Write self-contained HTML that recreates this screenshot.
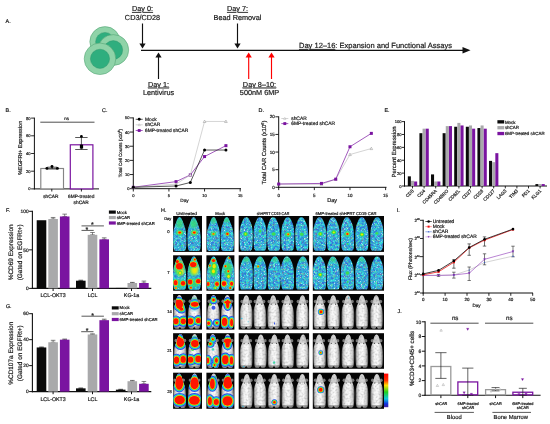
<!DOCTYPE html>
<html lang="en"><head><meta charset="utf-8"><title>Figure</title>
<style>
html,body{margin:0;padding:0;background:#fff;}
body{width:550px;height:424px;overflow:hidden;}
svg{display:block;font-family:"Liberation Sans",sans-serif;}
text{stroke:#1a1a1a;stroke-width:0.2px;text-rendering:geometricPrecision;}
</style></head><body>
<svg width="550" height="424" viewBox="0 0 550 424">
<rect width="550" height="424" fill="#fff"/>
<g font-size="4.2" fill="#222" text-anchor="middle">
<text x="186.6" y="215.35" textLength="20.8" lengthAdjust="spacingAndGlyphs">Untreated</text>
<text x="220.2" y="215.35" textLength="10" lengthAdjust="spacingAndGlyphs">Mock</text>
<text x="273.0" y="215.35" textLength="32.5" lengthAdjust="spacingAndGlyphs">shHPRT CD19 CAR</text>
<text x="346.0" y="215.35" textLength="61" lengthAdjust="spacingAndGlyphs">6MP-treated shHPRT CD19 CAR</text>
</g>
<defs>
<linearGradient id="bodyw" x1="0" y1="0" x2="1" y2="0"><stop offset="0" stop-color="#5a5a5a"/><stop offset="0.13" stop-color="#c4c4c4"/><stop offset="0.32" stop-color="#f4f4f4"/><stop offset="0.6" stop-color="#fbfbfb"/><stop offset="0.85" stop-color="#cdcdcd"/><stop offset="1" stop-color="#5a5a5a"/></linearGradient>
<linearGradient id="headw" x1="0" y1="0" x2="1" y2="0"><stop offset="0" stop-color="#777"/><stop offset="0.5" stop-color="#dcdcdc"/><stop offset="1" stop-color="#777"/></linearGradient>
<linearGradient id="cbar" x1="0" y1="0" x2="0" y2="1"><stop offset="0" stop-color="#ff0000"/><stop offset="0.2" stop-color="#ff3000"/><stop offset="0.35" stop-color="#ffe000"/><stop offset="0.55" stop-color="#20d020"/><stop offset="0.75" stop-color="#10c8e0"/><stop offset="0.9" stop-color="#1030e0"/><stop offset="1" stop-color="#4020a0"/></linearGradient>
<filter id="heat" x="0" y="0" width="1" height="1" color-interpolation-filters="sRGB"><feTurbulence type="fractalNoise" baseFrequency="0.45" numOctaves="2" seed="11" result="a"/><feColorMatrix in="a" type="matrix" values="2.6 0 0 0 -0.8  0 2.6 0 0 -0.8  2.6 0 0 0 -0.8  0 0 0 0 1"/><feComponentTransfer result="col"><feFuncR type="table" tableValues="0.26 0.20 0.17 0.19 0.25 0.38"/><feFuncG type="table" tableValues="0.46 0.56 0.64 0.70 0.78 0.87"/><feFuncB type="table" tableValues="0.86 0.87 0.86 0.83 0.78 0.70"/></feComponentTransfer><feTurbulence type="fractalNoise" baseFrequency="1.3" numOctaves="1" seed="23" result="b"/><feColorMatrix in="b" type="matrix" values="0 0 0 0 0.9  0 0 0 0 0.96  0 0 0 0 1  4 0 0 0 -2.38" result="spk"/><feMerge><feMergeNode in="col"/><feMergeNode in="spk"/></feMerge><feComposite in2="SourceGraphic" operator="in"/></filter>
<filter id="fur" x="0" y="0" width="1" height="1" color-interpolation-filters="sRGB"><feTurbulence type="fractalNoise" baseFrequency="0.5" numOctaves="2" seed="5" result="n"/><feColorMatrix in="n" type="matrix" values="0 0 0 0 0  0 0 0 0 0  0 0 0 0 0  -2.5 0 0 0 1.45"/><feComposite in2="SourceGraphic" operator="in"/></filter>
<filter id="bl" x="-0.3" y="-0.3" width="1.6" height="1.6"><feGaussianBlur stdDeviation="0.4"/></filter>
<filter id="blM" x="-0.5" y="-0.5" width="2" height="2"><feGaussianBlur stdDeviation="0.5"/></filter>
<filter id="blS" x="-0.5" y="-0.5" width="2" height="2"><feGaussianBlur stdDeviation="0.9"/></filter>
</defs>
<rect x="173.10" y="216.00" width="28.90" height="35.90" fill="#050505"/>
<clipPath id="m1"><path d="M179.55,216.90 C181.00,216.90 181.95,219.28 183.04,222.34 C184.40,226.08 186.27,228.80 186.37,237.98 C186.46,246.82 186.30,250.90 184.19,250.90 L175.61,250.90 C173.50,250.90 173.26,246.82 173.17,237.98 C173.07,228.80 174.89,226.08 176.17,222.34 C177.20,219.28 178.10,216.90 179.55,216.90Z"/></clipPath>
<path d="M179.55,216.90 C181.00,216.90 181.95,219.28 183.04,222.34 C184.40,226.08 186.27,228.80 186.37,237.98 C186.46,246.82 186.30,250.90 184.19,250.90 L175.61,250.90 C173.50,250.90 173.26,246.82 173.17,237.98 C173.07,228.80 174.89,226.08 176.17,222.34 C177.20,219.28 178.10,216.90 179.55,216.90Z" fill="#2b7fdc" filter="url(#heat)"/>
<g clip-path="url(#m1)"><g filter="url(#blS)">
<ellipse cx="179.62" cy="223.70" rx="4.50" ry="5.20" fill="#22c4ea" opacity="0.6"/>
<ellipse cx="179.62" cy="223.70" rx="3.80" ry="4.50" fill="#3fe23c" opacity="0.55"/>
</g></g>
<g clip-path="url(#m1)"><g filter="url(#blM)">
<ellipse cx="179.71" cy="232.54" rx="3.50" ry="2.90" fill="#3fe23c" opacity="0.9"/>
<ellipse cx="181.83" cy="245.80" rx="1.50" ry="1.50" fill="#22c4ea" opacity="0.6"/>
<ellipse cx="181.83" cy="245.80" rx="0.80" ry="0.80" fill="#3fe23c" opacity="0.85"/>
<ellipse cx="179.71" cy="232.54" rx="2.60" ry="2.00" fill="#ffe600" opacity="0.95"/>
</g></g>
<g clip-path="url(#m1)"><g filter="url(#bl)">
<ellipse cx="179.71" cy="232.54" rx="2.70" ry="2.30" fill="#22c4ea" opacity="1"/>
<ellipse cx="179.71" cy="232.54" rx="2.30" ry="1.90" fill="#3fe23c" opacity="1"/>
<ellipse cx="179.71" cy="232.54" rx="1.90" ry="1.50" fill="#ffe600" opacity="1"/>
<ellipse cx="179.71" cy="232.54" rx="1.50" ry="1.10" fill="#ff1400" opacity="1"/>
</g></g>
<clipPath id="m2"><path d="M193.61,216.90 C195.06,216.90 196.03,219.28 197.15,222.34 C198.55,226.08 200.45,228.80 200.64,237.98 C200.82,246.82 200.70,250.90 198.59,250.90 L190.01,250.90 C187.90,250.90 187.62,246.82 187.44,237.98 C187.25,228.80 189.04,226.08 190.29,222.34 C191.28,219.28 192.16,216.90 193.61,216.90Z"/></clipPath>
<path d="M193.61,216.90 C195.06,216.90 196.03,219.28 197.15,222.34 C198.55,226.08 200.45,228.80 200.64,237.98 C200.82,246.82 200.70,250.90 198.59,250.90 L190.01,250.90 C187.90,250.90 187.62,246.82 187.44,237.98 C187.25,228.80 189.04,226.08 190.29,222.34 C191.28,219.28 192.16,216.90 193.61,216.90Z" fill="#2b7fdc" filter="url(#heat)"/>
<g clip-path="url(#m2)"><g filter="url(#blS)">
<ellipse cx="193.75" cy="223.70" rx="4.50" ry="5.20" fill="#22c4ea" opacity="0.6"/>
<ellipse cx="193.75" cy="223.70" rx="3.80" ry="4.50" fill="#3fe23c" opacity="0.55"/>
</g></g>
<g clip-path="url(#m2)"><g filter="url(#blM)">
<ellipse cx="194.26" cy="232.54" rx="3.50" ry="2.90" fill="#3fe23c" opacity="0.9"/>
<ellipse cx="194.26" cy="232.54" rx="2.60" ry="2.00" fill="#ffe600" opacity="0.95"/>
</g></g>
<g clip-path="url(#m2)"><g filter="url(#bl)">
<ellipse cx="194.26" cy="232.54" rx="2.70" ry="2.30" fill="#22c4ea" opacity="1"/>
<ellipse cx="194.26" cy="232.54" rx="2.30" ry="1.90" fill="#3fe23c" opacity="1"/>
<ellipse cx="194.26" cy="232.54" rx="1.90" ry="1.50" fill="#ffe600" opacity="1"/>
<ellipse cx="194.26" cy="232.54" rx="1.50" ry="1.10" fill="#ff1400" opacity="1"/>
</g></g>
<rect x="206.40" y="216.00" width="28.00" height="35.90" fill="#050505"/>
<clipPath id="m3"><path d="M213.60,216.90 C215.05,216.90 215.95,219.28 216.98,222.34 C218.27,226.08 220.09,228.80 220.01,237.98 C219.94,246.82 219.70,250.90 217.59,250.90 L209.01,250.90 C206.90,250.90 206.74,246.82 206.81,237.98 C206.89,228.80 208.77,226.08 210.12,222.34 C211.20,219.28 212.15,216.90 213.60,216.90Z"/></clipPath>
<path d="M213.60,216.90 C215.05,216.90 215.95,219.28 216.98,222.34 C218.27,226.08 220.09,228.80 220.01,237.98 C219.94,246.82 219.70,250.90 217.59,250.90 L209.01,250.90 C206.90,250.90 206.74,246.82 206.81,237.98 C206.89,228.80 208.77,226.08 210.12,222.34 C211.20,219.28 212.15,216.90 213.60,216.90Z" fill="#2b7fdc" filter="url(#heat)"/>
<g clip-path="url(#m3)"><g filter="url(#blS)">
<ellipse cx="213.57" cy="220.30" rx="3.80" ry="3.10" fill="#22c4ea" opacity="0.6"/>
<ellipse cx="213.57" cy="220.30" rx="3.10" ry="2.40" fill="#3fe23c" opacity="0.55"/>
</g></g>
<g clip-path="url(#m3)"><g filter="url(#blM)">
<ellipse cx="213.45" cy="233.90" rx="2.60" ry="2.30" fill="#3fe23c" opacity="0.9"/>
<ellipse cx="213.45" cy="233.90" rx="1.70" ry="1.40" fill="#ffe600" opacity="0.95"/>
</g></g>
<g clip-path="url(#m3)"><g filter="url(#bl)">
<ellipse cx="213.45" cy="233.90" rx="2.00" ry="1.90" fill="#22c4ea" opacity="1"/>
<ellipse cx="213.45" cy="233.90" rx="1.60" ry="1.50" fill="#3fe23c" opacity="1"/>
<ellipse cx="213.45" cy="233.90" rx="1.20" ry="1.10" fill="#ffe600" opacity="1"/>
<ellipse cx="213.45" cy="233.90" rx="0.80" ry="0.70" fill="#ff1400" opacity="1"/>
</g></g>
<clipPath id="m4"><path d="M226.65,216.90 C228.11,216.90 229.09,219.28 230.22,222.34 C231.63,226.08 233.55,228.80 233.78,237.98 C234.00,246.82 233.90,250.90 231.79,250.90 L223.21,250.90 C221.10,250.90 220.80,246.82 220.58,237.98 C220.35,228.80 222.13,226.08 223.36,222.34 C224.34,219.28 225.20,216.90 226.65,216.90Z"/></clipPath>
<path d="M226.65,216.90 C228.11,216.90 229.09,219.28 230.22,222.34 C231.63,226.08 233.55,228.80 233.78,237.98 C234.00,246.82 233.90,250.90 231.79,250.90 L223.21,250.90 C221.10,250.90 220.80,246.82 220.58,237.98 C220.35,228.80 222.13,226.08 223.36,222.34 C224.34,219.28 225.20,216.90 226.65,216.90Z" fill="#2b7fdc" filter="url(#heat)"/>
<g clip-path="url(#m4)"><g filter="url(#blS)">
<ellipse cx="226.74" cy="220.30" rx="3.80" ry="3.10" fill="#22c4ea" opacity="0.6"/>
<ellipse cx="226.74" cy="220.30" rx="3.10" ry="2.40" fill="#3fe23c" opacity="0.55"/>
</g></g>
<g clip-path="url(#m4)"><g filter="url(#bl)">
<ellipse cx="227.41" cy="233.90" rx="2.50" ry="2.30" fill="#22c4ea" opacity="1"/>
<ellipse cx="227.41" cy="233.90" rx="2.10" ry="1.90" fill="#3fe23c" opacity="1"/>
<ellipse cx="227.41" cy="233.90" rx="1.70" ry="1.50" fill="#ffe600" opacity="1"/>
<ellipse cx="227.41" cy="233.90" rx="1.30" ry="1.10" fill="#ff1400" opacity="1"/>
</g></g>
<rect x="238.70" y="216.00" width="70.40" height="35.90" fill="#050505"/>
<clipPath id="m5"><path d="M246.27,217.20 C248.24,217.20 249.41,218.88 250.45,221.89 C251.63,224.57 252.80,227.25 252.78,235.62 C252.76,246.01 252.55,250.70 250.46,250.70 L241.94,250.70 C239.85,250.70 239.66,246.01 239.68,235.62 C239.70,227.25 240.88,224.57 242.07,221.89 C243.12,218.88 244.31,217.20 246.27,217.20Z"/></clipPath>
<path d="M246.27,217.20 C248.24,217.20 249.41,218.88 250.45,221.89 C251.63,224.57 252.80,227.25 252.78,235.62 C252.76,246.01 252.55,250.70 250.46,250.70 L241.94,250.70 C239.85,250.70 239.66,246.01 239.68,235.62 C239.70,227.25 240.88,224.57 242.07,221.89 C243.12,218.88 244.31,217.20 246.27,217.20Z" fill="#2b7fdc" filter="url(#heat)"/>
<g clip-path="url(#m5)"><g filter="url(#blM)">
<ellipse cx="245.58" cy="233.95" rx="3.00" ry="2.70" fill="#22c4ea" opacity="0.6"/>
<ellipse cx="245.58" cy="233.95" rx="2.30" ry="2.00" fill="#3fe23c" opacity="0.85"/>
<ellipse cx="245.58" cy="233.95" rx="1.80" ry="1.70" fill="#3fe23c" opacity="0.9"/>
<ellipse cx="245.58" cy="233.95" rx="0.90" ry="0.80" fill="#ffe600" opacity="0.95"/>
</g></g>
<clipPath id="m6"><path d="M259.94,217.20 C261.90,217.20 263.09,218.88 264.17,221.89 C265.37,224.57 266.57,227.25 266.63,235.62 C266.71,246.01 266.55,250.70 264.46,250.70 L255.94,250.70 C253.85,250.70 253.61,246.01 253.53,235.62 C253.47,227.25 254.62,224.57 255.78,221.89 C256.81,218.88 257.97,217.20 259.94,217.20Z"/></clipPath>
<path d="M259.94,217.20 C261.90,217.20 263.09,218.88 264.17,221.89 C265.37,224.57 266.57,227.25 266.63,235.62 C266.71,246.01 266.55,250.70 264.46,250.70 L255.94,250.70 C253.85,250.70 253.61,246.01 253.53,235.62 C253.47,227.25 254.62,224.57 255.78,221.89 C256.81,218.88 257.97,217.20 259.94,217.20Z" fill="#2b7fdc" filter="url(#heat)"/>
<g clip-path="url(#m6)"><g filter="url(#blM)">
<ellipse cx="260.05" cy="231.27" rx="2.10" ry="2.10" fill="#22c4ea" opacity="0.6"/>
<ellipse cx="260.05" cy="231.27" rx="1.40" ry="1.40" fill="#3fe23c" opacity="0.85"/>
</g></g>
<clipPath id="m7"><path d="M273.13,217.20 C275.10,217.20 276.32,218.88 277.45,221.89 C278.69,224.57 279.94,227.25 280.16,235.62 C280.43,246.01 280.35,250.70 278.26,250.70 L269.74,250.70 C267.65,250.70 267.33,246.01 267.06,235.62 C266.84,227.25 267.95,224.57 269.06,221.89 C270.03,218.88 271.17,217.20 273.13,217.20Z"/></clipPath>
<path d="M273.13,217.20 C275.10,217.20 276.32,218.88 277.45,221.89 C278.69,224.57 279.94,227.25 280.16,235.62 C280.43,246.01 280.35,250.70 278.26,250.70 L269.74,250.70 C267.65,250.70 267.33,246.01 267.06,235.62 C266.84,227.25 267.95,224.57 269.06,221.89 C270.03,218.88 271.17,217.20 273.13,217.20Z" fill="#2b7fdc" filter="url(#heat)"/>
<g clip-path="url(#m7)"><g filter="url(#blM)">
<ellipse cx="273.57" cy="233.95" rx="2.80" ry="2.50" fill="#22c4ea" opacity="0.6"/>
<ellipse cx="273.57" cy="233.95" rx="2.10" ry="1.80" fill="#3fe23c" opacity="0.85"/>
</g></g>
<clipPath id="m8"><path d="M287.81,217.20 C289.78,217.20 290.96,218.88 292.00,221.89 C293.18,224.57 294.36,227.25 294.36,235.62 C294.35,246.01 294.15,250.70 292.06,250.70 L283.54,250.70 C281.45,250.70 281.25,246.01 281.26,235.62 C281.26,227.25 282.44,224.57 283.62,221.89 C284.67,218.88 285.85,217.20 287.81,217.20Z"/></clipPath>
<path d="M287.81,217.20 C289.78,217.20 290.96,218.88 292.00,221.89 C293.18,224.57 294.36,227.25 294.36,235.62 C294.35,246.01 294.15,250.70 292.06,250.70 L283.54,250.70 C281.45,250.70 281.25,246.01 281.26,235.62 C281.26,227.25 282.44,224.57 283.62,221.89 C284.67,218.88 285.85,217.20 287.81,217.20Z" fill="#2b7fdc" filter="url(#heat)"/>
<g clip-path="url(#m8)"><g filter="url(#blM)">
<ellipse cx="288.13" cy="234.28" rx="3.50" ry="3.10" fill="#22c4ea" opacity="0.6"/>
<ellipse cx="288.13" cy="234.28" rx="2.80" ry="2.40" fill="#3fe23c" opacity="0.85"/>
<ellipse cx="288.13" cy="234.28" rx="2.60" ry="2.30" fill="#3fe23c" opacity="0.9"/>
<ellipse cx="288.13" cy="234.28" rx="1.70" ry="1.40" fill="#ffe600" opacity="0.95"/>
</g></g>
<g clip-path="url(#m8)"><g filter="url(#bl)">
<ellipse cx="288.13" cy="234.28" rx="2.10" ry="2.00" fill="#22c4ea" opacity="1"/>
<ellipse cx="288.13" cy="234.28" rx="1.70" ry="1.60" fill="#3fe23c" opacity="1"/>
<ellipse cx="288.13" cy="234.28" rx="1.30" ry="1.20" fill="#ffe600" opacity="1"/>
<ellipse cx="288.13" cy="234.28" rx="0.90" ry="0.80" fill="#ff1400" opacity="1"/>
</g></g>
<clipPath id="m9"><path d="M301.29,217.20 C303.26,217.20 304.48,218.88 305.61,221.89 C306.86,224.57 308.11,227.25 308.34,235.62 C308.62,246.01 308.55,250.70 306.46,250.70 L297.94,250.70 C295.85,250.70 295.52,246.01 295.24,235.62 C295.01,227.25 296.12,224.57 297.23,221.89 C298.19,218.88 299.33,217.20 301.29,217.20Z"/></clipPath>
<path d="M301.29,217.20 C303.26,217.20 304.48,218.88 305.61,221.89 C306.86,224.57 308.11,227.25 308.34,235.62 C308.62,246.01 308.55,250.70 306.46,250.70 L297.94,250.70 C295.85,250.70 295.52,246.01 295.24,235.62 C295.01,227.25 296.12,224.57 297.23,221.89 C298.19,218.88 299.33,217.20 301.29,217.20Z" fill="#2b7fdc" filter="url(#heat)"/>
<g clip-path="url(#m9)"><g filter="url(#blM)">
<ellipse cx="301.75" cy="234.28" rx="2.60" ry="2.40" fill="#22c4ea" opacity="0.6"/>
<ellipse cx="301.75" cy="234.28" rx="1.90" ry="1.70" fill="#3fe23c" opacity="0.85"/>
</g></g>
<rect x="312.80" y="216.00" width="71.20" height="35.90" fill="#050505"/>
<clipPath id="m10"><path d="M319.67,217.20 C321.63,217.20 322.82,218.88 323.88,221.89 C325.07,224.57 326.26,227.25 326.29,235.62 C326.33,246.01 326.15,250.70 324.06,250.70 L315.54,250.70 C313.45,250.70 313.23,246.01 313.19,235.62 C313.16,227.25 314.33,224.57 315.50,221.89 C316.53,218.88 317.70,217.20 319.67,217.20Z"/></clipPath>
<path d="M319.67,217.20 C321.63,217.20 322.82,218.88 323.88,221.89 C325.07,224.57 326.26,227.25 326.29,235.62 C326.33,246.01 326.15,250.70 324.06,250.70 L315.54,250.70 C313.45,250.70 313.23,246.01 313.19,235.62 C313.16,227.25 314.33,224.57 315.50,221.89 C316.53,218.88 317.70,217.20 319.67,217.20Z" fill="#2b7fdc" filter="url(#heat)"/>
<g clip-path="url(#m10)"><g filter="url(#blM)">
<ellipse cx="320.39" cy="233.95" rx="3.00" ry="2.60" fill="#22c4ea" opacity="0.6"/>
<ellipse cx="320.39" cy="233.95" rx="2.30" ry="1.90" fill="#3fe23c" opacity="0.85"/>
<ellipse cx="320.39" cy="233.95" rx="1.70" ry="1.60" fill="#3fe23c" opacity="0.9"/>
<ellipse cx="320.39" cy="233.95" rx="0.80" ry="0.70" fill="#ffe600" opacity="0.95"/>
</g></g>
<clipPath id="m11"><path d="M332.75,217.20 C334.72,217.20 335.94,218.88 337.07,221.89 C338.31,224.57 339.56,227.25 339.77,235.62 C340.03,246.01 339.95,250.70 337.86,250.70 L329.34,250.70 C327.25,250.70 326.93,246.01 326.67,235.62 C326.46,227.25 327.57,224.57 328.68,221.89 C329.65,218.88 330.79,217.20 332.75,217.20Z"/></clipPath>
<path d="M332.75,217.20 C334.72,217.20 335.94,218.88 337.07,221.89 C338.31,224.57 339.56,227.25 339.77,235.62 C340.03,246.01 339.95,250.70 337.86,250.70 L329.34,250.70 C327.25,250.70 326.93,246.01 326.67,235.62 C326.46,227.25 327.57,224.57 328.68,221.89 C329.65,218.88 330.79,217.20 332.75,217.20Z" fill="#2b7fdc" filter="url(#heat)"/>
<g clip-path="url(#m11)"><g filter="url(#blM)">
<ellipse cx="333.79" cy="232.28" rx="3.10" ry="2.80" fill="#22c4ea" opacity="0.6"/>
<ellipse cx="333.79" cy="232.28" rx="2.40" ry="2.10" fill="#3fe23c" opacity="0.85"/>
<ellipse cx="333.79" cy="232.28" rx="1.90" ry="1.80" fill="#3fe23c" opacity="0.9"/>
<ellipse cx="333.79" cy="232.28" rx="1.00" ry="0.90" fill="#ffe600" opacity="0.95"/>
</g></g>
<clipPath id="m12"><path d="M347.00,217.20 C348.96,217.20 350.18,218.88 351.30,221.89 C352.54,224.57 353.79,227.25 353.99,235.62 C354.24,246.01 354.15,250.70 352.06,250.70 L343.54,250.70 C341.45,250.70 341.14,246.01 340.89,235.62 C340.69,227.25 341.80,224.57 342.92,221.89 C343.89,218.88 345.03,217.20 347.00,217.20Z"/></clipPath>
<path d="M347.00,217.20 C348.96,217.20 350.18,218.88 351.30,221.89 C352.54,224.57 353.79,227.25 353.99,235.62 C354.24,246.01 354.15,250.70 352.06,250.70 L343.54,250.70 C341.45,250.70 341.14,246.01 340.89,235.62 C340.69,227.25 341.80,224.57 342.92,221.89 C343.89,218.88 345.03,217.20 347.00,217.20Z" fill="#2b7fdc" filter="url(#heat)"/>
<g clip-path="url(#m12)"><g filter="url(#blM)">
<ellipse cx="347.40" cy="233.95" rx="3.60" ry="3.20" fill="#22c4ea" opacity="0.6"/>
<ellipse cx="347.40" cy="233.95" rx="2.90" ry="2.50" fill="#3fe23c" opacity="0.85"/>
<ellipse cx="347.40" cy="233.95" rx="2.80" ry="2.50" fill="#3fe23c" opacity="0.9"/>
<ellipse cx="347.64" cy="244.00" rx="1.60" ry="1.60" fill="#22c4ea" opacity="0.6"/>
<ellipse cx="347.64" cy="244.00" rx="0.90" ry="0.90" fill="#3fe23c" opacity="0.85"/>
<ellipse cx="347.40" cy="233.95" rx="1.90" ry="1.60" fill="#ffe600" opacity="0.95"/>
</g></g>
<g clip-path="url(#m12)"><g filter="url(#bl)">
<ellipse cx="347.40" cy="233.95" rx="2.40" ry="2.20" fill="#22c4ea" opacity="1"/>
<ellipse cx="347.40" cy="233.95" rx="2.00" ry="1.80" fill="#3fe23c" opacity="1"/>
<ellipse cx="347.40" cy="233.95" rx="1.60" ry="1.40" fill="#ffe600" opacity="1"/>
<ellipse cx="347.40" cy="233.95" rx="1.20" ry="1.00" fill="#ff1400" opacity="1"/>
</g></g>
<clipPath id="m13"><path d="M361.85,217.20 C363.82,217.20 365.00,218.88 366.06,221.89 C367.26,224.57 368.45,227.25 368.48,235.62 C368.53,246.01 368.35,250.70 366.26,250.70 L357.74,250.70 C355.65,250.70 355.43,246.01 355.38,235.62 C355.35,227.25 356.51,224.57 357.68,221.89 C358.72,218.88 359.89,217.20 361.85,217.20Z"/></clipPath>
<path d="M361.85,217.20 C363.82,217.20 365.00,218.88 366.06,221.89 C367.26,224.57 368.45,227.25 368.48,235.62 C368.53,246.01 368.35,250.70 366.26,250.70 L357.74,250.70 C355.65,250.70 355.43,246.01 355.38,235.62 C355.35,227.25 356.51,224.57 357.68,221.89 C358.72,218.88 359.89,217.20 361.85,217.20Z" fill="#2b7fdc" filter="url(#heat)"/>
<g clip-path="url(#m13)"><g filter="url(#blM)">
<ellipse cx="361.93" cy="234.62" rx="3.10" ry="2.70" fill="#22c4ea" opacity="0.6"/>
<ellipse cx="361.93" cy="234.62" rx="2.40" ry="2.00" fill="#3fe23c" opacity="0.85"/>
<ellipse cx="361.93" cy="234.62" rx="2.10" ry="1.90" fill="#3fe23c" opacity="0.9"/>
<ellipse cx="361.93" cy="234.62" rx="1.20" ry="1.00" fill="#ffe600" opacity="0.95"/>
</g></g>
<clipPath id="m14"><path d="M377.24,217.20 C379.21,217.20 380.35,218.88 381.34,221.89 C382.47,224.57 383.60,227.25 383.44,235.62 C383.24,246.01 382.95,250.70 380.86,250.70 L372.34,250.70 C370.25,250.70 370.14,246.01 370.34,235.62 C370.50,227.25 371.73,224.57 372.96,221.89 C374.07,218.88 375.28,217.20 377.24,217.20Z"/></clipPath>
<path d="M377.24,217.20 C379.21,217.20 380.35,218.88 381.34,221.89 C382.47,224.57 383.60,227.25 383.44,235.62 C383.24,246.01 382.95,250.70 380.86,250.70 L372.34,250.70 C370.25,250.70 370.14,246.01 370.34,235.62 C370.50,227.25 371.73,224.57 372.96,221.89 C374.07,218.88 375.28,217.20 377.24,217.20Z" fill="#2b7fdc" filter="url(#heat)"/>
<g clip-path="url(#m14)"><g filter="url(#blM)">
<ellipse cx="376.93" cy="233.28" rx="2.20" ry="2.10" fill="#22c4ea" opacity="0.6"/>
<ellipse cx="376.93" cy="233.28" rx="1.50" ry="1.40" fill="#3fe23c" opacity="0.85"/>
</g></g>
<rect x="173.10" y="255.30" width="28.90" height="35.40" fill="#050505"/>
<clipPath id="m15"><path d="M179.16,256.20 C180.61,256.20 181.58,258.55 182.71,261.56 C184.11,265.25 186.02,267.93 186.22,276.97 C186.41,285.68 186.30,289.70 184.19,289.70 L175.61,289.70 C173.50,289.70 173.21,285.68 173.02,276.97 C172.82,267.93 174.60,265.25 175.84,261.56 C176.83,258.55 177.70,256.20 179.16,256.20Z"/></clipPath>
<path d="M179.16,256.20 C180.61,256.20 181.58,258.55 182.71,261.56 C184.11,265.25 186.02,267.93 186.22,276.97 C186.41,285.68 186.30,289.70 184.19,289.70 L175.61,289.70 C173.50,289.70 173.21,285.68 173.02,276.97 C172.82,267.93 174.60,265.25 175.84,261.56 C176.83,258.55 177.70,256.20 179.16,256.20Z" fill="#2b7fdc" filter="url(#heat)"/>
<g clip-path="url(#m15)"><g filter="url(#blS)">
<ellipse cx="179.42" cy="267.93" rx="5.70" ry="8.70" fill="#22c4ea" opacity="0.6"/>
<ellipse cx="179.42" cy="267.93" rx="5.00" ry="8.00" fill="#3fe23c" opacity="0.9"/>
<ellipse cx="179.77" cy="283.67" rx="5.90" ry="4.70" fill="#22c4ea" opacity="0.6"/>
<ellipse cx="179.77" cy="283.67" rx="5.20" ry="4.00" fill="#3fe23c" opacity="0.75"/>
<ellipse cx="180.81" cy="271.27" rx="3.40" ry="4.40" fill="#3fe23c" opacity="0.9"/>
<ellipse cx="179.36" cy="265.58" rx="4.50" ry="5.10" fill="#3fe23c" opacity="0.9"/>
<ellipse cx="180.81" cy="271.27" rx="2.50" ry="3.50" fill="#ffe600" opacity="0.95"/>
<ellipse cx="179.36" cy="265.58" rx="3.60" ry="4.20" fill="#ffe600" opacity="0.95"/>
</g></g>
<g clip-path="url(#m15)"><g filter="url(#blM)">
<ellipse cx="180.19" cy="272.95" rx="2.10" ry="2.10" fill="#3fe23c" opacity="0.9"/>
<ellipse cx="180.19" cy="272.95" rx="1.20" ry="1.20" fill="#ffe600" opacity="0.95"/>
</g></g>
<g clip-path="url(#m15)"><g filter="url(#bl)">
<ellipse cx="179.38" cy="266.25" rx="4.60" ry="4.40" fill="#22c4ea" opacity="1"/>
<ellipse cx="177.29" cy="261.56" rx="2.80" ry="2.80" fill="#22c4ea" opacity="1"/>
<ellipse cx="175.65" cy="282.66" rx="3.20" ry="3.80" fill="#22c4ea" opacity="1"/>
<ellipse cx="183.06" cy="283.33" rx="3.40" ry="3.50" fill="#22c4ea" opacity="1"/>
<ellipse cx="175.90" cy="288.02" rx="2.00" ry="2.00" fill="#22c4ea" opacity="1"/>
<ellipse cx="179.38" cy="266.25" rx="4.20" ry="4.00" fill="#3fe23c" opacity="1"/>
<ellipse cx="177.29" cy="261.56" rx="2.40" ry="2.40" fill="#3fe23c" opacity="1"/>
<ellipse cx="175.65" cy="282.66" rx="2.80" ry="3.40" fill="#3fe23c" opacity="1"/>
<ellipse cx="183.06" cy="283.33" rx="3.00" ry="3.10" fill="#3fe23c" opacity="1"/>
<ellipse cx="175.90" cy="288.02" rx="1.60" ry="1.60" fill="#3fe23c" opacity="1"/>
<ellipse cx="179.38" cy="266.25" rx="3.80" ry="3.60" fill="#ffe600" opacity="1"/>
<ellipse cx="177.29" cy="261.56" rx="2.00" ry="2.00" fill="#ffe600" opacity="1"/>
<ellipse cx="175.65" cy="282.66" rx="2.40" ry="3.00" fill="#ffe600" opacity="1"/>
<ellipse cx="183.06" cy="283.33" rx="2.60" ry="2.70" fill="#ffe600" opacity="1"/>
<ellipse cx="175.90" cy="288.02" rx="1.20" ry="1.20" fill="#ffe600" opacity="1"/>
<ellipse cx="179.38" cy="266.25" rx="3.40" ry="3.20" fill="#ff1400" opacity="1"/>
<ellipse cx="177.29" cy="261.56" rx="1.60" ry="1.60" fill="#ff1400" opacity="1"/>
<ellipse cx="175.65" cy="282.66" rx="2.00" ry="2.60" fill="#ff1400" opacity="1"/>
<ellipse cx="183.06" cy="283.33" rx="2.20" ry="2.30" fill="#ff1400" opacity="1"/>
<ellipse cx="175.90" cy="288.02" rx="0.80" ry="0.80" fill="#ff1400" opacity="1"/>
</g></g>
<clipPath id="m16"><path d="M193.75,256.20 C195.20,256.20 196.17,258.55 197.27,261.56 C198.65,265.25 200.54,267.93 200.69,276.97 C200.83,285.68 200.70,289.70 198.59,289.70 L190.01,289.70 C187.90,289.70 187.63,285.68 187.49,276.97 C187.34,267.93 189.15,265.25 190.41,261.56 C191.41,258.55 192.30,256.20 193.75,256.20Z"/></clipPath>
<path d="M193.75,256.20 C195.20,256.20 196.17,258.55 197.27,261.56 C198.65,265.25 200.54,267.93 200.69,276.97 C200.83,285.68 200.70,289.70 198.59,289.70 L190.01,289.70 C187.90,289.70 187.63,285.68 187.49,276.97 C187.34,267.93 189.15,265.25 190.41,261.56 C191.41,258.55 192.30,256.20 193.75,256.20Z" fill="#2b7fdc" filter="url(#heat)"/>
<g clip-path="url(#m16)"><g filter="url(#blS)">
<ellipse cx="193.94" cy="267.93" rx="5.90" ry="8.70" fill="#22c4ea" opacity="0.6"/>
<ellipse cx="193.94" cy="267.93" rx="5.20" ry="8.00" fill="#3fe23c" opacity="0.9"/>
<ellipse cx="194.19" cy="283.00" rx="6.20" ry="4.70" fill="#22c4ea" opacity="0.6"/>
<ellipse cx="194.19" cy="283.00" rx="5.50" ry="4.00" fill="#3fe23c" opacity="0.75"/>
<ellipse cx="194.63" cy="269.60" rx="3.90" ry="5.40" fill="#3fe23c" opacity="0.9"/>
<ellipse cx="194.63" cy="269.60" rx="3.00" ry="4.50" fill="#ffe600" opacity="0.95"/>
</g></g>
<g clip-path="url(#m16)"><g filter="url(#bl)">
<ellipse cx="193.23" cy="264.57" rx="4.40" ry="3.80" fill="#22c4ea" opacity="1"/>
<ellipse cx="194.80" cy="259.55" rx="2.20" ry="2.20" fill="#22c4ea" opacity="1"/>
<ellipse cx="190.08" cy="282.00" rx="3.50" ry="3.60" fill="#22c4ea" opacity="1"/>
<ellipse cx="198.26" cy="281.32" rx="3.60" ry="3.40" fill="#22c4ea" opacity="1"/>
<ellipse cx="190.97" cy="287.69" rx="2.10" ry="2.10" fill="#22c4ea" opacity="1"/>
<ellipse cx="193.23" cy="264.57" rx="4.00" ry="3.40" fill="#3fe23c" opacity="1"/>
<ellipse cx="194.80" cy="259.55" rx="1.80" ry="1.80" fill="#3fe23c" opacity="1"/>
<ellipse cx="190.08" cy="282.00" rx="3.10" ry="3.20" fill="#3fe23c" opacity="1"/>
<ellipse cx="198.26" cy="281.32" rx="3.20" ry="3.00" fill="#3fe23c" opacity="1"/>
<ellipse cx="190.97" cy="287.69" rx="1.70" ry="1.70" fill="#3fe23c" opacity="1"/>
<ellipse cx="193.23" cy="264.57" rx="3.60" ry="3.00" fill="#ffe600" opacity="1"/>
<ellipse cx="194.80" cy="259.55" rx="1.40" ry="1.40" fill="#ffe600" opacity="1"/>
<ellipse cx="190.08" cy="282.00" rx="2.70" ry="2.80" fill="#ffe600" opacity="1"/>
<ellipse cx="198.26" cy="281.32" rx="2.80" ry="2.60" fill="#ffe600" opacity="1"/>
<ellipse cx="190.97" cy="287.69" rx="1.30" ry="1.30" fill="#ffe600" opacity="1"/>
<ellipse cx="193.23" cy="264.57" rx="3.20" ry="2.60" fill="#ff1400" opacity="1"/>
<ellipse cx="194.80" cy="259.55" rx="1.00" ry="1.00" fill="#ff1400" opacity="1"/>
<ellipse cx="190.08" cy="282.00" rx="2.30" ry="2.40" fill="#ff1400" opacity="1"/>
<ellipse cx="198.26" cy="281.32" rx="2.40" ry="2.20" fill="#ff1400" opacity="1"/>
<ellipse cx="190.97" cy="287.69" rx="0.90" ry="0.90" fill="#ff1400" opacity="1"/>
</g></g>
<rect x="206.40" y="255.30" width="28.00" height="35.40" fill="#050505"/>
<clipPath id="m17"><path d="M213.55,256.20 C215.00,256.20 215.91,258.55 216.94,261.56 C218.24,265.25 220.06,267.93 220.00,276.97 C219.93,285.68 219.70,289.70 217.59,289.70 L209.01,289.70 C206.90,289.70 206.73,285.68 206.80,276.97 C206.86,267.93 208.73,265.25 210.08,261.56 C211.16,258.55 212.10,256.20 213.55,256.20Z"/></clipPath>
<path d="M213.55,256.20 C215.00,256.20 215.91,258.55 216.94,261.56 C218.24,265.25 220.06,267.93 220.00,276.97 C219.93,285.68 219.70,289.70 217.59,289.70 L209.01,289.70 C206.90,289.70 206.73,285.68 206.80,276.97 C206.86,267.93 208.73,265.25 210.08,261.56 C211.16,258.55 212.10,256.20 213.55,256.20Z" fill="#2b7fdc" filter="url(#heat)"/>
<g clip-path="url(#m17)"><g filter="url(#blS)">
<ellipse cx="213.45" cy="269.60" rx="4.90" ry="7.70" fill="#22c4ea" opacity="0.6"/>
<ellipse cx="213.45" cy="269.60" rx="4.20" ry="7.00" fill="#3fe23c" opacity="0.85"/>
</g></g>
<g clip-path="url(#m17)"><g filter="url(#blM)">
<ellipse cx="214.14" cy="266.25" rx="2.50" ry="3.10" fill="#3fe23c" opacity="0.9"/>
<ellipse cx="213.44" cy="271.27" rx="2.40" ry="2.90" fill="#3fe23c" opacity="0.9"/>
<ellipse cx="215.29" cy="288.02" rx="1.90" ry="1.70" fill="#3fe23c" opacity="0.9"/>
<ellipse cx="214.14" cy="266.25" rx="1.60" ry="2.20" fill="#ffe600" opacity="0.95"/>
<ellipse cx="213.44" cy="271.27" rx="1.50" ry="2.00" fill="#ffe600" opacity="0.95"/>
<ellipse cx="215.29" cy="288.02" rx="1.00" ry="0.80" fill="#ffe600" opacity="0.95"/>
</g></g>
<g clip-path="url(#m17)"><g filter="url(#bl)">
<ellipse cx="213.52" cy="260.56" rx="2.90" ry="2.70" fill="#22c4ea" opacity="1"/>
<ellipse cx="209.85" cy="265.58" rx="2.00" ry="2.00" fill="#22c4ea" opacity="1"/>
<ellipse cx="208.06" cy="284.00" rx="2.70" ry="3.10" fill="#22c4ea" opacity="1"/>
<ellipse cx="216.97" cy="284.00" rx="3.10" ry="3.30" fill="#22c4ea" opacity="1"/>
<ellipse cx="213.52" cy="260.56" rx="2.50" ry="2.30" fill="#3fe23c" opacity="1"/>
<ellipse cx="209.85" cy="265.58" rx="1.60" ry="1.60" fill="#3fe23c" opacity="1"/>
<ellipse cx="208.06" cy="284.00" rx="2.30" ry="2.70" fill="#3fe23c" opacity="1"/>
<ellipse cx="216.97" cy="284.00" rx="2.70" ry="2.90" fill="#3fe23c" opacity="1"/>
<ellipse cx="213.52" cy="260.56" rx="2.10" ry="1.90" fill="#ffe600" opacity="1"/>
<ellipse cx="209.85" cy="265.58" rx="1.20" ry="1.20" fill="#ffe600" opacity="1"/>
<ellipse cx="208.06" cy="284.00" rx="1.90" ry="2.30" fill="#ffe600" opacity="1"/>
<ellipse cx="216.97" cy="284.00" rx="2.30" ry="2.50" fill="#ffe600" opacity="1"/>
<ellipse cx="213.52" cy="260.56" rx="1.70" ry="1.50" fill="#ff1400" opacity="1"/>
<ellipse cx="209.85" cy="265.58" rx="0.80" ry="0.80" fill="#ff1400" opacity="1"/>
<ellipse cx="208.06" cy="284.00" rx="1.50" ry="1.90" fill="#ff1400" opacity="1"/>
<ellipse cx="216.97" cy="284.00" rx="1.90" ry="2.10" fill="#ff1400" opacity="1"/>
</g></g>
<clipPath id="m18"><path d="M228.39,256.20 C229.84,256.20 230.70,258.55 231.68,261.56 C232.90,265.25 234.68,267.93 234.44,276.97 C234.21,285.68 233.90,289.70 231.79,289.70 L223.21,289.70 C221.10,289.70 221.01,285.68 221.24,276.97 C221.48,267.93 223.40,265.25 224.81,261.56 C225.95,258.55 226.93,256.20 228.39,256.20Z"/></clipPath>
<path d="M228.39,256.20 C229.84,256.20 230.70,258.55 231.68,261.56 C232.90,265.25 234.68,267.93 234.44,276.97 C234.21,285.68 233.90,289.70 231.79,289.70 L223.21,289.70 C221.10,289.70 221.01,285.68 221.24,276.97 C221.48,267.93 223.40,265.25 224.81,261.56 C225.95,258.55 226.93,256.20 228.39,256.20Z" fill="#2b7fdc" filter="url(#heat)"/>
<g clip-path="url(#m18)"><g filter="url(#blS)">
<ellipse cx="228.03" cy="269.60" rx="4.50" ry="7.70" fill="#22c4ea" opacity="0.6"/>
<ellipse cx="228.03" cy="269.60" rx="3.80" ry="7.00" fill="#3fe23c" opacity="0.8"/>
</g></g>
<g clip-path="url(#m18)"><g filter="url(#blM)">
<ellipse cx="228.51" cy="276.30" rx="2.10" ry="2.50" fill="#3fe23c" opacity="0.9"/>
<ellipse cx="228.51" cy="276.30" rx="1.20" ry="1.60" fill="#ffe600" opacity="0.95"/>
</g></g>
<g clip-path="url(#m18)"><g filter="url(#bl)">
<ellipse cx="229.66" cy="257.88" rx="2.10" ry="2.10" fill="#22c4ea" opacity="1"/>
<ellipse cx="225.48" cy="266.25" rx="2.10" ry="2.10" fill="#22c4ea" opacity="1"/>
<ellipse cx="228.32" cy="271.27" rx="2.10" ry="2.30" fill="#22c4ea" opacity="1"/>
<ellipse cx="224.03" cy="283.67" rx="3.40" ry="3.60" fill="#22c4ea" opacity="1"/>
<ellipse cx="231.62" cy="283.67" rx="2.80" ry="3.20" fill="#22c4ea" opacity="1"/>
<ellipse cx="230.18" cy="288.02" rx="2.20" ry="2.20" fill="#22c4ea" opacity="1"/>
<ellipse cx="229.66" cy="257.88" rx="1.70" ry="1.70" fill="#3fe23c" opacity="1"/>
<ellipse cx="225.48" cy="266.25" rx="1.70" ry="1.70" fill="#3fe23c" opacity="1"/>
<ellipse cx="228.32" cy="271.27" rx="1.70" ry="1.90" fill="#3fe23c" opacity="1"/>
<ellipse cx="224.03" cy="283.67" rx="3.00" ry="3.20" fill="#3fe23c" opacity="1"/>
<ellipse cx="231.62" cy="283.67" rx="2.40" ry="2.80" fill="#3fe23c" opacity="1"/>
<ellipse cx="230.18" cy="288.02" rx="1.80" ry="1.80" fill="#3fe23c" opacity="1"/>
<ellipse cx="229.66" cy="257.88" rx="1.30" ry="1.30" fill="#ffe600" opacity="1"/>
<ellipse cx="225.48" cy="266.25" rx="1.30" ry="1.30" fill="#ffe600" opacity="1"/>
<ellipse cx="228.32" cy="271.27" rx="1.30" ry="1.50" fill="#ffe600" opacity="1"/>
<ellipse cx="224.03" cy="283.67" rx="2.60" ry="2.80" fill="#ffe600" opacity="1"/>
<ellipse cx="231.62" cy="283.67" rx="2.00" ry="2.40" fill="#ffe600" opacity="1"/>
<ellipse cx="230.18" cy="288.02" rx="1.40" ry="1.40" fill="#ffe600" opacity="1"/>
<ellipse cx="229.66" cy="257.88" rx="0.90" ry="0.90" fill="#ff1400" opacity="1"/>
<ellipse cx="225.48" cy="266.25" rx="0.90" ry="0.90" fill="#ff1400" opacity="1"/>
<ellipse cx="228.32" cy="271.27" rx="0.90" ry="1.10" fill="#ff1400" opacity="1"/>
<ellipse cx="224.03" cy="283.67" rx="2.20" ry="2.40" fill="#ff1400" opacity="1"/>
<ellipse cx="231.62" cy="283.67" rx="1.60" ry="2.00" fill="#ff1400" opacity="1"/>
<ellipse cx="230.18" cy="288.02" rx="1.00" ry="1.00" fill="#ff1400" opacity="1"/>
</g></g>
<rect x="238.70" y="255.30" width="70.40" height="35.40" fill="#050505"/>
<clipPath id="m19"><path d="M246.35,256.50 C248.32,256.50 249.49,258.15 250.52,261.12 C251.69,263.76 252.86,266.40 252.82,274.65 C252.77,284.88 252.55,289.50 250.46,289.50 L241.94,289.50 C239.85,289.50 239.67,284.88 239.72,274.65 C239.76,266.40 240.95,263.76 242.14,261.12 C243.20,258.15 244.39,256.50 246.35,256.50Z"/></clipPath>
<path d="M246.35,256.50 C248.32,256.50 249.49,258.15 250.52,261.12 C251.69,263.76 252.86,266.40 252.82,274.65 C252.77,284.88 252.55,289.50 250.46,289.50 L241.94,289.50 C239.85,289.50 239.67,284.88 239.72,274.65 C239.76,266.40 240.95,263.76 242.14,261.12 C243.20,258.15 244.39,256.50 246.35,256.50Z" fill="#2b7fdc" filter="url(#heat)"/>
<g clip-path="url(#m19)"><g filter="url(#blS)">
<ellipse cx="246.34" cy="259.80" rx="3.80" ry="2.90" fill="#22c4ea" opacity="0.6"/>
<ellipse cx="246.34" cy="259.80" rx="3.10" ry="2.20" fill="#3fe23c" opacity="0.55"/>
</g></g>
<clipPath id="m20"><path d="M260.00,256.50 C261.96,256.50 263.15,258.15 264.22,261.12 C265.41,263.76 266.61,266.40 266.66,274.65 C266.72,284.88 266.55,289.50 264.46,289.50 L255.94,289.50 C253.85,289.50 253.62,284.88 253.56,274.65 C253.51,266.40 254.67,263.76 255.83,261.12 C256.86,258.15 258.03,256.50 260.00,256.50Z"/></clipPath>
<path d="M260.00,256.50 C261.96,256.50 263.15,258.15 264.22,261.12 C265.41,263.76 266.61,266.40 266.66,274.65 C266.72,284.88 266.55,289.50 264.46,289.50 L255.94,289.50 C253.85,289.50 253.62,284.88 253.56,274.65 C253.51,266.40 254.67,263.76 255.83,261.12 C256.86,258.15 258.03,256.50 260.00,256.50Z" fill="#2b7fdc" filter="url(#heat)"/>
<g clip-path="url(#m20)"><g filter="url(#blS)">
<ellipse cx="260.02" cy="259.80" rx="3.80" ry="2.90" fill="#22c4ea" opacity="0.6"/>
<ellipse cx="260.02" cy="259.80" rx="3.10" ry="2.20" fill="#3fe23c" opacity="0.55"/>
</g></g>
<g clip-path="url(#m20)"><g filter="url(#bl)">
<ellipse cx="258.09" cy="266.40" rx="1.90" ry="1.90" fill="#22c4ea" opacity="1"/>
<ellipse cx="258.09" cy="266.40" rx="1.50" ry="1.50" fill="#3fe23c" opacity="1"/>
<ellipse cx="258.09" cy="266.40" rx="1.10" ry="1.10" fill="#ffe600" opacity="1"/>
<ellipse cx="258.09" cy="266.40" rx="0.70" ry="0.70" fill="#ff1400" opacity="1"/>
</g></g>
<clipPath id="m21"><path d="M274.94,256.50 C276.90,256.50 278.03,258.15 279.00,261.12 C280.10,263.76 281.21,266.40 280.97,274.65 C280.68,284.88 280.35,289.50 278.26,289.50 L269.74,289.50 C267.65,289.50 267.58,284.88 267.87,274.65 C268.11,266.40 269.36,263.76 270.61,261.12 C271.75,258.15 272.97,256.50 274.94,256.50Z"/></clipPath>
<path d="M274.94,256.50 C276.90,256.50 278.03,258.15 279.00,261.12 C280.10,263.76 281.21,266.40 280.97,274.65 C280.68,284.88 280.35,289.50 278.26,289.50 L269.74,289.50 C267.65,289.50 267.58,284.88 267.87,274.65 C268.11,266.40 269.36,263.76 270.61,261.12 C271.75,258.15 272.97,256.50 274.94,256.50Z" fill="#2b7fdc" filter="url(#heat)"/>
<g clip-path="url(#m21)"><g filter="url(#blS)">
<ellipse cx="274.84" cy="259.80" rx="3.80" ry="2.70" fill="#22c4ea" opacity="0.6"/>
<ellipse cx="274.84" cy="259.80" rx="3.10" ry="2.00" fill="#3fe23c" opacity="0.55"/>
</g></g>
<clipPath id="m22"><path d="M286.91,256.50 C288.87,256.50 290.10,258.15 291.23,261.12 C292.48,263.76 293.73,266.40 293.95,274.65 C294.23,284.88 294.15,289.50 292.06,289.50 L283.54,289.50 C281.45,289.50 281.13,284.88 280.85,274.65 C280.63,266.40 281.73,263.76 282.84,261.12 C283.81,258.15 284.94,256.50 286.91,256.50Z"/></clipPath>
<path d="M286.91,256.50 C288.87,256.50 290.10,258.15 291.23,261.12 C292.48,263.76 293.73,266.40 293.95,274.65 C294.23,284.88 294.15,289.50 292.06,289.50 L283.54,289.50 C281.45,289.50 281.13,284.88 280.85,274.65 C280.63,266.40 281.73,263.76 282.84,261.12 C283.81,258.15 284.94,256.50 286.91,256.50Z" fill="#2b7fdc" filter="url(#heat)"/>
<g clip-path="url(#m22)"><g filter="url(#blS)">
<ellipse cx="287.00" cy="259.80" rx="3.80" ry="2.90" fill="#22c4ea" opacity="0.6"/>
<ellipse cx="287.00" cy="259.80" rx="3.10" ry="2.20" fill="#3fe23c" opacity="0.55"/>
</g></g>
<clipPath id="m23"><path d="M302.90,256.50 C304.87,256.50 306.01,258.15 307.00,261.12 C308.12,263.76 309.24,266.40 309.07,274.65 C308.85,284.88 308.55,289.50 306.46,289.50 L297.94,289.50 C295.85,289.50 295.75,284.88 295.97,274.65 C296.14,266.40 297.38,263.76 298.61,261.12 C299.73,258.15 300.94,256.50 302.90,256.50Z"/></clipPath>
<path d="M302.90,256.50 C304.87,256.50 306.01,258.15 307.00,261.12 C308.12,263.76 309.24,266.40 309.07,274.65 C308.85,284.88 308.55,289.50 306.46,289.50 L297.94,289.50 C295.85,289.50 295.75,284.88 295.97,274.65 C296.14,266.40 297.38,263.76 298.61,261.12 C299.73,258.15 300.94,256.50 302.90,256.50Z" fill="#2b7fdc" filter="url(#heat)"/>
<g clip-path="url(#m23)"><g filter="url(#blS)">
<ellipse cx="302.83" cy="259.80" rx="3.80" ry="2.50" fill="#22c4ea" opacity="0.6"/>
<ellipse cx="302.83" cy="259.80" rx="3.10" ry="1.80" fill="#3fe23c" opacity="0.55"/>
</g></g>
<rect x="312.80" y="255.30" width="71.20" height="35.40" fill="#050505"/>
<clipPath id="m24"><path d="M319.39,256.50 C321.35,256.50 322.55,258.15 323.64,261.12 C324.85,263.76 326.06,266.40 326.16,274.65 C326.29,284.88 326.15,289.50 324.06,289.50 L315.54,289.50 C313.45,289.50 313.19,284.88 313.06,274.65 C312.96,266.40 314.11,263.76 315.25,261.12 C316.26,258.15 317.42,256.50 319.39,256.50Z"/></clipPath>
<path d="M319.39,256.50 C321.35,256.50 322.55,258.15 323.64,261.12 C324.85,263.76 326.06,266.40 326.16,274.65 C326.29,284.88 326.15,289.50 324.06,289.50 L315.54,289.50 C313.45,289.50 313.19,284.88 313.06,274.65 C312.96,266.40 314.11,263.76 315.25,261.12 C316.26,258.15 317.42,256.50 319.39,256.50Z" fill="#2b7fdc" filter="url(#heat)"/>
<g clip-path="url(#m24)"><g filter="url(#blM)">
<ellipse cx="320.27" cy="274.65" rx="2.80" ry="2.60" fill="#22c4ea" opacity="0.6"/>
<ellipse cx="320.27" cy="274.65" rx="2.10" ry="1.90" fill="#3fe23c" opacity="0.85"/>
<ellipse cx="320.27" cy="274.65" rx="1.90" ry="1.80" fill="#3fe23c" opacity="0.9"/>
<ellipse cx="320.27" cy="274.65" rx="1.00" ry="0.90" fill="#ffe600" opacity="0.95"/>
</g></g>
<clipPath id="m25"><path d="M332.90,256.50 C334.87,256.50 336.08,258.15 337.19,261.12 C338.43,263.76 339.66,266.40 339.84,274.65 C340.05,284.88 339.95,289.50 337.86,289.50 L329.34,289.50 C327.25,289.50 326.95,284.88 326.74,274.65 C326.56,266.40 327.68,263.76 328.81,261.12 C329.79,258.15 330.94,256.50 332.90,256.50Z"/></clipPath>
<path d="M332.90,256.50 C334.87,256.50 336.08,258.15 337.19,261.12 C338.43,263.76 339.66,266.40 339.84,274.65 C340.05,284.88 339.95,289.50 337.86,289.50 L329.34,289.50 C327.25,289.50 326.95,284.88 326.74,274.65 C326.56,266.40 327.68,263.76 328.81,261.12 C329.79,258.15 330.94,256.50 332.90,256.50Z" fill="#2b7fdc" filter="url(#heat)"/>
<g clip-path="url(#m25)"><g filter="url(#blS)">
<ellipse cx="332.97" cy="259.80" rx="3.80" ry="2.90" fill="#22c4ea" opacity="0.6"/>
<ellipse cx="332.97" cy="259.80" rx="3.10" ry="2.20" fill="#3fe23c" opacity="0.55"/>
</g></g>
<clipPath id="m26"><path d="M347.05,256.50 C349.01,256.50 350.23,258.15 351.35,261.12 C352.59,263.76 353.82,266.40 354.01,274.65 C354.24,284.88 354.15,289.50 352.06,289.50 L343.54,289.50 C341.45,289.50 341.14,284.88 340.91,274.65 C340.72,266.40 341.84,263.76 342.96,261.12 C343.94,258.15 345.08,256.50 347.05,256.50Z"/></clipPath>
<path d="M347.05,256.50 C349.01,256.50 350.23,258.15 351.35,261.12 C352.59,263.76 353.82,266.40 354.01,274.65 C354.24,284.88 354.15,289.50 352.06,289.50 L343.54,289.50 C341.45,289.50 341.14,284.88 340.91,274.65 C340.72,266.40 341.84,263.76 342.96,261.12 C343.94,258.15 345.08,256.50 347.05,256.50Z" fill="#2b7fdc" filter="url(#heat)"/>
<g clip-path="url(#m26)"><g filter="url(#blM)">
<ellipse cx="347.42" cy="273.00" rx="2.60" ry="2.40" fill="#22c4ea" opacity="0.6"/>
<ellipse cx="347.42" cy="273.00" rx="1.90" ry="1.70" fill="#3fe23c" opacity="0.85"/>
<ellipse cx="347.63" cy="281.91" rx="1.60" ry="1.60" fill="#22c4ea" opacity="0.6"/>
<ellipse cx="347.63" cy="281.91" rx="0.90" ry="0.90" fill="#3fe23c" opacity="0.85"/>
</g></g>
<clipPath id="m27"><path d="M361.62,256.50 C363.59,256.50 364.79,258.15 365.87,261.12 C367.08,263.76 368.29,266.40 368.38,274.65 C368.50,284.88 368.35,289.50 366.26,289.50 L357.74,289.50 C355.65,289.50 355.40,284.88 355.28,274.65 C355.19,266.40 356.34,263.76 357.48,261.12 C358.50,258.15 359.66,256.50 361.62,256.50Z"/></clipPath>
<path d="M361.62,256.50 C363.59,256.50 364.79,258.15 365.87,261.12 C367.08,263.76 368.29,266.40 368.38,274.65 C368.50,284.88 368.35,289.50 366.26,289.50 L357.74,289.50 C355.65,289.50 355.40,284.88 355.28,274.65 C355.19,266.40 356.34,263.76 357.48,261.12 C358.50,258.15 359.66,256.50 361.62,256.50Z" fill="#2b7fdc" filter="url(#heat)"/>
<g clip-path="url(#m27)"><g filter="url(#blS)">
<ellipse cx="361.66" cy="259.80" rx="3.80" ry="2.50" fill="#22c4ea" opacity="0.6"/>
<ellipse cx="361.66" cy="259.80" rx="3.10" ry="1.80" fill="#3fe23c" opacity="0.55"/>
</g></g>
<clipPath id="m28"><path d="M377.22,256.50 C379.19,256.50 380.33,258.15 381.33,261.12 C382.46,263.76 383.58,266.40 383.43,274.65 C383.24,284.88 382.95,289.50 380.86,289.50 L372.34,289.50 C370.25,289.50 370.14,284.88 370.33,274.65 C370.48,266.40 371.71,263.76 372.94,261.12 C374.05,258.15 375.26,256.50 377.22,256.50Z"/></clipPath>
<path d="M377.22,256.50 C379.19,256.50 380.33,258.15 381.33,261.12 C382.46,263.76 383.58,266.40 383.43,274.65 C383.24,284.88 382.95,289.50 380.86,289.50 L372.34,289.50 C370.25,289.50 370.14,284.88 370.33,274.65 C370.48,266.40 371.71,263.76 372.94,261.12 C374.05,258.15 375.26,256.50 377.22,256.50Z" fill="#2b7fdc" filter="url(#heat)"/>
<rect x="173.10" y="294.00" width="28.90" height="35.60" fill="#050505"/>
<clipPath id="m29"><path d="M179.29,294.90 C180.89,294.90 182.02,297.60 182.93,301.64 C183.44,305.01 185.89,306.02 186.06,315.12 C186.23,324.56 186.11,328.60 183.87,328.60 L181.18,328.60 L180.52,327.25 L179.24,327.25 L178.62,328.60 L175.93,328.60 C173.69,328.60 173.42,324.56 173.25,315.12 C173.09,306.02 175.50,305.01 175.89,301.64 C176.65,297.60 177.69,294.90 179.29,294.90Z"/></clipPath>
<ellipse cx="175.06" cy="301.30" rx="1.54" ry="1.69" fill="#7a7a7a"/>
<ellipse cx="183.76" cy="301.30" rx="1.54" ry="1.69" fill="#7a7a7a"/>
<path d="M179.29,294.90 C180.89,294.90 182.02,297.60 182.93,301.64 C183.44,305.01 185.89,306.02 186.06,315.12 C186.23,324.56 186.11,328.60 183.87,328.60 L181.18,328.60 L180.52,327.25 L179.24,327.25 L178.62,328.60 L175.93,328.60 C173.69,328.60 173.42,324.56 173.25,315.12 C173.09,306.02 175.50,305.01 175.89,301.64 C176.65,297.60 177.69,294.90 179.29,294.90Z" fill="url(#bodyw)"/>
<g clip-path="url(#m29)">
<rect x="172.00" y="294.90" width="15.80" height="9.10" fill="#808080" opacity="0.3"/>
<rect x="172.00" y="326.24" width="15.80" height="2.70" fill="#444" opacity="0.5"/>
<rect x="172.00" y="294.90" width="15.80" height="33.70" fill="#555" filter="url(#fur)" opacity="0.16"/>
<circle cx="177.28" cy="304.00" r="0.6" fill="#2a2a2a" opacity="0.85"/>
<circle cx="181.64" cy="304.00" r="0.6" fill="#2a2a2a" opacity="0.85"/>
</g>
<g clip-path="url(#m29)"><g filter="url(#blM)">
<ellipse cx="179.79" cy="322.53" rx="2.70" ry="2.70" fill="#22c4ea" opacity="0.6"/>
<ellipse cx="179.79" cy="322.53" rx="2.00" ry="2.00" fill="#3fe23c" opacity="0.85"/>
</g></g>
<g clip-path="url(#m29)"><g filter="url(#bl)">
<ellipse cx="179.46" cy="304.34" rx="6.40" ry="7.40" fill="#2a48e6" opacity="1"/>
<ellipse cx="176.85" cy="301.64" rx="4.80" ry="4.80" fill="#2a48e6" opacity="1"/>
<ellipse cx="181.46" cy="309.05" rx="4.80" ry="4.40" fill="#2a48e6" opacity="1"/>
<ellipse cx="175.92" cy="321.19" rx="5.40" ry="5.80" fill="#2a48e6" opacity="1"/>
<ellipse cx="183.29" cy="321.19" rx="5.40" ry="5.60" fill="#2a48e6" opacity="1"/>
<ellipse cx="179.46" cy="304.34" rx="5.50" ry="6.50" fill="#22c4ea" opacity="1"/>
<ellipse cx="176.85" cy="301.64" rx="3.90" ry="3.90" fill="#22c4ea" opacity="1"/>
<ellipse cx="181.46" cy="309.05" rx="3.90" ry="3.50" fill="#22c4ea" opacity="1"/>
<ellipse cx="175.92" cy="321.19" rx="4.50" ry="4.90" fill="#22c4ea" opacity="1"/>
<ellipse cx="183.29" cy="321.19" rx="4.50" ry="4.70" fill="#22c4ea" opacity="1"/>
<ellipse cx="179.46" cy="304.34" rx="4.65" ry="5.65" fill="#3fe23c" opacity="1"/>
<ellipse cx="176.85" cy="301.64" rx="3.05" ry="3.05" fill="#3fe23c" opacity="1"/>
<ellipse cx="181.46" cy="309.05" rx="3.05" ry="2.65" fill="#3fe23c" opacity="1"/>
<ellipse cx="175.92" cy="321.19" rx="3.65" ry="4.05" fill="#3fe23c" opacity="1"/>
<ellipse cx="183.29" cy="321.19" rx="3.65" ry="3.85" fill="#3fe23c" opacity="1"/>
<ellipse cx="179.46" cy="304.34" rx="4.05" ry="5.05" fill="#ffe600" opacity="1"/>
<ellipse cx="176.85" cy="301.64" rx="2.45" ry="2.45" fill="#ffe600" opacity="1"/>
<ellipse cx="181.46" cy="309.05" rx="2.45" ry="2.05" fill="#ffe600" opacity="1"/>
<ellipse cx="175.92" cy="321.19" rx="3.05" ry="3.45" fill="#ffe600" opacity="1"/>
<ellipse cx="183.29" cy="321.19" rx="3.05" ry="3.25" fill="#ffe600" opacity="1"/>
<ellipse cx="179.46" cy="304.34" rx="3.60" ry="4.60" fill="#ff1400" opacity="1"/>
<ellipse cx="176.85" cy="301.64" rx="2.00" ry="2.00" fill="#ff1400" opacity="1"/>
<ellipse cx="181.46" cy="309.05" rx="2.00" ry="1.60" fill="#ff1400" opacity="1"/>
<ellipse cx="175.92" cy="321.19" rx="2.60" ry="3.00" fill="#ff1400" opacity="1"/>
<ellipse cx="183.29" cy="321.19" rx="2.60" ry="2.80" fill="#ff1400" opacity="1"/>
</g></g>
<clipPath id="m30"><path d="M194.46,294.90 C196.06,294.90 197.13,297.60 197.95,301.64 C198.38,305.01 200.81,306.02 200.76,315.12 C200.72,324.56 200.51,328.60 198.27,328.60 L195.58,328.60 L194.95,327.25 L193.67,327.25 L193.02,328.60 L190.33,328.60 C188.09,328.60 187.92,324.56 187.96,315.12 C188.00,306.02 190.44,305.01 190.90,301.64 C191.76,297.60 192.86,294.90 194.46,294.90Z"/></clipPath>
<ellipse cx="190.07" cy="301.30" rx="1.54" ry="1.69" fill="#7a7a7a"/>
<ellipse cx="198.78" cy="301.30" rx="1.54" ry="1.69" fill="#7a7a7a"/>
<path d="M194.46,294.90 C196.06,294.90 197.13,297.60 197.95,301.64 C198.38,305.01 200.81,306.02 200.76,315.12 C200.72,324.56 200.51,328.60 198.27,328.60 L195.58,328.60 L194.95,327.25 L193.67,327.25 L193.02,328.60 L190.33,328.60 C188.09,328.60 187.92,324.56 187.96,315.12 C188.00,306.02 190.44,305.01 190.90,301.64 C191.76,297.60 192.86,294.90 194.46,294.90Z" fill="url(#bodyw)"/>
<g clip-path="url(#m30)">
<rect x="186.40" y="294.90" width="15.80" height="9.10" fill="#808080" opacity="0.3"/>
<rect x="186.40" y="326.24" width="15.80" height="2.70" fill="#444" opacity="0.5"/>
<rect x="186.40" y="294.90" width="15.80" height="33.70" fill="#555" filter="url(#fur)" opacity="0.16"/>
<circle cx="192.24" cy="304.00" r="0.6" fill="#2a2a2a" opacity="0.85"/>
<circle cx="196.59" cy="304.00" r="0.6" fill="#2a2a2a" opacity="0.85"/>
</g>
<g clip-path="url(#m30)"><g filter="url(#blS)">
<ellipse cx="194.43" cy="300.29" rx="3.90" ry="2.70" fill="#22c4ea" opacity="0.6"/>
<ellipse cx="194.43" cy="300.29" rx="3.20" ry="2.00" fill="#3fe23c" opacity="0.55"/>
<ellipse cx="194.39" cy="308.38" rx="3.50" ry="1.50" fill="#22c4ea" opacity="0.9"/>
</g></g>
<g clip-path="url(#m30)"><g filter="url(#blM)">
<ellipse cx="194.33" cy="322.53" rx="2.90" ry="2.90" fill="#3fe23c" opacity="0.9"/>
<ellipse cx="194.33" cy="322.53" rx="2.00" ry="2.00" fill="#ffe600" opacity="0.95"/>
</g></g>
<g clip-path="url(#m30)"><g filter="url(#bl)">
<ellipse cx="194.73" cy="304.34" rx="6.60" ry="5.20" fill="#2a48e6" opacity="1"/>
<ellipse cx="190.37" cy="321.19" rx="5.60" ry="5.80" fill="#2a48e6" opacity="1"/>
<ellipse cx="198.31" cy="320.51" rx="5.20" ry="5.40" fill="#2a48e6" opacity="1"/>
<ellipse cx="194.73" cy="304.34" rx="5.70" ry="4.30" fill="#22c4ea" opacity="1"/>
<ellipse cx="190.37" cy="321.19" rx="4.70" ry="4.90" fill="#22c4ea" opacity="1"/>
<ellipse cx="198.31" cy="320.51" rx="4.30" ry="4.50" fill="#22c4ea" opacity="1"/>
<ellipse cx="194.73" cy="304.34" rx="4.85" ry="3.45" fill="#3fe23c" opacity="1"/>
<ellipse cx="190.37" cy="321.19" rx="3.85" ry="4.05" fill="#3fe23c" opacity="1"/>
<ellipse cx="198.31" cy="320.51" rx="3.45" ry="3.65" fill="#3fe23c" opacity="1"/>
<ellipse cx="194.73" cy="304.34" rx="4.25" ry="2.85" fill="#ffe600" opacity="1"/>
<ellipse cx="190.37" cy="321.19" rx="3.25" ry="3.45" fill="#ffe600" opacity="1"/>
<ellipse cx="198.31" cy="320.51" rx="2.85" ry="3.05" fill="#ffe600" opacity="1"/>
<ellipse cx="194.73" cy="304.34" rx="3.80" ry="2.40" fill="#ff1400" opacity="1"/>
<ellipse cx="190.37" cy="321.19" rx="2.80" ry="3.00" fill="#ff1400" opacity="1"/>
<ellipse cx="198.31" cy="320.51" rx="2.40" ry="2.60" fill="#ff1400" opacity="1"/>
</g></g>
<rect x="206.40" y="294.00" width="28.00" height="35.60" fill="#050505"/>
<clipPath id="m31"><path d="M213.57,294.90 C215.17,294.90 216.23,297.60 217.03,301.64 C217.46,305.01 219.88,306.02 219.81,315.12 C219.73,324.56 219.51,328.60 217.27,328.60 L214.58,328.60 L213.95,327.25 L212.67,327.25 L212.02,328.60 L209.33,328.60 C207.09,328.60 206.93,324.56 207.00,315.12 C207.08,306.02 209.52,305.01 209.99,301.64 C210.86,297.60 211.97,294.90 213.57,294.90Z"/></clipPath>
<ellipse cx="209.16" cy="301.30" rx="1.54" ry="1.69" fill="#7a7a7a"/>
<ellipse cx="217.87" cy="301.30" rx="1.54" ry="1.69" fill="#7a7a7a"/>
<path d="M213.57,294.90 C215.17,294.90 216.23,297.60 217.03,301.64 C217.46,305.01 219.88,306.02 219.81,315.12 C219.73,324.56 219.51,328.60 217.27,328.60 L214.58,328.60 L213.95,327.25 L212.67,327.25 L212.02,328.60 L209.33,328.60 C207.09,328.60 206.93,324.56 207.00,315.12 C207.08,306.02 209.52,305.01 209.99,301.64 C210.86,297.60 211.97,294.90 213.57,294.90Z" fill="url(#bodyw)"/>
<g clip-path="url(#m31)">
<rect x="205.40" y="294.90" width="15.80" height="9.10" fill="#808080" opacity="0.3"/>
<rect x="205.40" y="326.24" width="15.80" height="2.70" fill="#444" opacity="0.5"/>
<rect x="205.40" y="294.90" width="15.80" height="33.70" fill="#555" filter="url(#fur)" opacity="0.16"/>
<circle cx="211.32" cy="304.00" r="0.6" fill="#2a2a2a" opacity="0.85"/>
<circle cx="215.67" cy="304.00" r="0.6" fill="#2a2a2a" opacity="0.85"/>
</g>
<g clip-path="url(#m31)"><g filter="url(#blM)">
<ellipse cx="210.29" cy="304.34" rx="1.50" ry="1.50" fill="#3fe23c" opacity="0.9"/>
<ellipse cx="213.47" cy="307.71" rx="2.00" ry="2.00" fill="#2a48e6" opacity="0.9"/>
<ellipse cx="214.62" cy="323.88" rx="2.10" ry="1.90" fill="#3fe23c" opacity="0.9"/>
<ellipse cx="210.29" cy="304.34" rx="0.60" ry="0.60" fill="#ffe600" opacity="0.95"/>
<ellipse cx="214.62" cy="323.88" rx="1.20" ry="1.00" fill="#ffe600" opacity="0.95"/>
</g></g>
<g clip-path="url(#m31)"><g filter="url(#bl)">
<ellipse cx="213.53" cy="299.95" rx="4.20" ry="4.20" fill="#2a48e6" opacity="1"/>
<ellipse cx="208.54" cy="323.21" rx="4.30" ry="4.60" fill="#2a48e6" opacity="1"/>
<ellipse cx="216.87" cy="322.87" rx="4.00" ry="4.00" fill="#2a48e6" opacity="1"/>
<ellipse cx="213.53" cy="299.95" rx="3.30" ry="3.30" fill="#22c4ea" opacity="1"/>
<ellipse cx="208.54" cy="323.21" rx="3.40" ry="3.70" fill="#22c4ea" opacity="1"/>
<ellipse cx="216.87" cy="322.87" rx="3.10" ry="3.10" fill="#22c4ea" opacity="1"/>
<ellipse cx="213.53" cy="299.95" rx="2.45" ry="2.45" fill="#3fe23c" opacity="1"/>
<ellipse cx="208.54" cy="323.21" rx="2.55" ry="2.85" fill="#3fe23c" opacity="1"/>
<ellipse cx="216.87" cy="322.87" rx="2.25" ry="2.25" fill="#3fe23c" opacity="1"/>
<ellipse cx="213.53" cy="299.95" rx="1.85" ry="1.85" fill="#ffe600" opacity="1"/>
<ellipse cx="208.54" cy="323.21" rx="1.95" ry="2.25" fill="#ffe600" opacity="1"/>
<ellipse cx="216.87" cy="322.87" rx="1.65" ry="1.65" fill="#ffe600" opacity="1"/>
<ellipse cx="213.53" cy="299.95" rx="1.40" ry="1.40" fill="#ff1400" opacity="1"/>
<ellipse cx="208.54" cy="323.21" rx="1.50" ry="1.80" fill="#ff1400" opacity="1"/>
<ellipse cx="216.87" cy="322.87" rx="1.20" ry="1.20" fill="#ff1400" opacity="1"/>
</g></g>
<clipPath id="m32"><path d="M227.25,294.90 C228.86,294.90 229.96,297.60 230.83,301.64 C231.30,305.01 233.74,306.02 233.80,315.12 C233.87,324.56 233.71,328.60 231.47,328.60 L228.78,328.60 L228.13,327.25 L226.85,327.25 L226.22,328.60 L223.53,328.60 C221.29,328.60 221.07,324.56 221.00,315.12 C220.93,306.02 223.36,305.01 223.78,301.64 C224.59,297.60 225.65,294.90 227.25,294.90Z"/></clipPath>
<ellipse cx="222.95" cy="301.30" rx="1.54" ry="1.69" fill="#7a7a7a"/>
<ellipse cx="231.66" cy="301.30" rx="1.54" ry="1.69" fill="#7a7a7a"/>
<path d="M227.25,294.90 C228.86,294.90 229.96,297.60 230.83,301.64 C231.30,305.01 233.74,306.02 233.80,315.12 C233.87,324.56 233.71,328.60 231.47,328.60 L228.78,328.60 L228.13,327.25 L226.85,327.25 L226.22,328.60 L223.53,328.60 C221.29,328.60 221.07,324.56 221.00,315.12 C220.93,306.02 223.36,305.01 223.78,301.64 C224.59,297.60 225.65,294.90 227.25,294.90Z" fill="url(#bodyw)"/>
<g clip-path="url(#m32)">
<rect x="219.60" y="294.90" width="15.80" height="9.10" fill="#808080" opacity="0.3"/>
<rect x="219.60" y="326.24" width="15.80" height="2.70" fill="#444" opacity="0.5"/>
<rect x="219.60" y="294.90" width="15.80" height="33.70" fill="#555" filter="url(#fur)" opacity="0.16"/>
<circle cx="225.15" cy="304.00" r="0.6" fill="#2a2a2a" opacity="0.85"/>
<circle cx="229.50" cy="304.00" r="0.6" fill="#2a2a2a" opacity="0.85"/>
</g>
<g clip-path="url(#m32)"><g filter="url(#blM)">
<ellipse cx="227.94" cy="301.64" rx="1.70" ry="1.70" fill="#3fe23c" opacity="0.9"/>
<ellipse cx="227.94" cy="301.64" rx="0.80" ry="0.80" fill="#ffe600" opacity="0.95"/>
</g></g>
<g clip-path="url(#m32)"><g filter="url(#bl)">
<ellipse cx="227.64" cy="304.00" rx="4.40" ry="7.00" fill="#2a48e6" opacity="1"/>
<ellipse cx="227.63" cy="302.31" rx="6.20" ry="4.20" fill="#2a48e6" opacity="1"/>
<ellipse cx="224.57" cy="321.86" rx="5.50" ry="7.00" fill="#2a48e6" opacity="1"/>
<ellipse cx="231.62" cy="322.53" rx="4.30" ry="6.60" fill="#2a48e6" opacity="1"/>
<ellipse cx="227.64" cy="304.00" rx="3.50" ry="6.10" fill="#22c4ea" opacity="1"/>
<ellipse cx="227.63" cy="302.31" rx="5.30" ry="3.30" fill="#22c4ea" opacity="1"/>
<ellipse cx="224.57" cy="321.86" rx="4.60" ry="6.10" fill="#22c4ea" opacity="1"/>
<ellipse cx="231.62" cy="322.53" rx="3.40" ry="5.70" fill="#22c4ea" opacity="1"/>
<ellipse cx="227.64" cy="304.00" rx="2.65" ry="5.25" fill="#3fe23c" opacity="1"/>
<ellipse cx="227.63" cy="302.31" rx="4.45" ry="2.45" fill="#3fe23c" opacity="1"/>
<ellipse cx="224.57" cy="321.86" rx="3.75" ry="5.25" fill="#3fe23c" opacity="1"/>
<ellipse cx="231.62" cy="322.53" rx="2.55" ry="4.85" fill="#3fe23c" opacity="1"/>
<ellipse cx="227.64" cy="304.00" rx="2.05" ry="4.65" fill="#ffe600" opacity="1"/>
<ellipse cx="227.63" cy="302.31" rx="3.85" ry="1.85" fill="#ffe600" opacity="1"/>
<ellipse cx="224.57" cy="321.86" rx="3.15" ry="4.65" fill="#ffe600" opacity="1"/>
<ellipse cx="231.62" cy="322.53" rx="1.95" ry="4.25" fill="#ffe600" opacity="1"/>
<ellipse cx="227.64" cy="304.00" rx="1.60" ry="4.20" fill="#ff1400" opacity="1"/>
<ellipse cx="227.63" cy="302.31" rx="3.40" ry="1.40" fill="#ff1400" opacity="1"/>
<ellipse cx="224.57" cy="321.86" rx="2.70" ry="4.20" fill="#ff1400" opacity="1"/>
<ellipse cx="231.62" cy="322.53" rx="1.50" ry="3.80" fill="#ff1400" opacity="1"/>
</g></g>
<rect x="238.70" y="294.00" width="70.40" height="35.60" fill="#050505"/>
<clipPath id="m33"><path d="M246.29,295.20 C247.88,295.20 248.95,297.86 249.77,301.84 C250.20,305.16 252.61,306.16 252.59,315.12 C252.56,324.42 252.36,328.40 250.14,328.40 L247.47,328.40 L246.84,327.07 L245.57,327.07 L244.93,328.40 L242.26,328.40 C240.04,328.40 239.86,324.42 239.88,315.12 C239.91,306.16 242.32,305.16 242.78,301.84 C243.62,297.86 244.70,295.20 246.29,295.20Z"/></clipPath>
<ellipse cx="241.95" cy="301.51" rx="1.52" ry="1.66" fill="#7a7a7a"/>
<ellipse cx="250.59" cy="301.51" rx="1.52" ry="1.66" fill="#7a7a7a"/>
<path d="M246.29,295.20 C247.88,295.20 248.95,297.86 249.77,301.84 C250.20,305.16 252.61,306.16 252.59,315.12 C252.56,324.42 252.36,328.40 250.14,328.40 L247.47,328.40 L246.84,327.07 L245.57,327.07 L244.93,328.40 L242.26,328.40 C240.04,328.40 239.86,324.42 239.88,315.12 C239.91,306.16 242.32,305.16 242.78,301.84 C243.62,297.86 244.70,295.20 246.29,295.20Z" fill="url(#bodyw)"/>
<g clip-path="url(#m33)">
<rect x="238.35" y="295.20" width="15.71" height="8.96" fill="#808080" opacity="0.3"/>
<rect x="238.35" y="326.08" width="15.71" height="2.66" fill="#444" opacity="0.5"/>
<rect x="238.35" y="295.20" width="15.71" height="33.20" fill="#555" filter="url(#fur)" opacity="0.16"/>
<circle cx="244.11" cy="304.16" r="0.6" fill="#2a2a2a" opacity="0.85"/>
<circle cx="248.43" cy="304.16" r="0.6" fill="#2a2a2a" opacity="0.85"/>
</g>
<g clip-path="url(#m33)"><g filter="url(#blM)">
<ellipse cx="241.78" cy="318.44" rx="0.70" ry="0.70" fill="#22c4ea" opacity="0.9"/>
<ellipse cx="248.12" cy="321.76" rx="0.50" ry="0.50" fill="#22c4ea" opacity="0.9"/>
</g></g>
<clipPath id="m34"><path d="M259.37,295.20 C260.96,295.20 262.10,297.86 263.03,301.84 C263.56,305.16 266.00,306.16 266.22,315.12 C266.45,324.42 266.36,328.40 264.14,328.40 L261.47,328.40 L260.80,327.07 L259.53,327.07 L258.93,328.40 L256.26,328.40 C254.04,328.40 253.75,324.42 253.51,315.12 C253.29,306.16 255.68,305.16 256.04,301.84 C256.76,297.86 257.78,295.20 259.37,295.20Z"/></clipPath>
<ellipse cx="255.21" cy="301.51" rx="1.52" ry="1.66" fill="#7a7a7a"/>
<ellipse cx="263.85" cy="301.51" rx="1.52" ry="1.66" fill="#7a7a7a"/>
<path d="M259.37,295.20 C260.96,295.20 262.10,297.86 263.03,301.84 C263.56,305.16 266.00,306.16 266.22,315.12 C266.45,324.42 266.36,328.40 264.14,328.40 L261.47,328.40 L260.80,327.07 L259.53,327.07 L258.93,328.40 L256.26,328.40 C254.04,328.40 253.75,324.42 253.51,315.12 C253.29,306.16 255.68,305.16 256.04,301.84 C256.76,297.86 257.78,295.20 259.37,295.20Z" fill="url(#bodyw)"/>
<g clip-path="url(#m34)">
<rect x="252.35" y="295.20" width="15.71" height="8.96" fill="#808080" opacity="0.3"/>
<rect x="252.35" y="326.08" width="15.71" height="2.66" fill="#444" opacity="0.5"/>
<rect x="252.35" y="295.20" width="15.71" height="33.20" fill="#555" filter="url(#fur)" opacity="0.16"/>
<circle cx="257.44" cy="304.16" r="0.6" fill="#2a2a2a" opacity="0.85"/>
<circle cx="261.76" cy="304.16" r="0.6" fill="#2a2a2a" opacity="0.85"/>
</g>
<clipPath id="m35"><path d="M273.16,295.20 C274.75,295.20 275.90,297.86 276.82,301.84 C277.35,305.16 279.79,306.16 280.02,315.12 C280.25,324.42 280.16,328.40 277.94,328.40 L275.27,328.40 L274.60,327.07 L273.33,327.07 L272.73,328.40 L270.06,328.40 C267.84,328.40 267.55,324.42 267.31,315.12 C267.08,306.16 269.47,305.16 269.83,301.84 C270.56,297.86 271.57,295.20 273.16,295.20Z"/></clipPath>
<ellipse cx="269.01" cy="301.51" rx="1.52" ry="1.66" fill="#7a7a7a"/>
<ellipse cx="277.65" cy="301.51" rx="1.52" ry="1.66" fill="#7a7a7a"/>
<path d="M273.16,295.20 C274.75,295.20 275.90,297.86 276.82,301.84 C277.35,305.16 279.79,306.16 280.02,315.12 C280.25,324.42 280.16,328.40 277.94,328.40 L275.27,328.40 L274.60,327.07 L273.33,327.07 L272.73,328.40 L270.06,328.40 C267.84,328.40 267.55,324.42 267.31,315.12 C267.08,306.16 269.47,305.16 269.83,301.84 C270.56,297.86 271.57,295.20 273.16,295.20Z" fill="url(#bodyw)"/>
<g clip-path="url(#m35)">
<rect x="266.15" y="295.20" width="15.71" height="8.96" fill="#808080" opacity="0.3"/>
<rect x="266.15" y="326.08" width="15.71" height="2.66" fill="#444" opacity="0.5"/>
<rect x="266.15" y="295.20" width="15.71" height="33.20" fill="#555" filter="url(#fur)" opacity="0.16"/>
<circle cx="271.24" cy="304.16" r="0.6" fill="#2a2a2a" opacity="0.85"/>
<circle cx="275.56" cy="304.16" r="0.6" fill="#2a2a2a" opacity="0.85"/>
</g>
<g clip-path="url(#m35)"><g filter="url(#blM)">
<ellipse cx="274.51" cy="323.42" rx="0.60" ry="1.20" fill="#2a48e6" opacity="0.9"/>
</g></g>
<clipPath id="m36"><path d="M287.24,295.20 C288.83,295.20 289.95,297.86 290.85,301.84 C291.35,305.16 293.78,306.16 293.93,315.12 C294.09,324.42 293.96,328.40 291.74,328.40 L289.07,328.40 L288.41,327.07 L287.14,327.07 L286.53,328.40 L283.86,328.40 C281.64,328.40 281.38,324.42 281.22,315.12 C281.07,306.16 283.47,305.16 283.86,301.84 C284.62,297.86 285.65,295.20 287.24,295.20Z"/></clipPath>
<ellipse cx="283.03" cy="301.51" rx="1.52" ry="1.66" fill="#7a7a7a"/>
<ellipse cx="291.67" cy="301.51" rx="1.52" ry="1.66" fill="#7a7a7a"/>
<path d="M287.24,295.20 C288.83,295.20 289.95,297.86 290.85,301.84 C291.35,305.16 293.78,306.16 293.93,315.12 C294.09,324.42 293.96,328.40 291.74,328.40 L289.07,328.40 L288.41,327.07 L287.14,327.07 L286.53,328.40 L283.86,328.40 C281.64,328.40 281.38,324.42 281.22,315.12 C281.07,306.16 283.47,305.16 283.86,301.84 C284.62,297.86 285.65,295.20 287.24,295.20Z" fill="url(#bodyw)"/>
<g clip-path="url(#m36)">
<rect x="279.95" y="295.20" width="15.71" height="8.96" fill="#808080" opacity="0.3"/>
<rect x="279.95" y="326.08" width="15.71" height="2.66" fill="#444" opacity="0.5"/>
<rect x="279.95" y="295.20" width="15.71" height="33.20" fill="#555" filter="url(#fur)" opacity="0.16"/>
<circle cx="285.24" cy="304.16" r="0.6" fill="#2a2a2a" opacity="0.85"/>
<circle cx="289.56" cy="304.16" r="0.6" fill="#2a2a2a" opacity="0.85"/>
</g>
<clipPath id="m37"><path d="M302.54,295.20 C304.13,295.20 305.18,297.86 305.97,301.84 C306.38,305.16 308.78,306.16 308.69,315.12 C308.59,324.42 308.36,328.40 306.14,328.40 L303.47,328.40 L302.85,327.07 L301.58,327.07 L300.93,328.40 L298.26,328.40 C296.04,328.40 295.89,324.42 295.98,315.12 C296.08,306.16 298.50,305.16 298.98,301.84 C299.85,297.86 300.96,295.20 302.54,295.20Z"/></clipPath>
<ellipse cx="298.15" cy="301.51" rx="1.52" ry="1.66" fill="#7a7a7a"/>
<ellipse cx="306.80" cy="301.51" rx="1.52" ry="1.66" fill="#7a7a7a"/>
<path d="M302.54,295.20 C304.13,295.20 305.18,297.86 305.97,301.84 C306.38,305.16 308.78,306.16 308.69,315.12 C308.59,324.42 308.36,328.40 306.14,328.40 L303.47,328.40 L302.85,327.07 L301.58,327.07 L300.93,328.40 L298.26,328.40 C296.04,328.40 295.89,324.42 295.98,315.12 C296.08,306.16 298.50,305.16 298.98,301.84 C299.85,297.86 300.96,295.20 302.54,295.20Z" fill="url(#bodyw)"/>
<g clip-path="url(#m37)">
<rect x="294.35" y="295.20" width="15.71" height="8.96" fill="#808080" opacity="0.3"/>
<rect x="294.35" y="326.08" width="15.71" height="2.66" fill="#444" opacity="0.5"/>
<rect x="294.35" y="295.20" width="15.71" height="33.20" fill="#555" filter="url(#fur)" opacity="0.16"/>
<circle cx="300.29" cy="304.16" r="0.6" fill="#2a2a2a" opacity="0.85"/>
<circle cx="304.61" cy="304.16" r="0.6" fill="#2a2a2a" opacity="0.85"/>
</g>
<rect x="312.80" y="294.00" width="71.20" height="35.60" fill="#050505"/>
<clipPath id="m38"><path d="M319.66,295.20 C321.25,295.20 322.34,297.86 323.18,301.84 C323.64,305.16 326.06,306.16 326.10,315.12 C326.14,324.42 325.96,328.40 323.74,328.40 L321.07,328.40 L320.43,327.07 L319.16,327.07 L318.53,328.40 L315.86,328.40 C313.64,328.40 313.43,324.42 313.39,315.12 C313.35,306.16 315.76,305.16 316.20,301.84 C317.00,297.86 318.07,295.20 319.66,295.20Z"/></clipPath>
<ellipse cx="315.37" cy="301.51" rx="1.52" ry="1.66" fill="#7a7a7a"/>
<ellipse cx="324.01" cy="301.51" rx="1.52" ry="1.66" fill="#7a7a7a"/>
<path d="M319.66,295.20 C321.25,295.20 322.34,297.86 323.18,301.84 C323.64,305.16 326.06,306.16 326.10,315.12 C326.14,324.42 325.96,328.40 323.74,328.40 L321.07,328.40 L320.43,327.07 L319.16,327.07 L318.53,328.40 L315.86,328.40 C313.64,328.40 313.43,324.42 313.39,315.12 C313.35,306.16 315.76,305.16 316.20,301.84 C317.00,297.86 318.07,295.20 319.66,295.20Z" fill="url(#bodyw)"/>
<g clip-path="url(#m38)">
<rect x="311.95" y="295.20" width="15.71" height="8.96" fill="#808080" opacity="0.3"/>
<rect x="311.95" y="326.08" width="15.71" height="2.66" fill="#444" opacity="0.5"/>
<rect x="311.95" y="295.20" width="15.71" height="33.20" fill="#555" filter="url(#fur)" opacity="0.16"/>
<circle cx="317.54" cy="304.16" r="0.6" fill="#2a2a2a" opacity="0.85"/>
<circle cx="321.86" cy="304.16" r="0.6" fill="#2a2a2a" opacity="0.85"/>
</g>
<g clip-path="url(#m38)"><g filter="url(#bl)">
<ellipse cx="321.00" cy="311.80" rx="3.15" ry="3.15" fill="#2a48e6" opacity="1"/>
<ellipse cx="321.00" cy="311.80" rx="2.70" ry="2.70" fill="#22c4ea" opacity="1"/>
<ellipse cx="321.00" cy="311.80" rx="2.30" ry="2.30" fill="#3fe23c" opacity="1"/>
<ellipse cx="321.00" cy="311.80" rx="1.90" ry="1.90" fill="#ffe600" opacity="1"/>
<ellipse cx="321.00" cy="311.80" rx="1.50" ry="1.50" fill="#ff1400" opacity="1"/>
</g></g>
<clipPath id="m39"><path d="M333.25,295.20 C334.83,295.20 335.94,297.86 336.81,301.84 C337.29,305.16 339.72,306.16 339.81,315.12 C339.91,324.42 339.76,328.40 337.54,328.40 L334.87,328.40 L334.22,327.07 L332.95,327.07 L332.33,328.40 L329.66,328.40 C327.44,328.40 327.20,324.42 327.10,315.12 C327.01,306.16 329.41,305.16 329.82,301.84 C330.61,297.86 331.66,295.20 333.25,295.20Z"/></clipPath>
<ellipse cx="329.00" cy="301.51" rx="1.52" ry="1.66" fill="#7a7a7a"/>
<ellipse cx="337.64" cy="301.51" rx="1.52" ry="1.66" fill="#7a7a7a"/>
<path d="M333.25,295.20 C334.83,295.20 335.94,297.86 336.81,301.84 C337.29,305.16 339.72,306.16 339.81,315.12 C339.91,324.42 339.76,328.40 337.54,328.40 L334.87,328.40 L334.22,327.07 L332.95,327.07 L332.33,328.40 L329.66,328.40 C327.44,328.40 327.20,324.42 327.10,315.12 C327.01,306.16 329.41,305.16 329.82,301.84 C330.61,297.86 331.66,295.20 333.25,295.20Z" fill="url(#bodyw)"/>
<g clip-path="url(#m39)">
<rect x="325.75" y="295.20" width="15.71" height="8.96" fill="#808080" opacity="0.3"/>
<rect x="325.75" y="326.08" width="15.71" height="2.66" fill="#444" opacity="0.5"/>
<rect x="325.75" y="295.20" width="15.71" height="33.20" fill="#555" filter="url(#fur)" opacity="0.16"/>
<circle cx="331.18" cy="304.16" r="0.6" fill="#2a2a2a" opacity="0.85"/>
<circle cx="335.51" cy="304.16" r="0.6" fill="#2a2a2a" opacity="0.85"/>
</g>
<clipPath id="m40"><path d="M347.96,295.20 C349.55,295.20 350.62,297.86 351.42,301.84 C351.85,305.16 354.26,306.16 354.22,315.12 C354.17,324.42 353.96,328.40 351.74,328.40 L349.07,328.40 L348.44,327.07 L347.17,327.07 L346.53,328.40 L343.86,328.40 C341.64,328.40 341.47,324.42 341.51,315.12 C341.56,306.16 343.97,305.16 344.44,301.84 C345.28,297.86 346.37,295.20 347.96,295.20Z"/></clipPath>
<ellipse cx="343.61" cy="301.51" rx="1.52" ry="1.66" fill="#7a7a7a"/>
<ellipse cx="352.25" cy="301.51" rx="1.52" ry="1.66" fill="#7a7a7a"/>
<path d="M347.96,295.20 C349.55,295.20 350.62,297.86 351.42,301.84 C351.85,305.16 354.26,306.16 354.22,315.12 C354.17,324.42 353.96,328.40 351.74,328.40 L349.07,328.40 L348.44,327.07 L347.17,327.07 L346.53,328.40 L343.86,328.40 C341.64,328.40 341.47,324.42 341.51,315.12 C341.56,306.16 343.97,305.16 344.44,301.84 C345.28,297.86 346.37,295.20 347.96,295.20Z" fill="url(#bodyw)"/>
<g clip-path="url(#m40)">
<rect x="339.95" y="295.20" width="15.71" height="8.96" fill="#808080" opacity="0.3"/>
<rect x="339.95" y="326.08" width="15.71" height="2.66" fill="#444" opacity="0.5"/>
<rect x="339.95" y="295.20" width="15.71" height="33.20" fill="#555" filter="url(#fur)" opacity="0.16"/>
<circle cx="345.76" cy="304.16" r="0.6" fill="#2a2a2a" opacity="0.85"/>
<circle cx="350.08" cy="304.16" r="0.6" fill="#2a2a2a" opacity="0.85"/>
</g>
<g clip-path="url(#m40)"><g filter="url(#blM)">
<ellipse cx="348.59" cy="297.86" rx="0.60" ry="0.60" fill="#22c4ea" opacity="0.9"/>
</g></g>
<clipPath id="m41"><path d="M361.91,295.20 C363.50,295.20 364.59,297.86 365.42,301.84 C365.88,305.16 368.29,306.16 368.32,315.12 C368.34,324.42 368.16,328.40 365.94,328.40 L363.27,328.40 L362.63,327.07 L361.36,327.07 L360.73,328.40 L358.06,328.40 C355.84,328.40 355.64,324.42 355.61,315.12 C355.59,306.16 358.00,305.16 358.43,301.84 C359.25,297.86 360.32,295.20 361.91,295.20Z"/></clipPath>
<ellipse cx="357.61" cy="301.51" rx="1.52" ry="1.66" fill="#7a7a7a"/>
<ellipse cx="366.25" cy="301.51" rx="1.52" ry="1.66" fill="#7a7a7a"/>
<path d="M361.91,295.20 C363.50,295.20 364.59,297.86 365.42,301.84 C365.88,305.16 368.29,306.16 368.32,315.12 C368.34,324.42 368.16,328.40 365.94,328.40 L363.27,328.40 L362.63,327.07 L361.36,327.07 L360.73,328.40 L358.06,328.40 C355.84,328.40 355.64,324.42 355.61,315.12 C355.59,306.16 358.00,305.16 358.43,301.84 C359.25,297.86 360.32,295.20 361.91,295.20Z" fill="url(#bodyw)"/>
<g clip-path="url(#m41)">
<rect x="354.15" y="295.20" width="15.71" height="8.96" fill="#808080" opacity="0.3"/>
<rect x="354.15" y="326.08" width="15.71" height="2.66" fill="#444" opacity="0.5"/>
<rect x="354.15" y="295.20" width="15.71" height="33.20" fill="#555" filter="url(#fur)" opacity="0.16"/>
<circle cx="359.78" cy="304.16" r="0.6" fill="#2a2a2a" opacity="0.85"/>
<circle cx="364.10" cy="304.16" r="0.6" fill="#2a2a2a" opacity="0.85"/>
</g>
<clipPath id="m42"><path d="M376.22,295.20 C377.81,295.20 378.92,297.86 379.79,301.84 C380.27,305.16 382.70,306.16 382.80,315.12 C382.91,324.42 382.76,328.40 380.54,328.40 L377.87,328.40 L377.22,327.07 L375.95,327.07 L375.33,328.40 L372.66,328.40 C370.44,328.40 370.20,324.42 370.09,315.12 C369.99,306.16 372.39,305.16 372.80,301.84 C373.58,297.86 374.63,295.20 376.22,295.20Z"/></clipPath>
<ellipse cx="371.97" cy="301.51" rx="1.52" ry="1.66" fill="#7a7a7a"/>
<ellipse cx="380.62" cy="301.51" rx="1.52" ry="1.66" fill="#7a7a7a"/>
<path d="M376.22,295.20 C377.81,295.20 378.92,297.86 379.79,301.84 C380.27,305.16 382.70,306.16 382.80,315.12 C382.91,324.42 382.76,328.40 380.54,328.40 L377.87,328.40 L377.22,327.07 L375.95,327.07 L375.33,328.40 L372.66,328.40 C370.44,328.40 370.20,324.42 370.09,315.12 C369.99,306.16 372.39,305.16 372.80,301.84 C373.58,297.86 374.63,295.20 376.22,295.20Z" fill="url(#bodyw)"/>
<g clip-path="url(#m42)">
<rect x="368.75" y="295.20" width="15.71" height="8.96" fill="#808080" opacity="0.3"/>
<rect x="368.75" y="326.08" width="15.71" height="2.66" fill="#444" opacity="0.5"/>
<rect x="368.75" y="295.20" width="15.71" height="33.20" fill="#555" filter="url(#fur)" opacity="0.16"/>
<circle cx="374.17" cy="304.16" r="0.6" fill="#2a2a2a" opacity="0.85"/>
<circle cx="378.49" cy="304.16" r="0.6" fill="#2a2a2a" opacity="0.85"/>
</g>
<rect x="173.10" y="333.20" width="28.90" height="35.60" fill="#050505"/>
<clipPath id="m43"><path d="M180.47,334.10 C182.07,334.10 183.11,336.80 183.87,340.84 C184.27,344.21 186.68,345.22 186.53,354.32 C186.37,363.76 186.11,367.80 183.87,367.80 L181.18,367.80 L180.56,366.45 L179.28,366.45 L178.62,367.80 L175.93,367.80 C173.69,367.80 173.57,363.76 173.72,354.32 C173.88,345.22 176.33,344.21 176.83,340.84 C177.73,336.80 178.86,334.10 180.47,334.10Z"/></clipPath>
<ellipse cx="176.00" cy="340.50" rx="1.54" ry="1.69" fill="#7a7a7a"/>
<ellipse cx="184.71" cy="340.50" rx="1.54" ry="1.69" fill="#7a7a7a"/>
<path d="M180.47,334.10 C182.07,334.10 183.11,336.80 183.87,340.84 C184.27,344.21 186.68,345.22 186.53,354.32 C186.37,363.76 186.11,367.80 183.87,367.80 L181.18,367.80 L180.56,366.45 L179.28,366.45 L178.62,367.80 L175.93,367.80 C173.69,367.80 173.57,363.76 173.72,354.32 C173.88,345.22 176.33,344.21 176.83,340.84 C177.73,336.80 178.86,334.10 180.47,334.10Z" fill="url(#bodyw)"/>
<g clip-path="url(#m43)">
<rect x="172.00" y="334.10" width="15.80" height="9.10" fill="#808080" opacity="0.3"/>
<rect x="172.00" y="365.44" width="15.80" height="2.70" fill="#444" opacity="0.5"/>
<rect x="172.00" y="334.10" width="15.80" height="33.70" fill="#555" filter="url(#fur)" opacity="0.16"/>
<circle cx="178.13" cy="343.20" r="0.6" fill="#2a2a2a" opacity="0.85"/>
<circle cx="182.48" cy="343.20" r="0.6" fill="#2a2a2a" opacity="0.85"/>
</g>
<g clip-path="url(#m43)"><g filter="url(#blM)">
<ellipse cx="179.98" cy="362.75" rx="2.20" ry="2.20" fill="#22c4ea" opacity="0.6"/>
<ellipse cx="179.98" cy="362.75" rx="1.50" ry="1.50" fill="#3fe23c" opacity="0.85"/>
</g></g>
<g clip-path="url(#m43)"><g filter="url(#bl)">
<ellipse cx="180.32" cy="342.52" rx="6.60" ry="7.40" fill="#2a48e6" opacity="1"/>
<ellipse cx="178.48" cy="338.14" rx="5.00" ry="4.40" fill="#2a48e6" opacity="1"/>
<ellipse cx="176.51" cy="360.05" rx="5.50" ry="6.40" fill="#2a48e6" opacity="1"/>
<ellipse cx="183.24" cy="359.38" rx="5.50" ry="6.20" fill="#2a48e6" opacity="1"/>
<ellipse cx="180.32" cy="342.52" rx="5.70" ry="6.50" fill="#22c4ea" opacity="1"/>
<ellipse cx="178.48" cy="338.14" rx="4.10" ry="3.50" fill="#22c4ea" opacity="1"/>
<ellipse cx="176.51" cy="360.05" rx="4.60" ry="5.50" fill="#22c4ea" opacity="1"/>
<ellipse cx="183.24" cy="359.38" rx="4.60" ry="5.30" fill="#22c4ea" opacity="1"/>
<ellipse cx="180.32" cy="342.52" rx="4.85" ry="5.65" fill="#3fe23c" opacity="1"/>
<ellipse cx="178.48" cy="338.14" rx="3.25" ry="2.65" fill="#3fe23c" opacity="1"/>
<ellipse cx="176.51" cy="360.05" rx="3.75" ry="4.65" fill="#3fe23c" opacity="1"/>
<ellipse cx="183.24" cy="359.38" rx="3.75" ry="4.45" fill="#3fe23c" opacity="1"/>
<ellipse cx="180.32" cy="342.52" rx="4.25" ry="5.05" fill="#ffe600" opacity="1"/>
<ellipse cx="178.48" cy="338.14" rx="2.65" ry="2.05" fill="#ffe600" opacity="1"/>
<ellipse cx="176.51" cy="360.05" rx="3.15" ry="4.05" fill="#ffe600" opacity="1"/>
<ellipse cx="183.24" cy="359.38" rx="3.15" ry="3.85" fill="#ffe600" opacity="1"/>
<ellipse cx="180.32" cy="342.52" rx="3.80" ry="4.60" fill="#ff1400" opacity="1"/>
<ellipse cx="178.48" cy="338.14" rx="2.20" ry="1.60" fill="#ff1400" opacity="1"/>
<ellipse cx="176.51" cy="360.05" rx="2.70" ry="3.60" fill="#ff1400" opacity="1"/>
<ellipse cx="183.24" cy="359.38" rx="2.70" ry="3.40" fill="#ff1400" opacity="1"/>
</g></g>
<clipPath id="m44"><path d="M194.68,334.10 C196.28,334.10 197.34,336.80 198.13,340.84 C198.54,344.21 200.96,345.22 200.85,354.32 C200.75,363.76 200.51,367.80 198.27,367.80 L195.58,367.80 L194.96,366.45 L193.68,366.45 L193.02,367.80 L190.33,367.80 C188.09,367.80 187.94,363.76 188.05,354.32 C188.15,345.22 190.60,344.21 191.08,340.84 C191.96,336.80 193.08,334.10 194.68,334.10Z"/></clipPath>
<ellipse cx="190.25" cy="340.50" rx="1.54" ry="1.69" fill="#7a7a7a"/>
<ellipse cx="198.96" cy="340.50" rx="1.54" ry="1.69" fill="#7a7a7a"/>
<path d="M194.68,334.10 C196.28,334.10 197.34,336.80 198.13,340.84 C198.54,344.21 200.96,345.22 200.85,354.32 C200.75,363.76 200.51,367.80 198.27,367.80 L195.58,367.80 L194.96,366.45 L193.68,366.45 L193.02,367.80 L190.33,367.80 C188.09,367.80 187.94,363.76 188.05,354.32 C188.15,345.22 190.60,344.21 191.08,340.84 C191.96,336.80 193.08,334.10 194.68,334.10Z" fill="url(#bodyw)"/>
<g clip-path="url(#m44)">
<rect x="186.40" y="334.10" width="15.80" height="9.10" fill="#808080" opacity="0.3"/>
<rect x="186.40" y="365.44" width="15.80" height="2.70" fill="#444" opacity="0.5"/>
<rect x="186.40" y="334.10" width="15.80" height="33.70" fill="#555" filter="url(#fur)" opacity="0.16"/>
<circle cx="192.40" cy="343.20" r="0.6" fill="#2a2a2a" opacity="0.85"/>
<circle cx="196.75" cy="343.20" r="0.6" fill="#2a2a2a" opacity="0.85"/>
</g>
<g clip-path="url(#m44)"><g filter="url(#blM)">
<ellipse cx="194.64" cy="338.14" rx="3.20" ry="2.30" fill="#22c4ea" opacity="0.6"/>
<ellipse cx="194.64" cy="338.14" rx="2.50" ry="1.60" fill="#3fe23c" opacity="0.85"/>
<ellipse cx="192.59" cy="349.26" rx="1.70" ry="1.70" fill="#3fe23c" opacity="0.9"/>
<ellipse cx="194.36" cy="362.75" rx="2.10" ry="2.40" fill="#3fe23c" opacity="0.9"/>
<ellipse cx="192.59" cy="349.26" rx="0.80" ry="0.80" fill="#ffe600" opacity="0.95"/>
<ellipse cx="194.36" cy="362.75" rx="1.20" ry="1.50" fill="#ffe600" opacity="0.95"/>
</g></g>
<g clip-path="url(#m44)"><g filter="url(#bl)">
<ellipse cx="194.90" cy="343.54" rx="6.60" ry="6.40" fill="#2a48e6" opacity="1"/>
<ellipse cx="190.55" cy="359.71" rx="5.60" ry="5.80" fill="#2a48e6" opacity="1"/>
<ellipse cx="198.24" cy="359.04" rx="5.80" ry="6.00" fill="#2a48e6" opacity="1"/>
<ellipse cx="194.90" cy="343.54" rx="5.70" ry="5.50" fill="#22c4ea" opacity="1"/>
<ellipse cx="190.55" cy="359.71" rx="4.70" ry="4.90" fill="#22c4ea" opacity="1"/>
<ellipse cx="198.24" cy="359.04" rx="4.90" ry="5.10" fill="#22c4ea" opacity="1"/>
<ellipse cx="194.90" cy="343.54" rx="4.85" ry="4.65" fill="#3fe23c" opacity="1"/>
<ellipse cx="190.55" cy="359.71" rx="3.85" ry="4.05" fill="#3fe23c" opacity="1"/>
<ellipse cx="198.24" cy="359.04" rx="4.05" ry="4.25" fill="#3fe23c" opacity="1"/>
<ellipse cx="194.90" cy="343.54" rx="4.25" ry="4.05" fill="#ffe600" opacity="1"/>
<ellipse cx="190.55" cy="359.71" rx="3.25" ry="3.45" fill="#ffe600" opacity="1"/>
<ellipse cx="198.24" cy="359.04" rx="3.45" ry="3.65" fill="#ffe600" opacity="1"/>
<ellipse cx="194.90" cy="343.54" rx="3.80" ry="3.60" fill="#ff1400" opacity="1"/>
<ellipse cx="190.55" cy="359.71" rx="2.80" ry="3.00" fill="#ff1400" opacity="1"/>
<ellipse cx="198.24" cy="359.04" rx="3.00" ry="3.20" fill="#ff1400" opacity="1"/>
</g></g>
<rect x="206.40" y="333.20" width="28.00" height="35.60" fill="#050505"/>
<clipPath id="m45"><path d="M212.81,334.10 C214.41,334.10 215.54,336.80 216.43,340.84 C216.93,344.21 219.37,345.22 219.51,354.32 C219.64,363.76 219.51,367.80 217.27,367.80 L214.58,367.80 L213.92,366.45 L212.64,366.45 L212.02,367.80 L209.33,367.80 C207.09,367.80 206.84,363.76 206.70,354.32 C206.57,345.22 208.99,344.21 209.39,340.84 C210.16,336.80 211.21,334.10 212.81,334.10Z"/></clipPath>
<ellipse cx="208.55" cy="340.50" rx="1.54" ry="1.69" fill="#7a7a7a"/>
<ellipse cx="217.26" cy="340.50" rx="1.54" ry="1.69" fill="#7a7a7a"/>
<path d="M212.81,334.10 C214.41,334.10 215.54,336.80 216.43,340.84 C216.93,344.21 219.37,345.22 219.51,354.32 C219.64,363.76 219.51,367.80 217.27,367.80 L214.58,367.80 L213.92,366.45 L212.64,366.45 L212.02,367.80 L209.33,367.80 C207.09,367.80 206.84,363.76 206.70,354.32 C206.57,345.22 208.99,344.21 209.39,340.84 C210.16,336.80 211.21,334.10 212.81,334.10Z" fill="url(#bodyw)"/>
<g clip-path="url(#m45)">
<rect x="205.40" y="334.10" width="15.80" height="9.10" fill="#808080" opacity="0.3"/>
<rect x="205.40" y="365.44" width="15.80" height="2.70" fill="#444" opacity="0.5"/>
<rect x="205.40" y="334.10" width="15.80" height="33.70" fill="#555" filter="url(#fur)" opacity="0.16"/>
<circle cx="210.77" cy="343.20" r="0.6" fill="#2a2a2a" opacity="0.85"/>
<circle cx="215.12" cy="343.20" r="0.6" fill="#2a2a2a" opacity="0.85"/>
</g>
<g clip-path="url(#m45)"><g filter="url(#blM)">
<ellipse cx="213.03" cy="349.26" rx="1.50" ry="1.50" fill="#22c4ea" opacity="0.6"/>
<ellipse cx="213.03" cy="349.26" rx="0.80" ry="0.80" fill="#3fe23c" opacity="0.85"/>
</g></g>
<g clip-path="url(#m45)"><g filter="url(#bl)">
<ellipse cx="212.88" cy="339.15" rx="3.80" ry="3.80" fill="#2a48e6" opacity="1"/>
<ellipse cx="210.39" cy="343.87" rx="4.20" ry="4.00" fill="#2a48e6" opacity="1"/>
<ellipse cx="207.75" cy="360.39" rx="4.20" ry="5.60" fill="#2a48e6" opacity="1"/>
<ellipse cx="216.39" cy="360.39" rx="4.30" ry="5.20" fill="#2a48e6" opacity="1"/>
<ellipse cx="214.54" cy="365.10" rx="3.80" ry="3.80" fill="#2a48e6" opacity="1"/>
<ellipse cx="212.88" cy="339.15" rx="2.90" ry="2.90" fill="#22c4ea" opacity="1"/>
<ellipse cx="210.39" cy="343.87" rx="3.30" ry="3.10" fill="#22c4ea" opacity="1"/>
<ellipse cx="207.75" cy="360.39" rx="3.30" ry="4.70" fill="#22c4ea" opacity="1"/>
<ellipse cx="216.39" cy="360.39" rx="3.40" ry="4.30" fill="#22c4ea" opacity="1"/>
<ellipse cx="214.54" cy="365.10" rx="2.90" ry="2.90" fill="#22c4ea" opacity="1"/>
<ellipse cx="212.88" cy="339.15" rx="2.05" ry="2.05" fill="#3fe23c" opacity="1"/>
<ellipse cx="210.39" cy="343.87" rx="2.45" ry="2.25" fill="#3fe23c" opacity="1"/>
<ellipse cx="207.75" cy="360.39" rx="2.45" ry="3.85" fill="#3fe23c" opacity="1"/>
<ellipse cx="216.39" cy="360.39" rx="2.55" ry="3.45" fill="#3fe23c" opacity="1"/>
<ellipse cx="214.54" cy="365.10" rx="2.05" ry="2.05" fill="#3fe23c" opacity="1"/>
<ellipse cx="212.88" cy="339.15" rx="1.45" ry="1.45" fill="#ffe600" opacity="1"/>
<ellipse cx="210.39" cy="343.87" rx="1.85" ry="1.65" fill="#ffe600" opacity="1"/>
<ellipse cx="207.75" cy="360.39" rx="1.85" ry="3.25" fill="#ffe600" opacity="1"/>
<ellipse cx="216.39" cy="360.39" rx="1.95" ry="2.85" fill="#ffe600" opacity="1"/>
<ellipse cx="214.54" cy="365.10" rx="1.45" ry="1.45" fill="#ffe600" opacity="1"/>
<ellipse cx="212.88" cy="339.15" rx="1.00" ry="1.00" fill="#ff1400" opacity="1"/>
<ellipse cx="210.39" cy="343.87" rx="1.40" ry="1.20" fill="#ff1400" opacity="1"/>
<ellipse cx="207.75" cy="360.39" rx="1.40" ry="2.80" fill="#ff1400" opacity="1"/>
<ellipse cx="216.39" cy="360.39" rx="1.50" ry="2.40" fill="#ff1400" opacity="1"/>
<ellipse cx="214.54" cy="365.10" rx="1.00" ry="1.00" fill="#ff1400" opacity="1"/>
</g></g>
<clipPath id="m46"><path d="M227.64,334.10 C229.24,334.10 230.32,336.80 231.14,340.84 C231.57,344.21 234.00,345.22 233.96,354.32 C233.92,363.76 233.71,367.80 231.47,367.80 L228.78,367.80 L228.15,366.45 L226.87,366.45 L226.22,367.80 L223.53,367.80 C221.29,367.80 221.12,363.76 221.16,354.32 C221.19,345.22 223.63,344.21 224.09,340.84 C224.94,336.80 226.04,334.10 227.64,334.10Z"/></clipPath>
<ellipse cx="223.26" cy="340.50" rx="1.54" ry="1.69" fill="#7a7a7a"/>
<ellipse cx="231.97" cy="340.50" rx="1.54" ry="1.69" fill="#7a7a7a"/>
<path d="M227.64,334.10 C229.24,334.10 230.32,336.80 231.14,340.84 C231.57,344.21 234.00,345.22 233.96,354.32 C233.92,363.76 233.71,367.80 231.47,367.80 L228.78,367.80 L228.15,366.45 L226.87,366.45 L226.22,367.80 L223.53,367.80 C221.29,367.80 221.12,363.76 221.16,354.32 C221.19,345.22 223.63,344.21 224.09,340.84 C224.94,336.80 226.04,334.10 227.64,334.10Z" fill="url(#bodyw)"/>
<g clip-path="url(#m46)">
<rect x="219.60" y="334.10" width="15.80" height="9.10" fill="#808080" opacity="0.3"/>
<rect x="219.60" y="365.44" width="15.80" height="2.70" fill="#444" opacity="0.5"/>
<rect x="219.60" y="334.10" width="15.80" height="33.70" fill="#555" filter="url(#fur)" opacity="0.16"/>
<circle cx="225.43" cy="343.20" r="0.6" fill="#2a2a2a" opacity="0.85"/>
<circle cx="229.78" cy="343.20" r="0.6" fill="#2a2a2a" opacity="0.85"/>
</g>
<g clip-path="url(#m46)"><g filter="url(#bl)">
<ellipse cx="227.60" cy="343.20" rx="5.00" ry="7.20" fill="#2a48e6" opacity="1"/>
<ellipse cx="227.61" cy="340.84" rx="6.80" ry="5.00" fill="#2a48e6" opacity="1"/>
<ellipse cx="225.29" cy="359.71" rx="6.00" ry="7.20" fill="#2a48e6" opacity="1"/>
<ellipse cx="231.50" cy="360.39" rx="4.50" ry="6.70" fill="#2a48e6" opacity="1"/>
<ellipse cx="227.60" cy="343.20" rx="4.10" ry="6.30" fill="#22c4ea" opacity="1"/>
<ellipse cx="227.61" cy="340.84" rx="5.90" ry="4.10" fill="#22c4ea" opacity="1"/>
<ellipse cx="225.29" cy="359.71" rx="5.10" ry="6.30" fill="#22c4ea" opacity="1"/>
<ellipse cx="231.50" cy="360.39" rx="3.60" ry="5.80" fill="#22c4ea" opacity="1"/>
<ellipse cx="227.60" cy="343.20" rx="3.25" ry="5.45" fill="#3fe23c" opacity="1"/>
<ellipse cx="227.61" cy="340.84" rx="5.05" ry="3.25" fill="#3fe23c" opacity="1"/>
<ellipse cx="225.29" cy="359.71" rx="4.25" ry="5.45" fill="#3fe23c" opacity="1"/>
<ellipse cx="231.50" cy="360.39" rx="2.75" ry="4.95" fill="#3fe23c" opacity="1"/>
<ellipse cx="227.60" cy="343.20" rx="2.65" ry="4.85" fill="#ffe600" opacity="1"/>
<ellipse cx="227.61" cy="340.84" rx="4.45" ry="2.65" fill="#ffe600" opacity="1"/>
<ellipse cx="225.29" cy="359.71" rx="3.65" ry="4.85" fill="#ffe600" opacity="1"/>
<ellipse cx="231.50" cy="360.39" rx="2.15" ry="4.35" fill="#ffe600" opacity="1"/>
<ellipse cx="227.60" cy="343.20" rx="2.20" ry="4.40" fill="#ff1400" opacity="1"/>
<ellipse cx="227.61" cy="340.84" rx="4.00" ry="2.20" fill="#ff1400" opacity="1"/>
<ellipse cx="225.29" cy="359.71" rx="3.20" ry="4.40" fill="#ff1400" opacity="1"/>
<ellipse cx="231.50" cy="360.39" rx="1.70" ry="3.90" fill="#ff1400" opacity="1"/>
</g></g>
<rect x="238.70" y="333.20" width="70.40" height="35.60" fill="#050505"/>
<clipPath id="m47"><path d="M246.25,334.40 C247.84,334.40 248.91,337.06 249.73,341.04 C250.17,344.36 252.59,345.36 252.57,354.32 C252.56,363.62 252.36,367.60 250.14,367.60 L247.47,367.60 L246.84,366.27 L245.57,366.27 L244.93,367.60 L242.26,367.60 C240.04,367.60 239.85,363.62 239.87,354.32 C239.88,345.36 242.29,344.36 242.74,341.04 C243.58,337.06 244.66,334.40 246.25,334.40Z"/></clipPath>
<ellipse cx="241.92" cy="340.71" rx="1.52" ry="1.66" fill="#7a7a7a"/>
<ellipse cx="250.56" cy="340.71" rx="1.52" ry="1.66" fill="#7a7a7a"/>
<path d="M246.25,334.40 C247.84,334.40 248.91,337.06 249.73,341.04 C250.17,344.36 252.59,345.36 252.57,354.32 C252.56,363.62 252.36,367.60 250.14,367.60 L247.47,367.60 L246.84,366.27 L245.57,366.27 L244.93,367.60 L242.26,367.60 C240.04,367.60 239.85,363.62 239.87,354.32 C239.88,345.36 242.29,344.36 242.74,341.04 C243.58,337.06 244.66,334.40 246.25,334.40Z" fill="url(#bodyw)"/>
<g clip-path="url(#m47)">
<rect x="238.35" y="334.40" width="15.71" height="8.96" fill="#808080" opacity="0.3"/>
<rect x="238.35" y="365.28" width="15.71" height="2.66" fill="#444" opacity="0.5"/>
<rect x="238.35" y="334.40" width="15.71" height="33.20" fill="#555" filter="url(#fur)" opacity="0.16"/>
<circle cx="244.07" cy="343.36" r="0.6" fill="#2a2a2a" opacity="0.85"/>
<circle cx="248.39" cy="343.36" r="0.6" fill="#2a2a2a" opacity="0.85"/>
</g>
<g clip-path="url(#m47)"><g filter="url(#blM)">
<ellipse cx="243.66" cy="366.60" rx="0.80" ry="0.60" fill="#22c4ea" opacity="0.9"/>
</g></g>
<clipPath id="m48"><path d="M260.92,334.40 C262.50,334.40 263.53,337.06 264.27,341.04 C264.64,344.36 267.03,345.36 266.84,354.32 C266.64,363.62 266.36,367.60 264.14,367.60 L261.47,367.60 L260.86,366.27 L259.59,366.27 L258.93,367.60 L256.26,367.60 C254.04,367.60 253.93,363.62 254.13,354.32 C254.33,345.36 256.76,344.36 257.28,341.04 C258.19,337.06 259.33,334.40 260.92,334.40Z"/></clipPath>
<ellipse cx="256.45" cy="340.71" rx="1.52" ry="1.66" fill="#7a7a7a"/>
<ellipse cx="265.09" cy="340.71" rx="1.52" ry="1.66" fill="#7a7a7a"/>
<path d="M260.92,334.40 C262.50,334.40 263.53,337.06 264.27,341.04 C264.64,344.36 267.03,345.36 266.84,354.32 C266.64,363.62 266.36,367.60 264.14,367.60 L261.47,367.60 L260.86,366.27 L259.59,366.27 L258.93,367.60 L256.26,367.60 C254.04,367.60 253.93,363.62 254.13,354.32 C254.33,345.36 256.76,344.36 257.28,341.04 C258.19,337.06 259.33,334.40 260.92,334.40Z" fill="url(#bodyw)"/>
<g clip-path="url(#m48)">
<rect x="252.35" y="334.40" width="15.71" height="8.96" fill="#808080" opacity="0.3"/>
<rect x="252.35" y="365.28" width="15.71" height="2.66" fill="#444" opacity="0.5"/>
<rect x="252.35" y="334.40" width="15.71" height="33.20" fill="#555" filter="url(#fur)" opacity="0.16"/>
<circle cx="258.55" cy="343.36" r="0.6" fill="#2a2a2a" opacity="0.85"/>
<circle cx="262.88" cy="343.36" r="0.6" fill="#2a2a2a" opacity="0.85"/>
</g>
<clipPath id="m49"><path d="M274.44,334.40 C276.03,334.40 277.07,337.06 277.84,341.04 C278.25,344.36 280.65,345.36 280.53,354.32 C280.41,363.62 280.16,367.60 277.94,367.60 L275.27,367.60 L274.65,366.27 L273.38,366.27 L272.73,367.60 L270.06,367.60 C267.84,367.60 267.70,363.62 267.82,354.32 C267.94,345.36 270.37,344.36 270.86,341.04 C271.73,337.06 272.85,334.40 274.44,334.40Z"/></clipPath>
<ellipse cx="270.03" cy="340.71" rx="1.52" ry="1.66" fill="#7a7a7a"/>
<ellipse cx="278.67" cy="340.71" rx="1.52" ry="1.66" fill="#7a7a7a"/>
<path d="M274.44,334.40 C276.03,334.40 277.07,337.06 277.84,341.04 C278.25,344.36 280.65,345.36 280.53,354.32 C280.41,363.62 280.16,367.60 277.94,367.60 L275.27,367.60 L274.65,366.27 L273.38,366.27 L272.73,367.60 L270.06,367.60 C267.84,367.60 267.70,363.62 267.82,354.32 C267.94,345.36 270.37,344.36 270.86,341.04 C271.73,337.06 272.85,334.40 274.44,334.40Z" fill="url(#bodyw)"/>
<g clip-path="url(#m49)">
<rect x="266.15" y="334.40" width="15.71" height="8.96" fill="#808080" opacity="0.3"/>
<rect x="266.15" y="365.28" width="15.71" height="2.66" fill="#444" opacity="0.5"/>
<rect x="266.15" y="334.40" width="15.71" height="33.20" fill="#555" filter="url(#fur)" opacity="0.16"/>
<circle cx="272.15" cy="343.36" r="0.6" fill="#2a2a2a" opacity="0.85"/>
<circle cx="276.48" cy="343.36" r="0.6" fill="#2a2a2a" opacity="0.85"/>
</g>
<g clip-path="url(#m49)"><g filter="url(#blM)">
<ellipse cx="274.07" cy="362.62" rx="1.40" ry="1.60" fill="#22c4ea" opacity="0.6"/>
<ellipse cx="274.07" cy="362.62" rx="0.70" ry="0.90" fill="#3fe23c" opacity="0.85"/>
</g></g>
<clipPath id="m50"><path d="M287.40,334.40 C288.98,334.40 290.10,337.06 290.97,341.04 C291.46,344.36 293.88,345.36 293.99,354.32 C294.10,363.62 293.96,367.60 291.74,367.60 L289.07,367.60 L288.42,366.27 L287.15,366.27 L286.53,367.60 L283.86,367.60 C281.64,367.60 281.40,363.62 281.28,354.32 C281.18,345.36 283.58,344.36 283.98,341.04 C284.76,337.06 285.81,334.40 287.40,334.40Z"/></clipPath>
<ellipse cx="283.16" cy="340.71" rx="1.52" ry="1.66" fill="#7a7a7a"/>
<ellipse cx="291.80" cy="340.71" rx="1.52" ry="1.66" fill="#7a7a7a"/>
<path d="M287.40,334.40 C288.98,334.40 290.10,337.06 290.97,341.04 C291.46,344.36 293.88,345.36 293.99,354.32 C294.10,363.62 293.96,367.60 291.74,367.60 L289.07,367.60 L288.42,366.27 L287.15,366.27 L286.53,367.60 L283.86,367.60 C281.64,367.60 281.40,363.62 281.28,354.32 C281.18,345.36 283.58,344.36 283.98,341.04 C284.76,337.06 285.81,334.40 287.40,334.40Z" fill="url(#bodyw)"/>
<g clip-path="url(#m50)">
<rect x="279.95" y="334.40" width="15.71" height="8.96" fill="#808080" opacity="0.3"/>
<rect x="279.95" y="365.28" width="15.71" height="2.66" fill="#444" opacity="0.5"/>
<rect x="279.95" y="334.40" width="15.71" height="33.20" fill="#555" filter="url(#fur)" opacity="0.16"/>
<circle cx="285.35" cy="343.36" r="0.6" fill="#2a2a2a" opacity="0.85"/>
<circle cx="289.67" cy="343.36" r="0.6" fill="#2a2a2a" opacity="0.85"/>
</g>
<clipPath id="m51"><path d="M303.12,334.40 C304.70,334.40 305.71,337.06 306.43,341.04 C306.78,344.36 309.17,345.36 308.92,354.32 C308.66,363.62 308.36,367.60 306.14,367.60 L303.47,367.60 L302.87,366.27 L301.60,366.27 L300.93,367.60 L298.26,367.60 C296.04,367.60 295.96,363.62 296.21,354.32 C296.46,345.36 298.90,344.36 299.44,341.04 C300.37,337.06 301.53,334.40 303.12,334.40Z"/></clipPath>
<ellipse cx="298.61" cy="340.71" rx="1.52" ry="1.66" fill="#7a7a7a"/>
<ellipse cx="307.25" cy="340.71" rx="1.52" ry="1.66" fill="#7a7a7a"/>
<path d="M303.12,334.40 C304.70,334.40 305.71,337.06 306.43,341.04 C306.78,344.36 309.17,345.36 308.92,354.32 C308.66,363.62 308.36,367.60 306.14,367.60 L303.47,367.60 L302.87,366.27 L301.60,366.27 L300.93,367.60 L298.26,367.60 C296.04,367.60 295.96,363.62 296.21,354.32 C296.46,345.36 298.90,344.36 299.44,341.04 C300.37,337.06 301.53,334.40 303.12,334.40Z" fill="url(#bodyw)"/>
<g clip-path="url(#m51)">
<rect x="294.35" y="334.40" width="15.71" height="8.96" fill="#808080" opacity="0.3"/>
<rect x="294.35" y="365.28" width="15.71" height="2.66" fill="#444" opacity="0.5"/>
<rect x="294.35" y="334.40" width="15.71" height="33.20" fill="#555" filter="url(#fur)" opacity="0.16"/>
<circle cx="300.70" cy="343.36" r="0.6" fill="#2a2a2a" opacity="0.85"/>
<circle cx="305.02" cy="343.36" r="0.6" fill="#2a2a2a" opacity="0.85"/>
</g>
<rect x="312.80" y="333.20" width="71.20" height="35.60" fill="#050505"/>
<clipPath id="m52"><path d="M319.07,334.40 C320.66,334.40 321.80,337.06 322.71,341.04 C323.23,344.36 325.67,345.36 325.86,354.32 C326.07,363.62 325.96,367.60 323.74,367.60 L321.07,367.60 L320.41,366.27 L319.14,366.27 L318.53,367.60 L315.86,367.60 C313.64,367.60 313.36,363.62 313.16,354.32 C312.96,345.36 315.35,344.36 315.72,341.04 C316.46,337.06 317.48,334.40 319.07,334.40Z"/></clipPath>
<ellipse cx="314.90" cy="340.71" rx="1.52" ry="1.66" fill="#7a7a7a"/>
<ellipse cx="323.54" cy="340.71" rx="1.52" ry="1.66" fill="#7a7a7a"/>
<path d="M319.07,334.40 C320.66,334.40 321.80,337.06 322.71,341.04 C323.23,344.36 325.67,345.36 325.86,354.32 C326.07,363.62 325.96,367.60 323.74,367.60 L321.07,367.60 L320.41,366.27 L319.14,366.27 L318.53,367.60 L315.86,367.60 C313.64,367.60 313.36,363.62 313.16,354.32 C312.96,345.36 315.35,344.36 315.72,341.04 C316.46,337.06 317.48,334.40 319.07,334.40Z" fill="url(#bodyw)"/>
<g clip-path="url(#m52)">
<rect x="311.95" y="334.40" width="15.71" height="8.96" fill="#808080" opacity="0.3"/>
<rect x="311.95" y="365.28" width="15.71" height="2.66" fill="#444" opacity="0.5"/>
<rect x="311.95" y="334.40" width="15.71" height="33.20" fill="#555" filter="url(#fur)" opacity="0.16"/>
<circle cx="317.12" cy="343.36" r="0.6" fill="#2a2a2a" opacity="0.85"/>
<circle cx="321.44" cy="343.36" r="0.6" fill="#2a2a2a" opacity="0.85"/>
</g>
<g clip-path="url(#m52)"><g filter="url(#bl)">
<ellipse cx="320.74" cy="352.66" rx="2.35" ry="2.35" fill="#2a48e6" opacity="1"/>
<ellipse cx="320.74" cy="352.66" rx="1.90" ry="1.90" fill="#22c4ea" opacity="1"/>
<ellipse cx="320.74" cy="352.66" rx="1.50" ry="1.50" fill="#3fe23c" opacity="1"/>
<ellipse cx="320.74" cy="352.66" rx="1.10" ry="1.10" fill="#ffe600" opacity="1"/>
<ellipse cx="320.74" cy="352.66" rx="0.70" ry="0.70" fill="#ff1400" opacity="1"/>
</g></g>
<clipPath id="m53"><path d="M333.44,334.40 C335.03,334.40 336.12,337.06 336.97,341.04 C337.43,344.36 339.85,345.36 339.89,354.32 C339.93,363.62 339.76,367.60 337.54,367.60 L334.87,367.60 L334.23,366.27 L332.96,366.27 L332.33,367.60 L329.66,367.60 C327.44,367.60 327.23,363.62 327.18,354.32 C327.14,345.36 329.55,344.36 329.98,341.04 C330.79,337.06 331.86,334.40 333.44,334.40Z"/></clipPath>
<ellipse cx="329.15" cy="340.71" rx="1.52" ry="1.66" fill="#7a7a7a"/>
<ellipse cx="337.80" cy="340.71" rx="1.52" ry="1.66" fill="#7a7a7a"/>
<path d="M333.44,334.40 C335.03,334.40 336.12,337.06 336.97,341.04 C337.43,344.36 339.85,345.36 339.89,354.32 C339.93,363.62 339.76,367.60 337.54,367.60 L334.87,367.60 L334.23,366.27 L332.96,366.27 L332.33,367.60 L329.66,367.60 C327.44,367.60 327.23,363.62 327.18,354.32 C327.14,345.36 329.55,344.36 329.98,341.04 C330.79,337.06 331.86,334.40 333.44,334.40Z" fill="url(#bodyw)"/>
<g clip-path="url(#m53)">
<rect x="325.75" y="334.40" width="15.71" height="8.96" fill="#808080" opacity="0.3"/>
<rect x="325.75" y="365.28" width="15.71" height="2.66" fill="#444" opacity="0.5"/>
<rect x="325.75" y="334.40" width="15.71" height="33.20" fill="#555" filter="url(#fur)" opacity="0.16"/>
<circle cx="331.33" cy="343.36" r="0.6" fill="#2a2a2a" opacity="0.85"/>
<circle cx="335.65" cy="343.36" r="0.6" fill="#2a2a2a" opacity="0.85"/>
</g>
<clipPath id="m54"><path d="M348.29,334.40 C349.88,334.40 350.92,337.06 351.69,341.04 C352.08,344.36 354.48,345.36 354.35,354.32 C354.21,363.62 353.96,367.60 351.74,367.60 L349.07,367.60 L348.45,366.27 L347.18,366.27 L346.53,367.60 L343.86,367.60 C341.64,367.60 341.51,363.62 341.64,354.32 C341.77,345.36 344.20,344.36 344.70,341.04 C345.58,337.06 346.70,334.40 348.29,334.40Z"/></clipPath>
<ellipse cx="343.87" cy="340.71" rx="1.52" ry="1.66" fill="#7a7a7a"/>
<ellipse cx="352.51" cy="340.71" rx="1.52" ry="1.66" fill="#7a7a7a"/>
<path d="M348.29,334.40 C349.88,334.40 350.92,337.06 351.69,341.04 C352.08,344.36 354.48,345.36 354.35,354.32 C354.21,363.62 353.96,367.60 351.74,367.60 L349.07,367.60 L348.45,366.27 L347.18,366.27 L346.53,367.60 L343.86,367.60 C341.64,367.60 341.51,363.62 341.64,354.32 C341.77,345.36 344.20,344.36 344.70,341.04 C345.58,337.06 346.70,334.40 348.29,334.40Z" fill="url(#bodyw)"/>
<g clip-path="url(#m54)">
<rect x="339.95" y="334.40" width="15.71" height="8.96" fill="#808080" opacity="0.3"/>
<rect x="339.95" y="365.28" width="15.71" height="2.66" fill="#444" opacity="0.5"/>
<rect x="339.95" y="334.40" width="15.71" height="33.20" fill="#555" filter="url(#fur)" opacity="0.16"/>
<circle cx="345.99" cy="343.36" r="0.6" fill="#2a2a2a" opacity="0.85"/>
<circle cx="350.31" cy="343.36" r="0.6" fill="#2a2a2a" opacity="0.85"/>
</g>
<clipPath id="m55"><path d="M361.34,334.40 C362.93,334.40 364.06,337.06 364.96,341.04 C365.47,344.36 367.91,345.36 368.09,354.32 C368.27,363.62 368.16,367.60 365.94,367.60 L363.27,367.60 L362.61,366.27 L361.34,366.27 L360.73,367.60 L358.06,367.60 C355.84,367.60 355.57,363.62 355.38,354.32 C355.20,345.36 357.60,344.36 357.97,341.04 C358.72,337.06 359.75,334.40 361.34,334.40Z"/></clipPath>
<ellipse cx="357.15" cy="340.71" rx="1.52" ry="1.66" fill="#7a7a7a"/>
<ellipse cx="365.79" cy="340.71" rx="1.52" ry="1.66" fill="#7a7a7a"/>
<path d="M361.34,334.40 C362.93,334.40 364.06,337.06 364.96,341.04 C365.47,344.36 367.91,345.36 368.09,354.32 C368.27,363.62 368.16,367.60 365.94,367.60 L363.27,367.60 L362.61,366.27 L361.34,366.27 L360.73,367.60 L358.06,367.60 C355.84,367.60 355.57,363.62 355.38,354.32 C355.20,345.36 357.60,344.36 357.97,341.04 C358.72,337.06 359.75,334.40 361.34,334.40Z" fill="url(#bodyw)"/>
<g clip-path="url(#m55)">
<rect x="354.15" y="334.40" width="15.71" height="8.96" fill="#808080" opacity="0.3"/>
<rect x="354.15" y="365.28" width="15.71" height="2.66" fill="#444" opacity="0.5"/>
<rect x="354.15" y="334.40" width="15.71" height="33.20" fill="#555" filter="url(#fur)" opacity="0.16"/>
<circle cx="359.36" cy="343.36" r="0.6" fill="#2a2a2a" opacity="0.85"/>
<circle cx="363.68" cy="343.36" r="0.6" fill="#2a2a2a" opacity="0.85"/>
</g>
<clipPath id="m56"><path d="M376.58,334.40 C378.17,334.40 379.25,337.06 380.08,341.04 C380.52,344.36 382.94,345.36 382.95,354.32 C382.95,363.62 382.76,367.60 380.54,367.60 L377.87,367.60 L377.23,366.27 L375.96,366.27 L375.33,367.60 L372.66,367.60 C370.44,367.60 370.24,363.62 370.24,354.32 C370.23,345.36 372.65,344.36 373.09,341.04 C373.91,337.06 374.99,334.40 376.58,334.40Z"/></clipPath>
<ellipse cx="372.26" cy="340.71" rx="1.52" ry="1.66" fill="#7a7a7a"/>
<ellipse cx="380.90" cy="340.71" rx="1.52" ry="1.66" fill="#7a7a7a"/>
<path d="M376.58,334.40 C378.17,334.40 379.25,337.06 380.08,341.04 C380.52,344.36 382.94,345.36 382.95,354.32 C382.95,363.62 382.76,367.60 380.54,367.60 L377.87,367.60 L377.23,366.27 L375.96,366.27 L375.33,367.60 L372.66,367.60 C370.44,367.60 370.24,363.62 370.24,354.32 C370.23,345.36 372.65,344.36 373.09,341.04 C373.91,337.06 374.99,334.40 376.58,334.40Z" fill="url(#bodyw)"/>
<g clip-path="url(#m56)">
<rect x="368.75" y="334.40" width="15.71" height="8.96" fill="#808080" opacity="0.3"/>
<rect x="368.75" y="365.28" width="15.71" height="2.66" fill="#444" opacity="0.5"/>
<rect x="368.75" y="334.40" width="15.71" height="33.20" fill="#555" filter="url(#fur)" opacity="0.16"/>
<circle cx="374.42" cy="343.36" r="0.6" fill="#2a2a2a" opacity="0.85"/>
<circle cx="378.75" cy="343.36" r="0.6" fill="#2a2a2a" opacity="0.85"/>
</g>
<rect x="173.10" y="372.70" width="28.90" height="36.10" fill="#050505"/>
<clipPath id="m57"><path d="M179.02,373.60 C180.62,373.60 181.77,376.34 182.71,380.44 C183.25,383.86 185.71,384.89 185.95,394.12 C186.20,403.70 186.11,407.80 183.87,407.80 L181.18,407.80 L180.50,406.43 L179.22,406.43 L178.62,407.80 L175.93,407.80 C173.69,407.80 173.39,403.70 173.14,394.12 C172.91,384.89 175.31,383.86 175.67,380.44 C176.40,376.34 177.41,373.60 179.02,373.60Z"/></clipPath>
<ellipse cx="174.84" cy="380.10" rx="1.54" ry="1.71" fill="#7a7a7a"/>
<ellipse cx="183.55" cy="380.10" rx="1.54" ry="1.71" fill="#7a7a7a"/>
<path d="M179.02,373.60 C180.62,373.60 181.77,376.34 182.71,380.44 C183.25,383.86 185.71,384.89 185.95,394.12 C186.20,403.70 186.11,407.80 183.87,407.80 L181.18,407.80 L180.50,406.43 L179.22,406.43 L178.62,407.80 L175.93,407.80 C173.69,407.80 173.39,403.70 173.14,394.12 C172.91,384.89 175.31,383.86 175.67,380.44 C176.40,376.34 177.41,373.60 179.02,373.60Z" fill="url(#bodyw)"/>
<g clip-path="url(#m57)">
<rect x="172.00" y="373.60" width="15.80" height="9.23" fill="#808080" opacity="0.3"/>
<rect x="172.00" y="405.41" width="15.80" height="2.74" fill="#444" opacity="0.5"/>
<rect x="172.00" y="373.60" width="15.80" height="34.20" fill="#555" filter="url(#fur)" opacity="0.16"/>
<circle cx="177.09" cy="382.83" r="0.6" fill="#2a2a2a" opacity="0.85"/>
<circle cx="181.44" cy="382.83" r="0.6" fill="#2a2a2a" opacity="0.85"/>
</g>
<g clip-path="url(#m57)"><g filter="url(#blM)">
<ellipse cx="179.43" cy="389.67" rx="2.20" ry="1.90" fill="#22c4ea" opacity="0.6"/>
<ellipse cx="179.43" cy="389.67" rx="1.50" ry="1.20" fill="#3fe23c" opacity="0.85"/>
</g></g>
<g clip-path="url(#m57)"><g filter="url(#bl)">
<ellipse cx="179.25" cy="382.83" rx="6.80" ry="9.60" fill="#2a48e6" opacity="1"/>
<ellipse cx="179.70" cy="399.93" rx="8.00" ry="7.00" fill="#2a48e6" opacity="1"/>
<ellipse cx="179.25" cy="382.83" rx="5.90" ry="8.70" fill="#22c4ea" opacity="1"/>
<ellipse cx="179.70" cy="399.93" rx="7.10" ry="6.10" fill="#22c4ea" opacity="1"/>
<ellipse cx="179.25" cy="382.83" rx="5.05" ry="7.85" fill="#3fe23c" opacity="1"/>
<ellipse cx="179.70" cy="399.93" rx="6.25" ry="5.25" fill="#3fe23c" opacity="1"/>
<ellipse cx="179.25" cy="382.83" rx="4.45" ry="7.25" fill="#ffe600" opacity="1"/>
<ellipse cx="179.70" cy="399.93" rx="5.65" ry="4.65" fill="#ffe600" opacity="1"/>
<ellipse cx="179.25" cy="382.83" rx="4.00" ry="6.80" fill="#ff1400" opacity="1"/>
<ellipse cx="179.70" cy="399.93" rx="5.20" ry="4.20" fill="#ff1400" opacity="1"/>
</g></g>
<clipPath id="m58"><path d="M194.62,373.60 C196.22,373.60 197.29,376.34 198.08,380.44 C198.50,383.86 200.92,384.89 200.83,394.12 C200.74,403.70 200.51,407.80 198.27,407.80 L195.58,407.80 L194.95,406.43 L193.67,406.43 L193.02,407.80 L190.33,407.80 C188.09,407.80 187.94,403.70 188.03,394.12 C188.11,384.89 190.56,383.86 191.04,380.44 C191.91,376.34 193.02,373.60 194.62,373.60Z"/></clipPath>
<ellipse cx="190.21" cy="380.10" rx="1.54" ry="1.71" fill="#7a7a7a"/>
<ellipse cx="198.91" cy="380.10" rx="1.54" ry="1.71" fill="#7a7a7a"/>
<path d="M194.62,373.60 C196.22,373.60 197.29,376.34 198.08,380.44 C198.50,383.86 200.92,384.89 200.83,394.12 C200.74,403.70 200.51,407.80 198.27,407.80 L195.58,407.80 L194.95,406.43 L193.67,406.43 L193.02,407.80 L190.33,407.80 C188.09,407.80 187.94,403.70 188.03,394.12 C188.11,384.89 190.56,383.86 191.04,380.44 C191.91,376.34 193.02,373.60 194.62,373.60Z" fill="url(#bodyw)"/>
<g clip-path="url(#m58)">
<rect x="186.40" y="373.60" width="15.80" height="9.23" fill="#808080" opacity="0.3"/>
<rect x="186.40" y="405.41" width="15.80" height="2.74" fill="#444" opacity="0.5"/>
<rect x="186.40" y="373.60" width="15.80" height="34.20" fill="#555" filter="url(#fur)" opacity="0.16"/>
<circle cx="192.36" cy="382.83" r="0.6" fill="#2a2a2a" opacity="0.85"/>
<circle cx="196.71" cy="382.83" r="0.6" fill="#2a2a2a" opacity="0.85"/>
</g>
<g clip-path="url(#m58)"><g filter="url(#bl)">
<ellipse cx="194.53" cy="383.18" rx="7.00" ry="8.80" fill="#2a48e6" opacity="1"/>
<ellipse cx="194.37" cy="400.28" rx="8.20" ry="7.20" fill="#2a48e6" opacity="1"/>
<ellipse cx="194.53" cy="383.18" rx="6.10" ry="7.90" fill="#22c4ea" opacity="1"/>
<ellipse cx="194.37" cy="400.28" rx="7.30" ry="6.30" fill="#22c4ea" opacity="1"/>
<ellipse cx="194.53" cy="383.18" rx="5.25" ry="7.05" fill="#3fe23c" opacity="1"/>
<ellipse cx="194.37" cy="400.28" rx="6.45" ry="5.45" fill="#3fe23c" opacity="1"/>
<ellipse cx="194.53" cy="383.18" rx="4.65" ry="6.45" fill="#ffe600" opacity="1"/>
<ellipse cx="194.37" cy="400.28" rx="5.85" ry="4.85" fill="#ffe600" opacity="1"/>
<ellipse cx="194.53" cy="383.18" rx="4.20" ry="6.00" fill="#ff1400" opacity="1"/>
<ellipse cx="194.37" cy="400.28" rx="5.40" ry="4.40" fill="#ff1400" opacity="1"/>
</g></g>
<rect x="206.40" y="372.70" width="28.00" height="36.10" fill="#050505"/>
<clipPath id="m59"><path d="M213.81,373.60 C215.41,373.60 216.46,376.34 217.23,380.44 C217.62,383.86 220.04,384.89 219.91,394.12 C219.76,403.70 219.51,407.80 217.27,407.80 L214.58,407.80 L213.96,406.43 L212.68,406.43 L212.02,407.80 L209.33,407.80 C207.09,407.80 206.96,403.70 207.10,394.12 C207.24,384.89 209.69,383.86 210.19,380.44 C211.08,376.34 212.21,373.60 213.81,373.60Z"/></clipPath>
<ellipse cx="209.35" cy="380.10" rx="1.54" ry="1.71" fill="#7a7a7a"/>
<ellipse cx="218.06" cy="380.10" rx="1.54" ry="1.71" fill="#7a7a7a"/>
<path d="M213.81,373.60 C215.41,373.60 216.46,376.34 217.23,380.44 C217.62,383.86 220.04,384.89 219.91,394.12 C219.76,403.70 219.51,407.80 217.27,407.80 L214.58,407.80 L213.96,406.43 L212.68,406.43 L212.02,407.80 L209.33,407.80 C207.09,407.80 206.96,403.70 207.10,394.12 C207.24,384.89 209.69,383.86 210.19,380.44 C211.08,376.34 212.21,373.60 213.81,373.60Z" fill="url(#bodyw)"/>
<g clip-path="url(#m59)">
<rect x="205.40" y="373.60" width="15.80" height="9.23" fill="#808080" opacity="0.3"/>
<rect x="205.40" y="405.41" width="15.80" height="2.74" fill="#444" opacity="0.5"/>
<rect x="205.40" y="373.60" width="15.80" height="34.20" fill="#555" filter="url(#fur)" opacity="0.16"/>
<circle cx="211.49" cy="382.83" r="0.6" fill="#2a2a2a" opacity="0.85"/>
<circle cx="215.84" cy="382.83" r="0.6" fill="#2a2a2a" opacity="0.85"/>
</g>
<g clip-path="url(#m59)"><g filter="url(#blM)">
<ellipse cx="211.79" cy="380.44" rx="1.60" ry="1.60" fill="#3fe23c" opacity="0.9"/>
<ellipse cx="213.63" cy="385.57" rx="1.60" ry="1.60" fill="#3fe23c" opacity="0.9"/>
<ellipse cx="215.68" cy="377.02" rx="1.70" ry="1.70" fill="#22c4ea" opacity="0.6"/>
<ellipse cx="215.68" cy="377.02" rx="1.00" ry="1.00" fill="#3fe23c" opacity="0.85"/>
<ellipse cx="213.40" cy="400.96" rx="1.90" ry="2.40" fill="#3fe23c" opacity="0.9"/>
<ellipse cx="211.79" cy="380.44" rx="0.70" ry="0.70" fill="#ffe600" opacity="0.95"/>
<ellipse cx="213.63" cy="385.57" rx="0.70" ry="0.70" fill="#ffe600" opacity="0.95"/>
<ellipse cx="213.40" cy="400.96" rx="1.00" ry="1.50" fill="#ffe600" opacity="0.95"/>
</g></g>
<g clip-path="url(#m59)"><g filter="url(#bl)">
<ellipse cx="212.38" cy="383.86" rx="5.20" ry="8.00" fill="#2a48e6" opacity="1"/>
<ellipse cx="209.88" cy="400.96" rx="4.80" ry="6.80" fill="#2a48e6" opacity="1"/>
<ellipse cx="216.27" cy="401.99" rx="5.40" ry="5.80" fill="#2a48e6" opacity="1"/>
<ellipse cx="212.38" cy="383.86" rx="4.30" ry="7.10" fill="#22c4ea" opacity="1"/>
<ellipse cx="209.88" cy="400.96" rx="3.90" ry="5.90" fill="#22c4ea" opacity="1"/>
<ellipse cx="216.27" cy="401.99" rx="4.50" ry="4.90" fill="#22c4ea" opacity="1"/>
<ellipse cx="212.38" cy="383.86" rx="3.45" ry="6.25" fill="#3fe23c" opacity="1"/>
<ellipse cx="209.88" cy="400.96" rx="3.05" ry="5.05" fill="#3fe23c" opacity="1"/>
<ellipse cx="216.27" cy="401.99" rx="3.65" ry="4.05" fill="#3fe23c" opacity="1"/>
<ellipse cx="212.38" cy="383.86" rx="2.85" ry="5.65" fill="#ffe600" opacity="1"/>
<ellipse cx="209.88" cy="400.96" rx="2.45" ry="4.45" fill="#ffe600" opacity="1"/>
<ellipse cx="216.27" cy="401.99" rx="3.05" ry="3.45" fill="#ffe600" opacity="1"/>
<ellipse cx="212.38" cy="383.86" rx="2.40" ry="5.20" fill="#ff1400" opacity="1"/>
<ellipse cx="209.88" cy="400.96" rx="2.00" ry="4.00" fill="#ff1400" opacity="1"/>
<ellipse cx="216.27" cy="401.99" rx="2.60" ry="3.00" fill="#ff1400" opacity="1"/>
</g></g>
<clipPath id="m60"><path d="M227.64,373.60 C229.24,373.60 230.32,376.34 231.13,380.44 C231.57,383.86 234.00,384.89 233.96,394.12 C233.92,403.70 233.71,407.80 231.47,407.80 L228.78,407.80 L228.15,406.43 L226.87,406.43 L226.22,407.80 L223.53,407.80 C221.29,407.80 221.11,403.70 221.15,394.12 C221.19,384.89 223.63,383.86 224.09,380.44 C224.94,376.34 226.04,373.60 227.64,373.60Z"/></clipPath>
<ellipse cx="223.26" cy="380.10" rx="1.54" ry="1.71" fill="#7a7a7a"/>
<ellipse cx="231.97" cy="380.10" rx="1.54" ry="1.71" fill="#7a7a7a"/>
<path d="M227.64,373.60 C229.24,373.60 230.32,376.34 231.13,380.44 C231.57,383.86 234.00,384.89 233.96,394.12 C233.92,403.70 233.71,407.80 231.47,407.80 L228.78,407.80 L228.15,406.43 L226.87,406.43 L226.22,407.80 L223.53,407.80 C221.29,407.80 221.11,403.70 221.15,394.12 C221.19,384.89 223.63,383.86 224.09,380.44 C224.94,376.34 226.04,373.60 227.64,373.60Z" fill="url(#bodyw)"/>
<g clip-path="url(#m60)">
<rect x="219.60" y="373.60" width="15.80" height="9.23" fill="#808080" opacity="0.3"/>
<rect x="219.60" y="405.41" width="15.80" height="2.74" fill="#444" opacity="0.5"/>
<rect x="219.60" y="373.60" width="15.80" height="34.20" fill="#555" filter="url(#fur)" opacity="0.16"/>
<circle cx="225.42" cy="382.83" r="0.6" fill="#2a2a2a" opacity="0.85"/>
<circle cx="229.78" cy="382.83" r="0.6" fill="#2a2a2a" opacity="0.85"/>
</g>
<g clip-path="url(#m60)"><g filter="url(#bl)">
<ellipse cx="227.92" cy="382.83" rx="7.40" ry="8.80" fill="#2a48e6" opacity="1"/>
<ellipse cx="227.53" cy="400.96" rx="7.80" ry="7.60" fill="#2a48e6" opacity="1"/>
<ellipse cx="227.92" cy="382.83" rx="6.50" ry="7.90" fill="#22c4ea" opacity="1"/>
<ellipse cx="227.53" cy="400.96" rx="6.90" ry="6.70" fill="#22c4ea" opacity="1"/>
<ellipse cx="227.92" cy="382.83" rx="5.65" ry="7.05" fill="#3fe23c" opacity="1"/>
<ellipse cx="227.53" cy="400.96" rx="6.05" ry="5.85" fill="#3fe23c" opacity="1"/>
<ellipse cx="227.92" cy="382.83" rx="5.05" ry="6.45" fill="#ffe600" opacity="1"/>
<ellipse cx="227.53" cy="400.96" rx="5.45" ry="5.25" fill="#ffe600" opacity="1"/>
<ellipse cx="227.92" cy="382.83" rx="4.60" ry="6.00" fill="#ff1400" opacity="1"/>
<ellipse cx="227.53" cy="400.96" rx="5.00" ry="4.80" fill="#ff1400" opacity="1"/>
</g></g>
<rect x="238.70" y="372.70" width="70.40" height="36.10" fill="#050505"/>
<clipPath id="m61"><path d="M246.92,373.90 C248.50,373.90 249.53,376.60 250.27,380.64 C250.64,384.01 253.03,385.02 252.84,394.12 C252.64,403.56 252.36,407.60 250.14,407.60 L247.47,407.60 L246.86,406.25 L245.59,406.25 L244.93,407.60 L242.26,407.60 C240.04,407.60 239.93,403.56 240.13,394.12 C240.33,385.02 242.76,384.01 243.28,380.64 C244.19,376.60 245.33,373.90 246.92,373.90Z"/></clipPath>
<ellipse cx="242.45" cy="380.30" rx="1.52" ry="1.69" fill="#7a7a7a"/>
<ellipse cx="251.09" cy="380.30" rx="1.52" ry="1.69" fill="#7a7a7a"/>
<path d="M246.92,373.90 C248.50,373.90 249.53,376.60 250.27,380.64 C250.64,384.01 253.03,385.02 252.84,394.12 C252.64,403.56 252.36,407.60 250.14,407.60 L247.47,407.60 L246.86,406.25 L245.59,406.25 L244.93,407.60 L242.26,407.60 C240.04,407.60 239.93,403.56 240.13,394.12 C240.33,385.02 242.76,384.01 243.28,380.64 C244.19,376.60 245.33,373.90 246.92,373.90Z" fill="url(#bodyw)"/>
<g clip-path="url(#m61)">
<rect x="238.35" y="373.90" width="15.71" height="9.10" fill="#808080" opacity="0.3"/>
<rect x="238.35" y="405.24" width="15.71" height="2.70" fill="#444" opacity="0.5"/>
<rect x="238.35" y="373.90" width="15.71" height="33.70" fill="#555" filter="url(#fur)" opacity="0.16"/>
<circle cx="244.56" cy="383.00" r="0.6" fill="#2a2a2a" opacity="0.85"/>
<circle cx="248.88" cy="383.00" r="0.6" fill="#2a2a2a" opacity="0.85"/>
</g>
<g clip-path="url(#m61)"><g filter="url(#blM)">
<ellipse cx="243.05" cy="406.25" rx="0.80" ry="0.60" fill="#22c4ea" opacity="0.9"/>
</g></g>
<clipPath id="m62"><path d="M259.84,373.90 C261.43,373.90 262.54,376.60 263.41,380.64 C263.89,384.01 266.32,385.02 266.41,394.12 C266.51,403.56 266.36,407.60 264.14,407.60 L261.47,407.60 L260.82,406.25 L259.55,406.25 L258.93,407.60 L256.26,407.60 C254.04,407.60 253.80,403.56 253.70,394.12 C253.61,385.02 256.01,384.01 256.42,380.64 C257.20,376.60 258.26,373.90 259.84,373.90Z"/></clipPath>
<ellipse cx="255.60" cy="380.30" rx="1.52" ry="1.69" fill="#7a7a7a"/>
<ellipse cx="264.24" cy="380.30" rx="1.52" ry="1.69" fill="#7a7a7a"/>
<path d="M259.84,373.90 C261.43,373.90 262.54,376.60 263.41,380.64 C263.89,384.01 266.32,385.02 266.41,394.12 C266.51,403.56 266.36,407.60 264.14,407.60 L261.47,407.60 L260.82,406.25 L259.55,406.25 L258.93,407.60 L256.26,407.60 C254.04,407.60 253.80,403.56 253.70,394.12 C253.61,385.02 256.01,384.01 256.42,380.64 C257.20,376.60 258.26,373.90 259.84,373.90Z" fill="url(#bodyw)"/>
<g clip-path="url(#m62)">
<rect x="252.35" y="373.90" width="15.71" height="9.10" fill="#808080" opacity="0.3"/>
<rect x="252.35" y="405.24" width="15.71" height="2.70" fill="#444" opacity="0.5"/>
<rect x="252.35" y="373.90" width="15.71" height="33.70" fill="#555" filter="url(#fur)" opacity="0.16"/>
<circle cx="257.78" cy="383.00" r="0.6" fill="#2a2a2a" opacity="0.85"/>
<circle cx="262.10" cy="383.00" r="0.6" fill="#2a2a2a" opacity="0.85"/>
</g>
<clipPath id="m63"><path d="M274.37,373.90 C275.96,373.90 277.01,376.60 277.79,380.64 C278.20,384.01 280.60,385.02 280.50,394.12 C280.40,403.56 280.16,407.60 277.94,407.60 L275.27,407.60 L274.65,406.25 L273.38,406.25 L272.73,407.60 L270.06,407.60 C267.84,407.60 267.69,403.56 267.80,394.12 C267.90,385.02 270.32,384.01 270.80,380.64 C271.67,376.60 272.78,373.90 274.37,373.90Z"/></clipPath>
<ellipse cx="269.98" cy="380.30" rx="1.52" ry="1.69" fill="#7a7a7a"/>
<ellipse cx="278.62" cy="380.30" rx="1.52" ry="1.69" fill="#7a7a7a"/>
<path d="M274.37,373.90 C275.96,373.90 277.01,376.60 277.79,380.64 C278.20,384.01 280.60,385.02 280.50,394.12 C280.40,403.56 280.16,407.60 277.94,407.60 L275.27,407.60 L274.65,406.25 L273.38,406.25 L272.73,407.60 L270.06,407.60 C267.84,407.60 267.69,403.56 267.80,394.12 C267.90,385.02 270.32,384.01 270.80,380.64 C271.67,376.60 272.78,373.90 274.37,373.90Z" fill="url(#bodyw)"/>
<g clip-path="url(#m63)">
<rect x="266.15" y="373.90" width="15.71" height="9.10" fill="#808080" opacity="0.3"/>
<rect x="266.15" y="405.24" width="15.71" height="2.70" fill="#444" opacity="0.5"/>
<rect x="266.15" y="373.90" width="15.71" height="33.70" fill="#555" filter="url(#fur)" opacity="0.16"/>
<circle cx="272.11" cy="383.00" r="0.6" fill="#2a2a2a" opacity="0.85"/>
<circle cx="276.43" cy="383.00" r="0.6" fill="#2a2a2a" opacity="0.85"/>
</g>
<g clip-path="url(#m63)"><g filter="url(#bl)">
<ellipse cx="274.38" cy="402.21" rx="2.95" ry="2.95" fill="#2a48e6" opacity="1"/>
<ellipse cx="274.38" cy="402.21" rx="2.50" ry="2.50" fill="#22c4ea" opacity="1"/>
<ellipse cx="274.38" cy="402.21" rx="2.10" ry="2.10" fill="#3fe23c" opacity="1"/>
<ellipse cx="274.38" cy="402.21" rx="1.70" ry="1.70" fill="#ffe600" opacity="1"/>
<ellipse cx="274.38" cy="402.21" rx="1.30" ry="1.30" fill="#ff1400" opacity="1"/>
</g></g>
<clipPath id="m64"><path d="M287.98,373.90 C289.57,373.90 290.63,376.60 291.44,380.64 C291.87,384.01 294.27,385.02 294.23,394.12 C294.18,403.56 293.96,407.60 291.74,407.60 L289.07,407.60 L288.44,406.25 L287.17,406.25 L286.53,407.60 L283.86,407.60 C281.64,407.60 281.47,403.56 281.52,394.12 C281.57,385.02 283.99,384.01 284.45,380.64 C285.30,376.60 286.39,373.90 287.98,373.90Z"/></clipPath>
<ellipse cx="283.62" cy="380.30" rx="1.52" ry="1.69" fill="#7a7a7a"/>
<ellipse cx="292.26" cy="380.30" rx="1.52" ry="1.69" fill="#7a7a7a"/>
<path d="M287.98,373.90 C289.57,373.90 290.63,376.60 291.44,380.64 C291.87,384.01 294.27,385.02 294.23,394.12 C294.18,403.56 293.96,407.60 291.74,407.60 L289.07,407.60 L288.44,406.25 L287.17,406.25 L286.53,407.60 L283.86,407.60 C281.64,407.60 281.47,403.56 281.52,394.12 C281.57,385.02 283.99,384.01 284.45,380.64 C285.30,376.60 286.39,373.90 287.98,373.90Z" fill="url(#bodyw)"/>
<g clip-path="url(#m64)">
<rect x="279.95" y="373.90" width="15.71" height="9.10" fill="#808080" opacity="0.3"/>
<rect x="279.95" y="405.24" width="15.71" height="2.70" fill="#444" opacity="0.5"/>
<rect x="279.95" y="373.90" width="15.71" height="33.70" fill="#555" filter="url(#fur)" opacity="0.16"/>
<circle cx="285.77" cy="383.00" r="0.6" fill="#2a2a2a" opacity="0.85"/>
<circle cx="290.09" cy="383.00" r="0.6" fill="#2a2a2a" opacity="0.85"/>
</g>
<clipPath id="m65"><path d="M302.35,373.90 C303.94,373.90 305.01,376.60 305.82,380.64 C306.25,384.01 308.66,385.02 308.61,394.12 C308.57,403.56 308.36,407.60 306.14,407.60 L303.47,407.60 L302.84,406.25 L301.57,406.25 L300.93,407.60 L298.26,407.60 C296.04,407.60 295.86,403.56 295.91,394.12 C295.95,385.02 298.37,384.01 298.83,380.64 C299.67,376.60 300.76,373.90 302.35,373.90Z"/></clipPath>
<ellipse cx="298.00" cy="380.30" rx="1.52" ry="1.69" fill="#7a7a7a"/>
<ellipse cx="306.64" cy="380.30" rx="1.52" ry="1.69" fill="#7a7a7a"/>
<path d="M302.35,373.90 C303.94,373.90 305.01,376.60 305.82,380.64 C306.25,384.01 308.66,385.02 308.61,394.12 C308.57,403.56 308.36,407.60 306.14,407.60 L303.47,407.60 L302.84,406.25 L301.57,406.25 L300.93,407.60 L298.26,407.60 C296.04,407.60 295.86,403.56 295.91,394.12 C295.95,385.02 298.37,384.01 298.83,380.64 C299.67,376.60 300.76,373.90 302.35,373.90Z" fill="url(#bodyw)"/>
<g clip-path="url(#m65)">
<rect x="294.35" y="373.90" width="15.71" height="9.10" fill="#808080" opacity="0.3"/>
<rect x="294.35" y="405.24" width="15.71" height="2.70" fill="#444" opacity="0.5"/>
<rect x="294.35" y="373.90" width="15.71" height="33.70" fill="#555" filter="url(#fur)" opacity="0.16"/>
<circle cx="300.15" cy="383.00" r="0.6" fill="#2a2a2a" opacity="0.85"/>
<circle cx="304.47" cy="383.00" r="0.6" fill="#2a2a2a" opacity="0.85"/>
</g>
<rect x="312.80" y="372.70" width="71.20" height="36.10" fill="#050505"/>
<clipPath id="m66"><path d="M319.72,373.90 C321.30,373.90 322.39,376.60 323.23,380.64 C323.68,384.01 326.10,385.02 326.12,394.12 C326.14,403.56 325.96,407.60 323.74,407.60 L321.07,407.60 L320.43,406.25 L319.16,406.25 L318.53,407.60 L315.86,407.60 C313.64,407.60 313.44,403.56 313.41,394.12 C313.39,385.02 315.80,384.01 316.24,380.64 C317.05,376.60 318.13,373.90 319.72,373.90Z"/></clipPath>
<ellipse cx="315.41" cy="380.30" rx="1.52" ry="1.69" fill="#7a7a7a"/>
<ellipse cx="324.05" cy="380.30" rx="1.52" ry="1.69" fill="#7a7a7a"/>
<path d="M319.72,373.90 C321.30,373.90 322.39,376.60 323.23,380.64 C323.68,384.01 326.10,385.02 326.12,394.12 C326.14,403.56 325.96,407.60 323.74,407.60 L321.07,407.60 L320.43,406.25 L319.16,406.25 L318.53,407.60 L315.86,407.60 C313.64,407.60 313.44,403.56 313.41,394.12 C313.39,385.02 315.80,384.01 316.24,380.64 C317.05,376.60 318.13,373.90 319.72,373.90Z" fill="url(#bodyw)"/>
<g clip-path="url(#m66)">
<rect x="311.95" y="373.90" width="15.71" height="9.10" fill="#808080" opacity="0.3"/>
<rect x="311.95" y="405.24" width="15.71" height="2.70" fill="#444" opacity="0.5"/>
<rect x="311.95" y="373.90" width="15.71" height="33.70" fill="#555" filter="url(#fur)" opacity="0.16"/>
<circle cx="317.58" cy="383.00" r="0.6" fill="#2a2a2a" opacity="0.85"/>
<circle cx="321.90" cy="383.00" r="0.6" fill="#2a2a2a" opacity="0.85"/>
</g>
<g clip-path="url(#m66)"><g filter="url(#bl)">
<ellipse cx="320.71" cy="389.74" rx="3.55" ry="3.55" fill="#2a48e6" opacity="1"/>
<ellipse cx="320.71" cy="389.74" rx="3.10" ry="3.10" fill="#22c4ea" opacity="1"/>
<ellipse cx="320.71" cy="389.74" rx="2.70" ry="2.70" fill="#3fe23c" opacity="1"/>
<ellipse cx="320.71" cy="389.74" rx="2.30" ry="2.30" fill="#ffe600" opacity="1"/>
<ellipse cx="320.71" cy="389.74" rx="1.90" ry="1.90" fill="#ff1400" opacity="1"/>
</g></g>
<clipPath id="m67"><path d="M334.25,373.90 C335.84,373.90 336.86,376.60 337.61,380.64 C337.99,384.01 340.39,385.02 340.21,394.12 C340.03,403.56 339.76,407.60 337.54,407.60 L334.87,407.60 L334.26,406.25 L332.99,406.25 L332.33,407.60 L329.66,407.60 C327.44,407.60 327.32,403.56 327.51,394.12 C327.68,385.02 330.11,384.01 330.62,380.64 C331.53,376.60 332.66,373.90 334.25,373.90Z"/></clipPath>
<ellipse cx="329.80" cy="380.30" rx="1.52" ry="1.69" fill="#7a7a7a"/>
<ellipse cx="338.44" cy="380.30" rx="1.52" ry="1.69" fill="#7a7a7a"/>
<path d="M334.25,373.90 C335.84,373.90 336.86,376.60 337.61,380.64 C337.99,384.01 340.39,385.02 340.21,394.12 C340.03,403.56 339.76,407.60 337.54,407.60 L334.87,407.60 L334.26,406.25 L332.99,406.25 L332.33,407.60 L329.66,407.60 C327.44,407.60 327.32,403.56 327.51,394.12 C327.68,385.02 330.11,384.01 330.62,380.64 C331.53,376.60 332.66,373.90 334.25,373.90Z" fill="url(#bodyw)"/>
<g clip-path="url(#m67)">
<rect x="325.75" y="373.90" width="15.71" height="9.10" fill="#808080" opacity="0.3"/>
<rect x="325.75" y="405.24" width="15.71" height="2.70" fill="#444" opacity="0.5"/>
<rect x="325.75" y="373.90" width="15.71" height="33.70" fill="#555" filter="url(#fur)" opacity="0.16"/>
<circle cx="331.91" cy="383.00" r="0.6" fill="#2a2a2a" opacity="0.85"/>
<circle cx="336.23" cy="383.00" r="0.6" fill="#2a2a2a" opacity="0.85"/>
</g>
<clipPath id="m68"><path d="M348.65,373.90 C350.24,373.90 351.25,376.60 351.97,380.64 C352.33,384.01 354.72,385.02 354.49,394.12 C354.26,403.56 353.96,407.60 351.74,407.60 L349.07,407.60 L348.47,406.25 L347.20,406.25 L346.53,407.60 L343.86,407.60 C341.64,407.60 341.55,403.56 341.79,394.12 C342.01,385.02 344.45,384.01 344.98,380.64 C345.91,376.60 347.06,373.90 348.65,373.90Z"/></clipPath>
<ellipse cx="344.16" cy="380.30" rx="1.52" ry="1.69" fill="#7a7a7a"/>
<ellipse cx="352.80" cy="380.30" rx="1.52" ry="1.69" fill="#7a7a7a"/>
<path d="M348.65,373.90 C350.24,373.90 351.25,376.60 351.97,380.64 C352.33,384.01 354.72,385.02 354.49,394.12 C354.26,403.56 353.96,407.60 351.74,407.60 L349.07,407.60 L348.47,406.25 L347.20,406.25 L346.53,407.60 L343.86,407.60 C341.64,407.60 341.55,403.56 341.79,394.12 C342.01,385.02 344.45,384.01 344.98,380.64 C345.91,376.60 347.06,373.90 348.65,373.90Z" fill="url(#bodyw)"/>
<g clip-path="url(#m68)">
<rect x="339.95" y="373.90" width="15.71" height="9.10" fill="#808080" opacity="0.3"/>
<rect x="339.95" y="405.24" width="15.71" height="2.70" fill="#444" opacity="0.5"/>
<rect x="339.95" y="373.90" width="15.71" height="33.70" fill="#555" filter="url(#fur)" opacity="0.16"/>
<circle cx="346.25" cy="383.00" r="0.6" fill="#2a2a2a" opacity="0.85"/>
<circle cx="350.57" cy="383.00" r="0.6" fill="#2a2a2a" opacity="0.85"/>
</g>
<clipPath id="m69"><path d="M361.95,373.90 C363.54,373.90 364.62,376.60 365.45,380.64 C365.90,384.01 368.32,385.02 368.33,394.12 C368.35,403.56 368.16,407.60 365.94,407.60 L363.27,407.60 L362.63,406.25 L361.36,406.25 L360.73,407.60 L358.06,407.60 C355.84,407.60 355.64,403.56 355.63,394.12 C355.61,385.02 358.03,384.01 358.47,380.64 C359.29,376.60 360.36,373.90 361.95,373.90Z"/></clipPath>
<ellipse cx="357.64" cy="380.30" rx="1.52" ry="1.69" fill="#7a7a7a"/>
<ellipse cx="366.28" cy="380.30" rx="1.52" ry="1.69" fill="#7a7a7a"/>
<path d="M361.95,373.90 C363.54,373.90 364.62,376.60 365.45,380.64 C365.90,384.01 368.32,385.02 368.33,394.12 C368.35,403.56 368.16,407.60 365.94,407.60 L363.27,407.60 L362.63,406.25 L361.36,406.25 L360.73,407.60 L358.06,407.60 C355.84,407.60 355.64,403.56 355.63,394.12 C355.61,385.02 358.03,384.01 358.47,380.64 C359.29,376.60 360.36,373.90 361.95,373.90Z" fill="url(#bodyw)"/>
<g clip-path="url(#m69)">
<rect x="354.15" y="373.90" width="15.71" height="9.10" fill="#808080" opacity="0.3"/>
<rect x="354.15" y="405.24" width="15.71" height="2.70" fill="#444" opacity="0.5"/>
<rect x="354.15" y="373.90" width="15.71" height="33.70" fill="#555" filter="url(#fur)" opacity="0.16"/>
<circle cx="359.80" cy="383.00" r="0.6" fill="#2a2a2a" opacity="0.85"/>
<circle cx="364.12" cy="383.00" r="0.6" fill="#2a2a2a" opacity="0.85"/>
</g>
<clipPath id="m70"><path d="M376.91,373.90 C378.50,373.90 379.56,376.60 380.34,380.64 C380.76,384.01 383.16,385.02 383.08,394.12 C382.99,403.56 382.76,407.60 380.54,407.60 L377.87,407.60 L377.25,406.25 L375.98,406.25 L375.33,407.60 L372.66,407.60 C370.44,407.60 370.28,403.56 370.37,394.12 C370.46,385.02 372.88,384.01 373.36,380.64 C374.22,376.60 375.32,373.90 376.91,373.90Z"/></clipPath>
<ellipse cx="372.53" cy="380.30" rx="1.52" ry="1.69" fill="#7a7a7a"/>
<ellipse cx="381.17" cy="380.30" rx="1.52" ry="1.69" fill="#7a7a7a"/>
<path d="M376.91,373.90 C378.50,373.90 379.56,376.60 380.34,380.64 C380.76,384.01 383.16,385.02 383.08,394.12 C382.99,403.56 382.76,407.60 380.54,407.60 L377.87,407.60 L377.25,406.25 L375.98,406.25 L375.33,407.60 L372.66,407.60 C370.44,407.60 370.28,403.56 370.37,394.12 C370.46,385.02 372.88,384.01 373.36,380.64 C374.22,376.60 375.32,373.90 376.91,373.90Z" fill="url(#bodyw)"/>
<g clip-path="url(#m70)">
<rect x="368.75" y="373.90" width="15.71" height="9.10" fill="#808080" opacity="0.3"/>
<rect x="368.75" y="405.24" width="15.71" height="2.70" fill="#444" opacity="0.5"/>
<rect x="368.75" y="373.90" width="15.71" height="33.70" fill="#555" filter="url(#fur)" opacity="0.16"/>
<circle cx="374.67" cy="383.00" r="0.6" fill="#2a2a2a" opacity="0.85"/>
<circle cx="378.99" cy="383.00" r="0.6" fill="#2a2a2a" opacity="0.85"/>
</g>
<rect x="384.0" y="373.6" width="4.3" height="33.6" fill="url(#cbar)"/>
<text x="164.20" y="219.50" font-size="4.0" text-anchor="start" fill="#1a1a1a" >Day</text>
<text x="169.60" y="232.80" font-size="4.2" text-anchor="end" fill="#1a1a1a" >0</text>
<text x="169.60" y="273.80" font-size="4.2" text-anchor="end" fill="#1a1a1a" >7</text>
<text x="171.90" y="312.70" font-size="4.2" text-anchor="end" fill="#1a1a1a" >14</text>
<text x="171.90" y="352.10" font-size="4.2" text-anchor="end" fill="#1a1a1a" >21</text>
<text x="171.90" y="392.70" font-size="4.2" text-anchor="end" fill="#1a1a1a" >28</text>
<text x="5.60" y="23.20" font-size="5.4" text-anchor="start" fill="#111" >A.</text>
<text x="5.60" y="111.80" font-size="5.4" text-anchor="start" fill="#111" >B.</text>
<text x="102.00" y="111.60" font-size="5.4" text-anchor="start" fill="#111" >C.</text>
<text x="258.50" y="111.60" font-size="5.4" text-anchor="start" fill="#111" >D.</text>
<text x="384.50" y="111.90" font-size="5.4" text-anchor="start" fill="#111" >E.</text>
<text x="5.90" y="212.20" font-size="5.4" text-anchor="start" fill="#111" >F.</text>
<text x="5.90" y="308.20" font-size="5.4" text-anchor="start" fill="#111" >G.</text>
<text x="161.00" y="212.00" font-size="5.4" text-anchor="start" fill="#111" >H.</text>
<text x="396.70" y="211.60" font-size="5.4" text-anchor="start" fill="#111" >I.</text>
<text x="397.60" y="313.40" font-size="5.4" text-anchor="start" fill="#111" >J.</text>
<circle cx="105.00" cy="41.80" r="15.2" fill="#8fd3a8" stroke="#4a9c6c" stroke-width="0.5"/>
<circle cx="105.00" cy="41.80" r="9.4" fill="#2fae7e" stroke="#2a8f68" stroke-width="0.4"/>
<circle cx="113.30" cy="50.00" r="15.4" fill="#8fd3a8" stroke="#4a9c6c" stroke-width="0.5"/>
<circle cx="113.30" cy="50.00" r="9.4" fill="#2fae7e" stroke="#2a8f68" stroke-width="0.4"/>
<circle cx="100.00" cy="58.80" r="15.8" fill="#8fd3a8" stroke="#4a9c6c" stroke-width="0.5"/>
<circle cx="100.00" cy="58.80" r="9.6" fill="#2fae7e" stroke="#2a8f68" stroke-width="0.4"/>
<line x1="141.00" y1="50.30" x2="466.00" y2="50.30" stroke="#111" stroke-width="1.3" />
<polygon points="462.5,47 470.5,50.3 462.5,53.6" fill="#111"/>
<line x1="142.50" y1="23.50" x2="142.50" y2="45.50" stroke="#111" stroke-width="1.15" />
<polygon points="139.40,43.50 145.60,43.50 142.50,48.50" fill="#111"/>
<line x1="237.50" y1="23.50" x2="237.50" y2="45.50" stroke="#111" stroke-width="1.15" />
<polygon points="234.40,43.50 240.60,43.50 237.50,48.50" fill="#111"/>
<line x1="158.50" y1="79.00" x2="158.50" y2="55.50" stroke="#111" stroke-width="1.15" />
<polygon points="155.40,57.50 161.60,57.50 158.50,52.50" fill="#111"/>
<line x1="248.70" y1="79.00" x2="248.70" y2="55.50" stroke="#f00" stroke-width="1.15" />
<polygon points="245.60,57.50 251.80,57.50 248.70,52.50" fill="#f00"/>
<line x1="271.50" y1="79.00" x2="271.50" y2="55.50" stroke="#f00" stroke-width="1.15" />
<polygon points="268.40,57.50 274.60,57.50 271.50,52.50" fill="#f00"/>
<text x="142.50" y="11.00" font-size="7.3" text-anchor="middle" fill="#1a1a1a" text-decoration="underline">Day 0:</text>
<text x="142.50" y="20.20" font-size="7.3" text-anchor="middle" fill="#1a1a1a" >CD3/CD28</text>
<text x="237.50" y="11.00" font-size="7.3" text-anchor="middle" fill="#1a1a1a" text-decoration="underline">Day 7:</text>
<text x="237.50" y="20.20" font-size="7.3" text-anchor="middle" fill="#1a1a1a" >Bead Removal</text>
<text x="158.50" y="86.60" font-size="7.3" text-anchor="middle" fill="#1a1a1a" text-decoration="underline">Day 1:</text>
<text x="158.50" y="95.20" font-size="7.3" text-anchor="middle" fill="#1a1a1a" >Lentivirus</text>
<text x="259.50" y="86.60" font-size="7.3" text-anchor="middle" fill="#1a1a1a" text-decoration="underline">Day 8–10:</text>
<text x="259.50" y="95.20" font-size="7.3" text-anchor="middle" fill="#1a1a1a" >500nM 6MP</text>
<text x="299" y="48" font-size="7.53" fill="#1a1a1a"><tspan text-decoration="underline">Day 12–16</tspan>: Expansion and Functional Assays</text>
<line x1="34.40" y1="117.65" x2="34.40" y2="189.40" stroke="#111" stroke-width="1.0" />
<line x1="33.90" y1="188.90" x2="99.00" y2="188.90" stroke="#111" stroke-width="1.0" />
<line x1="31.10" y1="188.90" x2="34.40" y2="188.90" stroke="#111" stroke-width="0.9" />
<text x="30.60" y="190.40" font-size="4.1" text-anchor="end" fill="#1a1a1a" >0</text>
<line x1="31.10" y1="171.20" x2="34.40" y2="171.20" stroke="#111" stroke-width="0.9" />
<text x="30.60" y="172.70" font-size="4.1" text-anchor="end" fill="#1a1a1a" >20</text>
<line x1="31.10" y1="153.50" x2="34.40" y2="153.50" stroke="#111" stroke-width="0.9" />
<text x="30.60" y="155.00" font-size="4.1" text-anchor="end" fill="#1a1a1a" >40</text>
<line x1="31.10" y1="135.80" x2="34.40" y2="135.80" stroke="#111" stroke-width="0.9" />
<text x="30.60" y="137.30" font-size="4.1" text-anchor="end" fill="#1a1a1a" >60</text>
<line x1="31.10" y1="118.10" x2="34.40" y2="118.10" stroke="#111" stroke-width="0.9" />
<text x="30.60" y="119.60" font-size="4.1" text-anchor="end" fill="#1a1a1a" >80</text>
<text x="21.70" y="147.80" font-size="5.55" text-anchor="middle" fill="#1a1a1a" transform="rotate(-90 21.70 147.80)" >%EGFRt+ Expression</text>
<rect x="40.80" y="168.50" width="22.70" height="20.40" fill="#fff" stroke="#858585" stroke-width="1.15" />
<rect x="70.30" y="144.80" width="22.60" height="44.10" fill="#fff" stroke="#7a14a0" stroke-width="1.2" />
<line x1="52.20" y1="167.20" x2="52.20" y2="169.00" stroke="#111" stroke-width="0.7" />
<line x1="47.20" y1="167.20" x2="57.20" y2="167.20" stroke="#111" stroke-width="0.7" />
<line x1="47.20" y1="169.00" x2="57.20" y2="169.00" stroke="#111" stroke-width="0.7" />
<circle cx="46.90" cy="168.40" r="1.45" fill="#000" stroke="none" stroke-width="0.5"/>
<circle cx="52.00" cy="166.50" r="1.45" fill="#000" stroke="none" stroke-width="0.5"/>
<circle cx="57.40" cy="168.40" r="1.45" fill="#000" stroke="none" stroke-width="0.5"/>
<line x1="81.40" y1="137.50" x2="81.40" y2="149.50" stroke="#111" stroke-width="0.7" />
<line x1="75.20" y1="137.50" x2="87.60" y2="137.50" stroke="#111" stroke-width="0.7" />
<line x1="75.20" y1="149.50" x2="87.60" y2="149.50" stroke="#111" stroke-width="0.7" />
<circle cx="81.40" cy="136.40" r="1.4" fill="#000" stroke="none" stroke-width="0.5"/>
<rect x="79.90" y="144.60" width="3.20" height="4.00" fill="#000" stroke="none" stroke-width="0.7" />
<line x1="40.30" y1="122.20" x2="94.50" y2="122.20" stroke="#222" stroke-width="0.8" />
<text x="66.60" y="119.60" font-size="4.4" text-anchor="middle" fill="#1a1a1a" >ns</text>
<line x1="51.80" y1="188.90" x2="51.80" y2="191.50" stroke="#111" stroke-width="0.9" />
<line x1="81.40" y1="188.90" x2="81.40" y2="191.50" stroke="#111" stroke-width="0.9" />
<text x="50.80" y="197.70" font-size="4.8" text-anchor="middle" fill="#1a1a1a" >shCAR</text>
<text x="81.20" y="197.70" font-size="4.8" text-anchor="middle" fill="#1a1a1a" >6MP-treated</text>
<text x="81.20" y="203.70" font-size="4.8" text-anchor="middle" fill="#1a1a1a" >shCAR</text>
<line x1="133.30" y1="117.45" x2="133.30" y2="189.20" stroke="#111" stroke-width="1.0" />
<line x1="132.80" y1="188.70" x2="241.00" y2="188.70" stroke="#111" stroke-width="1.0" />
<line x1="130.00" y1="188.70" x2="133.30" y2="188.70" stroke="#111" stroke-width="0.9" />
<text x="129.50" y="190.20" font-size="4.1" text-anchor="end" fill="#1a1a1a" >0</text>
<line x1="130.00" y1="174.54" x2="133.30" y2="174.54" stroke="#111" stroke-width="0.9" />
<text x="129.50" y="176.04" font-size="4.1" text-anchor="end" fill="#1a1a1a" >10</text>
<line x1="130.00" y1="160.38" x2="133.30" y2="160.38" stroke="#111" stroke-width="0.9" />
<text x="129.50" y="161.88" font-size="4.1" text-anchor="end" fill="#1a1a1a" >20</text>
<line x1="130.00" y1="146.22" x2="133.30" y2="146.22" stroke="#111" stroke-width="0.9" />
<text x="129.50" y="147.72" font-size="4.1" text-anchor="end" fill="#1a1a1a" >30</text>
<line x1="130.00" y1="132.06" x2="133.30" y2="132.06" stroke="#111" stroke-width="0.9" />
<text x="129.50" y="133.56" font-size="4.1" text-anchor="end" fill="#1a1a1a" >40</text>
<line x1="130.00" y1="117.90" x2="133.30" y2="117.90" stroke="#111" stroke-width="0.9" />
<text x="129.50" y="119.40" font-size="4.1" text-anchor="end" fill="#1a1a1a" >50</text>
<line x1="133.30" y1="188.70" x2="133.30" y2="191.50" stroke="#111" stroke-width="0.9" />
<text x="133.30" y="196.90" font-size="4.1" text-anchor="middle" fill="#1a1a1a" >0</text>
<line x1="168.93" y1="188.70" x2="168.93" y2="191.50" stroke="#111" stroke-width="0.9" />
<text x="168.93" y="196.90" font-size="4.1" text-anchor="middle" fill="#1a1a1a" >5</text>
<line x1="204.55" y1="188.70" x2="204.55" y2="191.50" stroke="#111" stroke-width="0.9" />
<text x="204.55" y="196.90" font-size="4.1" text-anchor="middle" fill="#1a1a1a" >10</text>
<line x1="240.18" y1="188.70" x2="240.18" y2="191.50" stroke="#111" stroke-width="0.9" />
<text x="240.18" y="196.90" font-size="4.1" text-anchor="middle" fill="#1a1a1a" >15</text>
<text x="184.50" y="202.00" font-size="4.75" text-anchor="middle" fill="#1a1a1a" >Day</text>
<text x="122.1" y="153" font-size="4.6" text-anchor="middle" fill="#1a1a1a" transform="rotate(-90 122.1 153)">Total Cell Counts (x10<tspan dy="-1.6" font-size="3.2">6</tspan><tspan dy="1.6">)</tspan></text>
<polyline fill="none" stroke="#7a14a0" stroke-width="0.7" points="133.30,187.28 176.05,181.62 190.30,174.96 204.55,156.56 225.93,145.65"/>
<rect x="131.80" y="185.78" width="3.00" height="3.00" fill="#7a14a0" stroke="none" stroke-width="0.7" />
<rect x="174.55" y="180.12" width="3.00" height="3.00" fill="#7a14a0" stroke="none" stroke-width="0.7" />
<rect x="188.80" y="173.46" width="3.00" height="3.00" fill="#7a14a0" stroke="none" stroke-width="0.7" />
<rect x="203.05" y="155.06" width="3.00" height="3.00" fill="#7a14a0" stroke="none" stroke-width="0.7" />
<rect x="224.43" y="144.15" width="3.00" height="3.00" fill="#7a14a0" stroke="none" stroke-width="0.7" />
<polyline fill="none" stroke="#b0b0b0" stroke-width="0.55" points="133.30,187.28 176.05,184.17 190.30,174.96 204.55,121.44 225.93,121.44"/>
<polygon points="131.95,188.36 134.65,188.36 133.30,185.93" fill="#fff" stroke="#8e8e8e" stroke-width="0.5"/>
<polygon points="174.70,185.25 177.40,185.25 176.05,182.82" fill="#fff" stroke="#8e8e8e" stroke-width="0.5"/>
<polygon points="188.95,176.04 191.65,176.04 190.30,173.61" fill="#fff" stroke="#8e8e8e" stroke-width="0.5"/>
<polygon points="203.20,122.52 205.90,122.52 204.55,120.09" fill="#fff" stroke="#8e8e8e" stroke-width="0.5"/>
<polygon points="224.58,122.52 227.28,122.52 225.93,120.09" fill="#fff" stroke="#8e8e8e" stroke-width="0.5"/>
<polyline fill="none" stroke="#111" stroke-width="0.7" points="133.30,187.28 176.05,186.01 190.30,182.47 204.55,150.04 225.93,150.04"/>
<circle cx="133.30" cy="187.28" r="1.5" fill="#000" stroke="none" stroke-width="0.5"/>
<circle cx="176.05" cy="186.01" r="1.5" fill="#000" stroke="none" stroke-width="0.5"/>
<circle cx="190.30" cy="182.47" r="1.5" fill="#000" stroke="none" stroke-width="0.5"/>
<circle cx="204.55" cy="150.04" r="1.5" fill="#000" stroke="none" stroke-width="0.5"/>
<circle cx="225.93" cy="150.04" r="1.5" fill="#000" stroke="none" stroke-width="0.5"/>
<line x1="135.70" y1="119.30" x2="142.70" y2="119.30" stroke="#111" stroke-width="0.7" />
<circle cx="139.20" cy="119.30" r="1.45" fill="#000" stroke="none" stroke-width="0.5"/>
<text x="145.00" y="120.70" font-size="4.85" text-anchor="start" fill="#1a1a1a" >Mock</text>
<line x1="135.70" y1="124.80" x2="142.70" y2="124.80" stroke="#b0b0b0" stroke-width="0.55" />
<polygon points="138.10,125.68 140.30,125.68 139.20,123.70" fill="#fff" stroke="#9a9a9a" stroke-width="0.4"/>
<text x="145.00" y="126.40" font-size="4.85" text-anchor="start" fill="#1a1a1a" >shCAR</text>
<line x1="135.70" y1="130.50" x2="142.70" y2="130.50" stroke="#7a14a0" stroke-width="0.7" />
<rect x="137.75" y="129.05" width="2.90" height="2.90" fill="#7a14a0" stroke="none" stroke-width="0.7" />
<text x="145.00" y="132.10" font-size="4.85" text-anchor="start" fill="#1a1a1a" >6MP-treated shCAR</text>
<line x1="278.70" y1="116.35" x2="278.70" y2="187.80" stroke="#111" stroke-width="1.0" />
<line x1="278.20" y1="187.30" x2="386.50" y2="187.30" stroke="#111" stroke-width="1.0" />
<line x1="275.40" y1="187.30" x2="278.70" y2="187.30" stroke="#111" stroke-width="0.9" />
<text x="274.80" y="188.90" font-size="4.5" text-anchor="end" fill="#1a1a1a" >0</text>
<line x1="275.40" y1="169.68" x2="278.70" y2="169.68" stroke="#111" stroke-width="0.9" />
<text x="274.80" y="171.28" font-size="4.5" text-anchor="end" fill="#1a1a1a" >5</text>
<line x1="275.40" y1="152.05" x2="278.70" y2="152.05" stroke="#111" stroke-width="0.9" />
<text x="274.80" y="153.65" font-size="4.5" text-anchor="end" fill="#1a1a1a" >10</text>
<line x1="275.40" y1="134.43" x2="278.70" y2="134.43" stroke="#111" stroke-width="0.9" />
<text x="274.80" y="136.03" font-size="4.5" text-anchor="end" fill="#1a1a1a" >15</text>
<line x1="275.40" y1="116.80" x2="278.70" y2="116.80" stroke="#111" stroke-width="0.9" />
<text x="274.80" y="118.40" font-size="4.5" text-anchor="end" fill="#1a1a1a" >20</text>
<line x1="278.70" y1="187.30" x2="278.70" y2="190.10" stroke="#111" stroke-width="0.9" />
<text x="278.70" y="196.90" font-size="4.5" text-anchor="middle" fill="#1a1a1a" >0</text>
<line x1="314.33" y1="187.30" x2="314.33" y2="190.10" stroke="#111" stroke-width="0.9" />
<text x="314.33" y="196.90" font-size="4.5" text-anchor="middle" fill="#1a1a1a" >5</text>
<line x1="349.97" y1="187.30" x2="349.97" y2="190.10" stroke="#111" stroke-width="0.9" />
<text x="349.97" y="196.90" font-size="4.5" text-anchor="middle" fill="#1a1a1a" >10</text>
<line x1="385.61" y1="187.30" x2="385.61" y2="190.10" stroke="#111" stroke-width="0.9" />
<text x="385.61" y="196.90" font-size="4.5" text-anchor="middle" fill="#1a1a1a" >15</text>
<text x="332.20" y="202.30" font-size="5.6" text-anchor="middle" fill="#1a1a1a" >Day</text>
<text x="266.4" y="152.4" font-size="5.85" text-anchor="middle" fill="#1a1a1a" transform="rotate(-90 266.4 152.4)">Total CAR Counts (x10<tspan dy="-2" font-size="3.9">6</tspan><tspan dy="2">)</tspan></text>
<polyline fill="none" stroke="#b0b0b0" stroke-width="0.55" points="278.70,184.02 321.46,184.30 335.72,179.19 349.97,154.52 371.35,148.53"/>
<polygon points="277.35,185.10 280.05,185.10 278.70,182.67" fill="#fff" stroke="#8e8e8e" stroke-width="0.5"/>
<polygon points="320.11,185.38 322.81,185.38 321.46,182.95" fill="#fff" stroke="#8e8e8e" stroke-width="0.5"/>
<polygon points="334.37,180.27 337.07,180.27 335.72,177.84" fill="#fff" stroke="#8e8e8e" stroke-width="0.5"/>
<polygon points="348.62,155.60 351.32,155.60 349.97,153.17" fill="#fff" stroke="#8e8e8e" stroke-width="0.5"/>
<polygon points="370.00,149.61 372.70,149.61 371.35,147.18" fill="#fff" stroke="#8e8e8e" stroke-width="0.5"/>
<polyline fill="none" stroke="#7a14a0" stroke-width="0.7" points="278.70,184.02 321.46,183.42 335.72,179.19 349.97,146.76 371.35,133.37"/>
<rect x="277.20" y="182.52" width="3.00" height="3.00" fill="#7a14a0" stroke="none" stroke-width="0.7" />
<rect x="319.96" y="181.92" width="3.00" height="3.00" fill="#7a14a0" stroke="none" stroke-width="0.7" />
<rect x="334.22" y="177.69" width="3.00" height="3.00" fill="#7a14a0" stroke="none" stroke-width="0.7" />
<rect x="348.47" y="145.26" width="3.00" height="3.00" fill="#7a14a0" stroke="none" stroke-width="0.7" />
<rect x="369.85" y="131.87" width="3.00" height="3.00" fill="#7a14a0" stroke="none" stroke-width="0.7" />
<line x1="281.30" y1="118.50" x2="288.30" y2="118.50" stroke="#b0b0b0" stroke-width="0.55" />
<polygon points="283.70,119.38 285.90,119.38 284.80,117.40" fill="#fff" stroke="#9a9a9a" stroke-width="0.4"/>
<text x="291.20" y="120.00" font-size="4.9" text-anchor="start" fill="#1a1a1a" >shCAR</text>
<line x1="281.30" y1="123.60" x2="288.30" y2="123.60" stroke="#7a14a0" stroke-width="0.7" />
<rect x="283.35" y="122.15" width="2.90" height="2.90" fill="#7a14a0" stroke="none" stroke-width="0.7" />
<text x="291.20" y="125.20" font-size="4.9" text-anchor="start" fill="#1a1a1a" >6MP-treated shCAR</text>
<line x1="404.50" y1="121.15" x2="404.50" y2="186.50" stroke="#111" stroke-width="1.0" />
<line x1="404.00" y1="186.00" x2="547.00" y2="186.00" stroke="#111" stroke-width="1.0" />
<line x1="401.90" y1="186.00" x2="404.50" y2="186.00" stroke="#111" stroke-width="0.9" />
<text x="401.50" y="187.50" font-size="4.1" text-anchor="end" fill="#1a1a1a" >0</text>
<line x1="401.90" y1="173.12" x2="404.50" y2="173.12" stroke="#111" stroke-width="0.9" />
<text x="401.50" y="174.62" font-size="4.1" text-anchor="end" fill="#1a1a1a" >20</text>
<line x1="401.90" y1="160.24" x2="404.50" y2="160.24" stroke="#111" stroke-width="0.9" />
<text x="401.50" y="161.74" font-size="4.1" text-anchor="end" fill="#1a1a1a" >40</text>
<line x1="401.90" y1="147.36" x2="404.50" y2="147.36" stroke="#111" stroke-width="0.9" />
<text x="401.50" y="148.86" font-size="4.1" text-anchor="end" fill="#1a1a1a" >60</text>
<line x1="401.90" y1="134.48" x2="404.50" y2="134.48" stroke="#111" stroke-width="0.9" />
<text x="401.50" y="135.98" font-size="4.1" text-anchor="end" fill="#1a1a1a" >80</text>
<line x1="401.90" y1="121.60" x2="404.50" y2="121.60" stroke="#111" stroke-width="0.9" />
<text x="401.50" y="123.10" font-size="4.1" text-anchor="end" fill="#1a1a1a" >100</text>
<text x="396.20" y="151.90" font-size="5.9" text-anchor="middle" fill="#1a1a1a" transform="rotate(-90 396.20 151.90)" >Percent Expression</text>
<rect x="407.82" y="176.34" width="3.05" height="9.66" fill="#0a0a0a" stroke="none" stroke-width="0.7" />
<rect x="410.97" y="180.85" width="3.05" height="5.15" fill="#a9a9ab" stroke="none" stroke-width="0.7" />
<rect x="414.12" y="181.49" width="3.05" height="4.51" fill="#7a14a0" stroke="none" stroke-width="0.7" />
<line x1="412.50" y1="186.00" x2="412.50" y2="188.40" stroke="#111" stroke-width="0.9" />
<text x="414.00" y="191.30" font-size="4.6" text-anchor="end" fill="#1a1a1a" transform="rotate(-45 414.00 191.30)" >CD8</text>
<rect x="419.43" y="133.19" width="3.05" height="52.81" fill="#0a0a0a" stroke="none" stroke-width="0.7" />
<rect x="422.57" y="128.68" width="3.05" height="57.32" fill="#a9a9ab" stroke="none" stroke-width="0.7" />
<rect x="425.73" y="128.68" width="3.05" height="57.32" fill="#7a14a0" stroke="none" stroke-width="0.7" />
<line x1="424.10" y1="186.00" x2="424.10" y2="188.40" stroke="#111" stroke-width="0.9" />
<text x="425.60" y="191.30" font-size="4.6" text-anchor="end" fill="#1a1a1a" transform="rotate(-45 425.60 191.30)" >CD4</text>
<rect x="431.02" y="174.41" width="3.05" height="11.59" fill="#0a0a0a" stroke="none" stroke-width="0.7" />
<rect x="434.17" y="181.49" width="3.05" height="4.51" fill="#a9a9ab" stroke="none" stroke-width="0.7" />
<rect x="437.32" y="181.49" width="3.05" height="4.51" fill="#7a14a0" stroke="none" stroke-width="0.7" />
<line x1="435.70" y1="186.00" x2="435.70" y2="188.40" stroke="#111" stroke-width="0.9" />
<text x="437.20" y="191.30" font-size="4.6" text-anchor="end" fill="#1a1a1a" transform="rotate(-45 437.20 191.30)" >CD45RA</text>
<rect x="442.62" y="133.19" width="3.05" height="52.81" fill="#0a0a0a" stroke="none" stroke-width="0.7" />
<rect x="445.77" y="126.11" width="3.05" height="59.89" fill="#a9a9ab" stroke="none" stroke-width="0.7" />
<rect x="448.93" y="126.11" width="3.05" height="59.89" fill="#7a14a0" stroke="none" stroke-width="0.7" />
<line x1="447.30" y1="186.00" x2="447.30" y2="188.40" stroke="#111" stroke-width="0.9" />
<text x="448.80" y="191.30" font-size="4.6" text-anchor="end" fill="#1a1a1a" transform="rotate(-45 448.80 191.30)" >CD45RO</text>
<rect x="454.22" y="126.75" width="3.05" height="59.25" fill="#0a0a0a" stroke="none" stroke-width="0.7" />
<rect x="457.37" y="122.89" width="3.05" height="63.11" fill="#a9a9ab" stroke="none" stroke-width="0.7" />
<rect x="460.52" y="125.46" width="3.05" height="60.54" fill="#7a14a0" stroke="none" stroke-width="0.7" />
<line x1="458.90" y1="186.00" x2="458.90" y2="188.40" stroke="#111" stroke-width="0.9" />
<text x="460.40" y="191.30" font-size="4.6" text-anchor="end" fill="#1a1a1a" transform="rotate(-45 460.40 191.30)" >CD62L</text>
<rect x="465.82" y="126.75" width="3.05" height="59.25" fill="#0a0a0a" stroke="none" stroke-width="0.7" />
<rect x="468.97" y="125.46" width="3.05" height="60.54" fill="#a9a9ab" stroke="none" stroke-width="0.7" />
<rect x="472.12" y="128.68" width="3.05" height="57.32" fill="#7a14a0" stroke="none" stroke-width="0.7" />
<line x1="470.50" y1="186.00" x2="470.50" y2="188.40" stroke="#111" stroke-width="0.9" />
<text x="472.00" y="191.30" font-size="4.6" text-anchor="end" fill="#1a1a1a" transform="rotate(-45 472.00 191.30)" >CD27</text>
<rect x="477.43" y="128.04" width="3.05" height="57.96" fill="#0a0a0a" stroke="none" stroke-width="0.7" />
<rect x="480.57" y="125.46" width="3.05" height="60.54" fill="#a9a9ab" stroke="none" stroke-width="0.7" />
<rect x="483.73" y="128.68" width="3.05" height="57.32" fill="#7a14a0" stroke="none" stroke-width="0.7" />
<line x1="482.10" y1="186.00" x2="482.10" y2="188.40" stroke="#111" stroke-width="0.9" />
<text x="483.60" y="191.30" font-size="4.6" text-anchor="end" fill="#1a1a1a" transform="rotate(-45 483.60 191.30)" >CD28</text>
<rect x="489.02" y="160.88" width="3.05" height="25.12" fill="#0a0a0a" stroke="none" stroke-width="0.7" />
<rect x="492.17" y="162.17" width="3.05" height="23.83" fill="#a9a9ab" stroke="none" stroke-width="0.7" />
<rect x="495.32" y="153.16" width="3.05" height="32.84" fill="#7a14a0" stroke="none" stroke-width="0.7" />
<line x1="493.70" y1="186.00" x2="493.70" y2="188.40" stroke="#111" stroke-width="0.9" />
<text x="495.20" y="191.30" font-size="4.6" text-anchor="end" fill="#1a1a1a" transform="rotate(-45 495.20 191.30)" >CD127</text>
<line x1="505.30" y1="186.00" x2="505.30" y2="188.40" stroke="#111" stroke-width="0.9" />
<text x="506.80" y="191.30" font-size="4.6" text-anchor="end" fill="#1a1a1a" transform="rotate(-45 506.80 191.30)" >LAG3</text>
<line x1="516.90" y1="186.00" x2="516.90" y2="188.40" stroke="#111" stroke-width="0.9" />
<text x="518.40" y="191.30" font-size="4.6" text-anchor="end" fill="#1a1a1a" transform="rotate(-45 518.40 191.30)" >TIM3</text>
<line x1="528.50" y1="186.00" x2="528.50" y2="188.40" stroke="#111" stroke-width="0.9" />
<text x="530.00" y="191.30" font-size="4.6" text-anchor="end" fill="#1a1a1a" transform="rotate(-45 530.00 191.30)" >PD1</text>
<rect x="535.42" y="184.07" width="3.05" height="1.93" fill="#0a0a0a" stroke="none" stroke-width="0.7" />
<rect x="538.57" y="184.07" width="3.05" height="1.93" fill="#a9a9ab" stroke="none" stroke-width="0.7" />
<rect x="541.72" y="184.07" width="3.05" height="1.93" fill="#7a14a0" stroke="none" stroke-width="0.7" />
<line x1="540.10" y1="186.00" x2="540.10" y2="188.40" stroke="#111" stroke-width="0.9" />
<text x="541.60" y="191.30" font-size="4.6" text-anchor="end" fill="#1a1a1a" transform="rotate(-45 541.60 191.30)" >KLG1</text>
<rect x="497.40" y="120.20" width="6.80" height="3.30" fill="#0a0a0a" stroke="none" stroke-width="0.7" />
<text x="504.90" y="123.50" font-size="4.45" text-anchor="start" fill="#1a1a1a" >Mock</text>
<rect x="497.40" y="126.05" width="6.80" height="3.30" fill="#a9a9ab" stroke="none" stroke-width="0.7" />
<text x="504.90" y="129.35" font-size="4.45" text-anchor="start" fill="#1a1a1a" >shCAR</text>
<rect x="497.40" y="131.90" width="6.80" height="3.30" fill="#7a14a0" stroke="none" stroke-width="0.7" />
<text x="504.90" y="135.20" font-size="4.45" text-anchor="start" fill="#1a1a1a" >6MP-treated shCAR</text>
<line x1="32.40" y1="210.80" x2="32.40" y2="288.95" stroke="#111" stroke-width="1.1" />
<line x1="31.85" y1="288.40" x2="151.30" y2="288.40" stroke="#111" stroke-width="1.1" />
<line x1="29.10" y1="288.40" x2="32.40" y2="288.40" stroke="#111" stroke-width="1.0" />
<text x="28.60" y="290.10" font-size="4.8" text-anchor="end" fill="#1a1a1a" >0</text>
<line x1="29.10" y1="249.85" x2="32.40" y2="249.85" stroke="#111" stroke-width="1.0" />
<text x="28.60" y="251.55" font-size="4.8" text-anchor="end" fill="#1a1a1a" >50</text>
<line x1="29.10" y1="211.30" x2="32.40" y2="211.30" stroke="#111" stroke-width="1.0" />
<text x="28.60" y="213.00" font-size="4.8" text-anchor="end" fill="#1a1a1a" >100</text>
<text x="13.30" y="252.35" font-size="6.45" text-anchor="middle" fill="#1a1a1a" transform="rotate(-90 13.30 252.35)" >%CD69 Expression</text>
<text x="21.80" y="252.35" font-size="6.45" text-anchor="middle" fill="#1a1a1a" transform="rotate(-90 21.80 252.35)" >(Gated on EGFRt+)</text>
<rect x="36.70" y="220.24" width="9.60" height="68.16" fill="#0a0a0a" stroke="none" stroke-width="0.7" />
<line x1="53.10" y1="217.47" x2="53.10" y2="219.01" stroke="#333" stroke-width="0.6" />
<line x1="50.80" y1="217.47" x2="55.40" y2="217.47" stroke="#333" stroke-width="0.6" />
<line x1="50.80" y1="219.01" x2="55.40" y2="219.01" stroke="#333" stroke-width="0.6" />
<rect x="48.30" y="219.01" width="9.60" height="69.39" fill="#a9a9ab" stroke="none" stroke-width="0.7" />
<line x1="64.70" y1="214.15" x2="64.70" y2="216.47" stroke="#333" stroke-width="0.6" />
<line x1="62.40" y1="214.15" x2="67.00" y2="214.15" stroke="#333" stroke-width="0.6" />
<line x1="62.40" y1="216.47" x2="67.00" y2="216.47" stroke="#333" stroke-width="0.6" />
<rect x="59.90" y="216.47" width="9.60" height="71.93" fill="#7a14a0" stroke="none" stroke-width="0.7" />
<line x1="80.80" y1="280.15" x2="80.80" y2="280.69" stroke="#333" stroke-width="0.6" />
<line x1="78.50" y1="280.15" x2="83.10" y2="280.15" stroke="#333" stroke-width="0.6" />
<line x1="78.50" y1="280.69" x2="83.10" y2="280.69" stroke="#333" stroke-width="0.6" />
<rect x="76.00" y="280.69" width="9.60" height="7.71" fill="#0a0a0a" stroke="none" stroke-width="0.7" />
<line x1="92.50" y1="232.50" x2="92.50" y2="234.82" stroke="#333" stroke-width="0.6" />
<line x1="90.20" y1="232.50" x2="94.80" y2="232.50" stroke="#333" stroke-width="0.6" />
<line x1="90.20" y1="234.82" x2="94.80" y2="234.82" stroke="#333" stroke-width="0.6" />
<rect x="87.70" y="234.82" width="9.60" height="53.58" fill="#a9a9ab" stroke="none" stroke-width="0.7" />
<line x1="104.20" y1="237.82" x2="104.20" y2="239.36" stroke="#333" stroke-width="0.6" />
<line x1="101.90" y1="237.82" x2="106.50" y2="237.82" stroke="#333" stroke-width="0.6" />
<line x1="101.90" y1="239.36" x2="106.50" y2="239.36" stroke="#333" stroke-width="0.6" />
<rect x="99.40" y="239.36" width="9.60" height="49.04" fill="#7a14a0" stroke="none" stroke-width="0.7" />
<rect x="115.90" y="287.94" width="9.60" height="0.46" fill="#0a0a0a" stroke="none" stroke-width="0.7" />
<line x1="132.30" y1="282.39" x2="132.30" y2="283.00" stroke="#333" stroke-width="0.6" />
<line x1="130.00" y1="282.39" x2="134.60" y2="282.39" stroke="#333" stroke-width="0.6" />
<line x1="130.00" y1="283.00" x2="134.60" y2="283.00" stroke="#333" stroke-width="0.6" />
<rect x="127.50" y="283.00" width="9.60" height="5.40" fill="#a9a9ab" stroke="none" stroke-width="0.7" />
<line x1="143.90" y1="281.08" x2="143.90" y2="283.00" stroke="#333" stroke-width="0.6" />
<line x1="141.60" y1="281.08" x2="146.20" y2="281.08" stroke="#333" stroke-width="0.6" />
<line x1="141.60" y1="283.00" x2="146.20" y2="283.00" stroke="#333" stroke-width="0.6" />
<rect x="139.10" y="283.00" width="9.60" height="5.40" fill="#7a14a0" stroke="none" stroke-width="0.7" />
<line x1="53.10" y1="288.40" x2="53.10" y2="291.00" stroke="#111" stroke-width="1.0" />
<text x="53.10" y="297.30" font-size="5.3" text-anchor="middle" fill="#1a1a1a" >LCL-OKT3</text>
<line x1="92.50" y1="288.40" x2="92.50" y2="291.00" stroke="#111" stroke-width="1.0" />
<text x="92.50" y="297.30" font-size="5.3" text-anchor="middle" fill="#1a1a1a" >LCL</text>
<line x1="131.50" y1="288.40" x2="131.50" y2="291.00" stroke="#111" stroke-width="1.0" />
<text x="131.50" y="297.30" font-size="5.3" text-anchor="middle" fill="#1a1a1a" >KG-1a</text>
<rect x="108.90" y="210.50" width="6.90" height="3.20" fill="#0a0a0a" stroke="none" stroke-width="0.7" />
<text x="116.70" y="213.60" font-size="4.25" text-anchor="start" fill="#1a1a1a" >Mock</text>
<rect x="108.90" y="215.95" width="6.90" height="3.20" fill="#a9a9ab" stroke="none" stroke-width="0.7" />
<text x="116.70" y="219.05" font-size="4.25" text-anchor="start" fill="#1a1a1a" >shCAR</text>
<rect x="108.90" y="221.40" width="6.90" height="3.20" fill="#7a14a0" stroke="none" stroke-width="0.7" />
<text x="116.70" y="224.50" font-size="4.25" text-anchor="start" fill="#1a1a1a" >6MP-treated shCAR</text>
<line x1="81.50" y1="225.90" x2="103.90" y2="225.90" stroke="#222" stroke-width="0.75" />
<text x="92.40" y="227.30" font-size="7" text-anchor="middle" fill="#111" >*</text>
<line x1="81.50" y1="230.40" x2="93.70" y2="230.40" stroke="#222" stroke-width="0.75" />
<text x="86.90" y="231.80" font-size="7" text-anchor="middle" fill="#111" >*</text>
<line x1="32.40" y1="313.20" x2="32.40" y2="392.15" stroke="#111" stroke-width="1.1" />
<line x1="31.85" y1="391.60" x2="151.30" y2="391.60" stroke="#111" stroke-width="1.1" />
<line x1="29.10" y1="391.60" x2="32.40" y2="391.60" stroke="#111" stroke-width="1.0" />
<text x="28.60" y="393.30" font-size="4.8" text-anchor="end" fill="#1a1a1a" >0</text>
<line x1="29.10" y1="365.63" x2="32.40" y2="365.63" stroke="#111" stroke-width="1.0" />
<text x="28.60" y="367.33" font-size="4.8" text-anchor="end" fill="#1a1a1a" >20</text>
<line x1="29.10" y1="339.67" x2="32.40" y2="339.67" stroke="#111" stroke-width="1.0" />
<text x="28.60" y="341.37" font-size="4.8" text-anchor="end" fill="#1a1a1a" >40</text>
<line x1="29.10" y1="313.70" x2="32.40" y2="313.70" stroke="#111" stroke-width="1.0" />
<text x="28.60" y="315.40" font-size="4.8" text-anchor="end" fill="#1a1a1a" >60</text>
<text x="13.30" y="353.25" font-size="6.45" text-anchor="middle" fill="#1a1a1a" transform="rotate(-90 13.30 353.25)" >%CD107a Expression</text>
<text x="21.80" y="353.25" font-size="6.45" text-anchor="middle" fill="#1a1a1a" transform="rotate(-90 21.80 353.25)" >(Gated on EGFRt+)</text>
<line x1="41.50" y1="346.94" x2="41.50" y2="347.46" stroke="#333" stroke-width="0.6" />
<line x1="39.20" y1="346.94" x2="43.80" y2="346.94" stroke="#333" stroke-width="0.6" />
<line x1="39.20" y1="347.46" x2="43.80" y2="347.46" stroke="#333" stroke-width="0.6" />
<rect x="36.70" y="347.46" width="9.60" height="44.14" fill="#0a0a0a" stroke="none" stroke-width="0.7" />
<line x1="53.10" y1="340.32" x2="53.10" y2="342.26" stroke="#333" stroke-width="0.6" />
<line x1="50.80" y1="340.32" x2="55.40" y2="340.32" stroke="#333" stroke-width="0.6" />
<line x1="50.80" y1="342.26" x2="55.40" y2="342.26" stroke="#333" stroke-width="0.6" />
<rect x="48.30" y="342.26" width="9.60" height="49.34" fill="#a9a9ab" stroke="none" stroke-width="0.7" />
<line x1="64.70" y1="339.02" x2="64.70" y2="339.67" stroke="#333" stroke-width="0.6" />
<line x1="62.40" y1="339.02" x2="67.00" y2="339.02" stroke="#333" stroke-width="0.6" />
<line x1="62.40" y1="339.67" x2="67.00" y2="339.67" stroke="#333" stroke-width="0.6" />
<rect x="59.90" y="339.67" width="9.60" height="51.93" fill="#7a14a0" stroke="none" stroke-width="0.7" />
<line x1="80.80" y1="387.96" x2="80.80" y2="388.35" stroke="#333" stroke-width="0.6" />
<line x1="78.50" y1="387.96" x2="83.10" y2="387.96" stroke="#333" stroke-width="0.6" />
<line x1="78.50" y1="388.35" x2="83.10" y2="388.35" stroke="#333" stroke-width="0.6" />
<rect x="76.00" y="388.35" width="9.60" height="3.25" fill="#0a0a0a" stroke="none" stroke-width="0.7" />
<line x1="92.50" y1="333.82" x2="92.50" y2="334.47" stroke="#333" stroke-width="0.6" />
<line x1="90.20" y1="333.82" x2="94.80" y2="333.82" stroke="#333" stroke-width="0.6" />
<line x1="90.20" y1="334.47" x2="94.80" y2="334.47" stroke="#333" stroke-width="0.6" />
<rect x="87.70" y="334.47" width="9.60" height="57.13" fill="#a9a9ab" stroke="none" stroke-width="0.7" />
<line x1="104.20" y1="319.15" x2="104.20" y2="320.19" stroke="#333" stroke-width="0.6" />
<line x1="101.90" y1="319.15" x2="106.50" y2="319.15" stroke="#333" stroke-width="0.6" />
<line x1="101.90" y1="320.19" x2="106.50" y2="320.19" stroke="#333" stroke-width="0.6" />
<rect x="99.40" y="320.19" width="9.60" height="71.41" fill="#7a14a0" stroke="none" stroke-width="0.7" />
<line x1="120.70" y1="389.26" x2="120.70" y2="389.65" stroke="#333" stroke-width="0.6" />
<line x1="118.40" y1="389.26" x2="123.00" y2="389.26" stroke="#333" stroke-width="0.6" />
<line x1="118.40" y1="389.65" x2="123.00" y2="389.65" stroke="#333" stroke-width="0.6" />
<rect x="115.90" y="389.65" width="9.60" height="1.95" fill="#0a0a0a" stroke="none" stroke-width="0.7" />
<line x1="132.30" y1="380.43" x2="132.30" y2="381.21" stroke="#333" stroke-width="0.6" />
<line x1="130.00" y1="380.43" x2="134.60" y2="380.43" stroke="#333" stroke-width="0.6" />
<line x1="130.00" y1="381.21" x2="134.60" y2="381.21" stroke="#333" stroke-width="0.6" />
<rect x="127.50" y="381.21" width="9.60" height="10.39" fill="#a9a9ab" stroke="none" stroke-width="0.7" />
<line x1="143.90" y1="381.47" x2="143.90" y2="383.81" stroke="#333" stroke-width="0.6" />
<line x1="141.60" y1="381.47" x2="146.20" y2="381.47" stroke="#333" stroke-width="0.6" />
<line x1="141.60" y1="383.81" x2="146.20" y2="383.81" stroke="#333" stroke-width="0.6" />
<rect x="139.10" y="383.81" width="9.60" height="7.79" fill="#7a14a0" stroke="none" stroke-width="0.7" />
<line x1="53.10" y1="391.60" x2="53.10" y2="394.20" stroke="#111" stroke-width="1.0" />
<text x="53.10" y="400.80" font-size="5.3" text-anchor="middle" fill="#1a1a1a" >LCL-OKT3</text>
<line x1="92.50" y1="391.60" x2="92.50" y2="394.20" stroke="#111" stroke-width="1.0" />
<text x="92.50" y="400.80" font-size="5.3" text-anchor="middle" fill="#1a1a1a" >LCL</text>
<line x1="131.50" y1="391.60" x2="131.50" y2="394.20" stroke="#111" stroke-width="1.0" />
<text x="131.50" y="400.80" font-size="5.3" text-anchor="middle" fill="#1a1a1a" >KG-1a</text>
<rect x="111.80" y="306.30" width="6.90" height="3.20" fill="#0a0a0a" stroke="none" stroke-width="0.7" />
<text x="119.60" y="309.40" font-size="4.25" text-anchor="start" fill="#1a1a1a" >Mock</text>
<rect x="111.80" y="312.10" width="6.90" height="3.20" fill="#a9a9ab" stroke="none" stroke-width="0.7" />
<text x="119.60" y="315.20" font-size="4.25" text-anchor="start" fill="#1a1a1a" >shCAR</text>
<rect x="111.80" y="317.90" width="6.90" height="3.20" fill="#7a14a0" stroke="none" stroke-width="0.7" />
<text x="119.60" y="321.00" font-size="4.25" text-anchor="start" fill="#1a1a1a" >6MP-treated shCAR</text>
<line x1="81.50" y1="316.20" x2="103.90" y2="316.20" stroke="#222" stroke-width="0.75" />
<text x="92.50" y="317.60" font-size="7" text-anchor="middle" fill="#111" >*</text>
<line x1="81.20" y1="331.70" x2="93.50" y2="331.70" stroke="#222" stroke-width="0.75" />
<text x="87.00" y="333.10" font-size="7" text-anchor="middle" fill="#111" >*</text>
<line x1="423.20" y1="219.80" x2="423.20" y2="293.50" stroke="#111" stroke-width="1.05" />
<line x1="422.70" y1="293.00" x2="533.00" y2="293.00" stroke="#111" stroke-width="1.05" />
<line x1="420.00" y1="293.00" x2="423.20" y2="293.00" stroke="#111" stroke-width="0.9" />
<text x="419.80" y="294.90" font-size="4.5" text-anchor="end" fill="#1a1a1a">2<tspan dy="-1.9" font-size="2.6">12</tspan></text>
<line x1="420.00" y1="274.82" x2="423.20" y2="274.82" stroke="#111" stroke-width="0.9" />
<text x="419.80" y="276.72" font-size="4.5" text-anchor="end" fill="#1a1a1a">2<tspan dy="-1.9" font-size="2.6">14</tspan></text>
<line x1="420.00" y1="256.65" x2="423.20" y2="256.65" stroke="#111" stroke-width="0.9" />
<text x="419.80" y="258.55" font-size="4.5" text-anchor="end" fill="#1a1a1a">2<tspan dy="-1.9" font-size="2.6">16</tspan></text>
<line x1="420.00" y1="238.48" x2="423.20" y2="238.48" stroke="#111" stroke-width="0.9" />
<text x="419.80" y="240.38" font-size="4.5" text-anchor="end" fill="#1a1a1a">2<tspan dy="-1.9" font-size="2.6">18</tspan></text>
<line x1="420.00" y1="220.30" x2="423.20" y2="220.30" stroke="#111" stroke-width="0.9" />
<text x="419.80" y="222.20" font-size="4.5" text-anchor="end" fill="#1a1a1a">2<tspan dy="-1.9" font-size="2.6">20</tspan></text>
<line x1="423.20" y1="293.00" x2="423.20" y2="295.80" stroke="#111" stroke-width="0.9" />
<text x="423.20" y="301.20" font-size="4.5" text-anchor="middle" fill="#1a1a1a" >0</text>
<line x1="445.10" y1="293.00" x2="445.10" y2="295.80" stroke="#111" stroke-width="0.9" />
<text x="445.10" y="301.20" font-size="4.5" text-anchor="middle" fill="#1a1a1a" >10</text>
<line x1="467.00" y1="293.00" x2="467.00" y2="295.80" stroke="#111" stroke-width="0.9" />
<text x="467.00" y="301.20" font-size="4.5" text-anchor="middle" fill="#1a1a1a" >20</text>
<line x1="488.90" y1="293.00" x2="488.90" y2="295.80" stroke="#111" stroke-width="0.9" />
<text x="488.90" y="301.20" font-size="4.5" text-anchor="middle" fill="#1a1a1a" >30</text>
<line x1="510.80" y1="293.00" x2="510.80" y2="295.80" stroke="#111" stroke-width="0.9" />
<text x="510.80" y="301.20" font-size="4.5" text-anchor="middle" fill="#1a1a1a" >40</text>
<line x1="532.70" y1="293.00" x2="532.70" y2="295.80" stroke="#111" stroke-width="0.9" />
<text x="532.70" y="301.20" font-size="4.5" text-anchor="middle" fill="#1a1a1a" >50</text>
<text x="476.50" y="306.60" font-size="4.6" text-anchor="middle" fill="#1a1a1a" >Day</text>
<text x="412.20" y="259.00" font-size="5.05" text-anchor="middle" fill="#1a1a1a" transform="rotate(-90 412.20 259.00)" >Flux (Photons/sec)</text>
<line x1="453.86" y1="259.80" x2="453.86" y2="268.20" stroke="#222" stroke-width="0.65" />
<line x1="452.16" y1="259.80" x2="455.56" y2="259.80" stroke="#222" stroke-width="0.65" />
<line x1="452.16" y1="268.20" x2="455.56" y2="268.20" stroke="#222" stroke-width="0.65" />
<line x1="469.19" y1="243.90" x2="469.19" y2="255.30" stroke="#222" stroke-width="0.65" />
<line x1="467.49" y1="243.90" x2="470.89" y2="243.90" stroke="#222" stroke-width="0.65" />
<line x1="467.49" y1="255.30" x2="470.89" y2="255.30" stroke="#222" stroke-width="0.65" />
<line x1="484.52" y1="236.90" x2="484.52" y2="246.10" stroke="#222" stroke-width="0.65" />
<line x1="482.82" y1="236.90" x2="486.22" y2="236.90" stroke="#222" stroke-width="0.65" />
<line x1="482.82" y1="246.10" x2="486.22" y2="246.10" stroke="#222" stroke-width="0.65" />
<line x1="438.53" y1="274.40" x2="438.53" y2="276.40" stroke="#333" stroke-width="0.65" />
<line x1="436.83" y1="274.40" x2="440.23" y2="274.40" stroke="#333" stroke-width="0.65" />
<line x1="436.83" y1="276.40" x2="440.23" y2="276.40" stroke="#333" stroke-width="0.65" />
<line x1="453.86" y1="272.20" x2="453.86" y2="278.10" stroke="#333" stroke-width="0.65" />
<line x1="452.16" y1="272.20" x2="455.56" y2="272.20" stroke="#333" stroke-width="0.65" />
<line x1="452.16" y1="278.10" x2="455.56" y2="278.10" stroke="#333" stroke-width="0.65" />
<line x1="469.19" y1="267.00" x2="469.19" y2="280.50" stroke="#333" stroke-width="0.65" />
<line x1="467.49" y1="267.00" x2="470.89" y2="267.00" stroke="#333" stroke-width="0.65" />
<line x1="467.49" y1="280.50" x2="470.89" y2="280.50" stroke="#333" stroke-width="0.65" />
<line x1="484.52" y1="253.80" x2="484.52" y2="264.80" stroke="#333" stroke-width="0.65" />
<line x1="482.82" y1="253.80" x2="486.22" y2="253.80" stroke="#333" stroke-width="0.65" />
<line x1="482.82" y1="264.80" x2="486.22" y2="264.80" stroke="#333" stroke-width="0.65" />
<line x1="512.99" y1="246.20" x2="512.99" y2="256.80" stroke="#333" stroke-width="0.65" />
<line x1="511.29" y1="246.20" x2="514.69" y2="246.20" stroke="#333" stroke-width="0.65" />
<line x1="511.29" y1="256.80" x2="514.69" y2="256.80" stroke="#333" stroke-width="0.65" />
<polyline fill="none" stroke="#b0b0b0" stroke-width="0.55" points="423.20,275.40 438.53,275.40 453.86,275.10 469.19,270.00 484.52,262.50 512.99,256.10"/>
<polygon points="422.45,276.00 423.95,276.00 423.20,274.65" fill="#2b55c9" stroke="#2b55c9" stroke-width="0.1"/>
<polygon points="437.78,276.00 439.28,276.00 438.53,274.65" fill="#2b55c9" stroke="#2b55c9" stroke-width="0.1"/>
<polygon points="453.11,275.70 454.61,275.70 453.86,274.35" fill="#2b55c9" stroke="#2b55c9" stroke-width="0.1"/>
<polygon points="468.44,270.60 469.94,270.60 469.19,269.25" fill="#2b55c9" stroke="#2b55c9" stroke-width="0.1"/>
<polygon points="483.77,263.10 485.27,263.10 484.52,261.75" fill="#2b55c9" stroke="#2b55c9" stroke-width="0.1"/>
<polygon points="512.24,256.70 513.74,256.70 512.99,255.35" fill="#2b55c9" stroke="#2b55c9" stroke-width="0.1"/>
<polyline fill="none" stroke="#9b4fc0" stroke-width="0.7" points="423.20,275.40 438.53,275.40 453.86,275.00 469.19,273.20 484.52,259.30 512.99,251.50"/>
<polygon points="422.05,274.48 424.35,274.48 423.20,276.55" fill="#7a2ab0" stroke="#7a2ab0" stroke-width="0.1"/>
<polygon points="437.38,274.48 439.68,274.48 438.53,276.55" fill="#7a2ab0" stroke="#7a2ab0" stroke-width="0.1"/>
<polygon points="452.71,274.08 455.01,274.08 453.86,276.15" fill="#7a2ab0" stroke="#7a2ab0" stroke-width="0.1"/>
<polygon points="468.04,272.28 470.34,272.28 469.19,274.35" fill="#7a2ab0" stroke="#7a2ab0" stroke-width="0.1"/>
<polygon points="483.37,258.38 485.67,258.38 484.52,260.45" fill="#7a2ab0" stroke="#7a2ab0" stroke-width="0.1"/>
<polygon points="511.84,250.58 514.14,250.58 512.99,252.65" fill="#7a2ab0" stroke="#7a2ab0" stroke-width="0.1"/>
<polyline fill="none" stroke="#ee1111" stroke-width="0.8" points="423.20,274.80 438.53,271.80 453.86,262.20 469.19,247.90 484.52,240.10 512.99,229.50"/>
<rect x="422.10" y="273.70" width="2.20" height="2.20" fill="#ee1111" stroke="none" stroke-width="0.7" />
<rect x="437.43" y="270.70" width="2.20" height="2.20" fill="#ee1111" stroke="none" stroke-width="0.7" />
<rect x="452.76" y="261.10" width="2.20" height="2.20" fill="#ee1111" stroke="none" stroke-width="0.7" />
<rect x="468.09" y="246.80" width="2.20" height="2.20" fill="#ee1111" stroke="none" stroke-width="0.7" />
<rect x="483.42" y="239.00" width="2.20" height="2.20" fill="#ee1111" stroke="none" stroke-width="0.7" />
<rect x="511.89" y="228.40" width="2.20" height="2.20" fill="#ee1111" stroke="none" stroke-width="0.7" />
<polyline fill="none" stroke="#111" stroke-width="0.8" points="423.20,273.90 438.53,270.40 453.86,260.90 469.19,247.50 484.52,239.30 512.99,229.10"/>
<circle cx="423.20" cy="273.90" r="1.3" fill="#000" stroke="none" stroke-width="0.5"/>
<circle cx="438.53" cy="270.40" r="1.3" fill="#000" stroke="none" stroke-width="0.5"/>
<circle cx="453.86" cy="260.90" r="1.3" fill="#000" stroke="none" stroke-width="0.5"/>
<circle cx="469.19" cy="247.50" r="1.3" fill="#000" stroke="none" stroke-width="0.5"/>
<circle cx="484.52" cy="239.30" r="1.3" fill="#000" stroke="none" stroke-width="0.5"/>
<circle cx="512.99" cy="229.10" r="1.3" fill="#000" stroke="none" stroke-width="0.5"/>
<line x1="425.40" y1="221.50" x2="431.80" y2="221.50" stroke="#111" stroke-width="0.7" />
<circle cx="428.60" cy="221.50" r="1.25" fill="#000" stroke="none" stroke-width="0.5"/>
<text x="432.80" y="222.85" font-size="4.92" text-anchor="start" fill="#1a1a1a" >Untreated</text>
<line x1="425.40" y1="226.63" x2="431.80" y2="226.63" stroke="#f66" stroke-width="0.7" />
<rect x="427.60" y="225.63" width="2.00" height="2.00" fill="#ee1111" stroke="none" stroke-width="0.7" />
<text x="432.80" y="227.98" font-size="4.92" text-anchor="start" fill="#1a1a1a" >Mock</text>
<line x1="425.40" y1="231.76" x2="431.80" y2="231.76" stroke="#6a86d8" stroke-width="0.7" />
<polygon points="427.85,232.36 429.35,232.36 428.60,231.01" fill="#2b55c9" stroke="#2b55c9" stroke-width="0.1"/>
<text x="432.80" y="233.11" font-size="4.92" text-anchor="start" fill="#1a1a1a" >shCAR</text>
<line x1="425.40" y1="236.89" x2="431.80" y2="236.89" stroke="#c9a0dc" stroke-width="0.7" />
<polygon points="427.70,236.17 429.50,236.17 428.60,237.79" fill="#7a2ab0" stroke="#7a2ab0" stroke-width="0.1"/>
<text x="432.80" y="238.24" font-size="4.92" text-anchor="start" fill="#1a1a1a" >6MP-treated shCAR</text>
<line x1="425.10" y1="321.30" x2="425.10" y2="395.85" stroke="#111" stroke-width="1.1" />
<line x1="424.55" y1="395.30" x2="540.60" y2="395.30" stroke="#111" stroke-width="1.1" />
<line x1="421.80" y1="395.30" x2="425.10" y2="395.30" stroke="#111" stroke-width="1.0" />
<text x="421.30" y="397.05" font-size="4.9" text-anchor="end" fill="#1a1a1a" >0</text>
<line x1="421.80" y1="380.60" x2="425.10" y2="380.60" stroke="#111" stroke-width="1.0" />
<text x="421.30" y="382.35" font-size="4.9" text-anchor="end" fill="#1a1a1a" >2</text>
<line x1="421.80" y1="365.90" x2="425.10" y2="365.90" stroke="#111" stroke-width="1.0" />
<text x="421.30" y="367.65" font-size="4.9" text-anchor="end" fill="#1a1a1a" >4</text>
<line x1="421.80" y1="351.20" x2="425.10" y2="351.20" stroke="#111" stroke-width="1.0" />
<text x="421.30" y="352.95" font-size="4.9" text-anchor="end" fill="#1a1a1a" >6</text>
<line x1="421.80" y1="336.50" x2="425.10" y2="336.50" stroke="#111" stroke-width="1.0" />
<text x="421.30" y="338.25" font-size="4.9" text-anchor="end" fill="#1a1a1a" >8</text>
<line x1="421.80" y1="321.80" x2="425.10" y2="321.80" stroke="#111" stroke-width="1.0" />
<text x="421.30" y="323.55" font-size="4.9" text-anchor="end" fill="#1a1a1a" >10</text>
<text x="414.40" y="358.50" font-size="6.2" text-anchor="middle" fill="#1a1a1a" transform="rotate(-90 414.40 358.50)" >%CD3+CD45+ cells</text>
<rect x="431.00" y="366.50" width="19.80" height="28.30" fill="#fff" stroke="#9a9a9a" stroke-width="1.3" />
<line x1="440.90" y1="352.67" x2="440.90" y2="378.40" stroke="#222" stroke-width="0.7" />
<line x1="435.30" y1="352.67" x2="446.50" y2="352.67" stroke="#222" stroke-width="0.7" />
<line x1="435.30" y1="378.40" x2="446.50" y2="378.40" stroke="#222" stroke-width="0.7" />
<line x1="440.90" y1="395.30" x2="440.90" y2="398.10" stroke="#111" stroke-width="1.0" />
<rect x="457.90" y="381.94" width="19.80" height="12.86" fill="#fff" stroke="#7a14a0" stroke-width="1.3" />
<line x1="467.80" y1="368.11" x2="467.80" y2="395.30" stroke="#222" stroke-width="0.7" />
<line x1="462.20" y1="368.11" x2="473.40" y2="368.11" stroke="#222" stroke-width="0.7" />
<line x1="462.20" y1="395.30" x2="473.40" y2="395.30" stroke="#222" stroke-width="0.7" />
<line x1="467.80" y1="395.30" x2="467.80" y2="398.10" stroke="#111" stroke-width="1.0" />
<rect x="485.60" y="389.65" width="19.90" height="5.15" fill="#fff" stroke="#9a9a9a" stroke-width="1.3" />
<line x1="495.55" y1="387.58" x2="495.55" y2="390.89" stroke="#222" stroke-width="0.7" />
<line x1="491.55" y1="387.58" x2="499.55" y2="387.58" stroke="#222" stroke-width="0.7" />
<line x1="491.55" y1="390.89" x2="499.55" y2="390.89" stroke="#222" stroke-width="0.7" />
<line x1="495.55" y1="395.30" x2="495.55" y2="398.10" stroke="#111" stroke-width="1.0" />
<rect x="512.90" y="392.23" width="19.80" height="2.58" fill="#fff" stroke="#7a14a0" stroke-width="1.3" />
<line x1="522.80" y1="388.32" x2="522.80" y2="395.30" stroke="#222" stroke-width="0.7" />
<line x1="518.80" y1="388.32" x2="526.80" y2="388.32" stroke="#222" stroke-width="0.7" />
<line x1="518.80" y1="395.30" x2="526.80" y2="395.30" stroke="#222" stroke-width="0.7" />
<line x1="522.80" y1="395.30" x2="522.80" y2="398.10" stroke="#111" stroke-width="1.0" />
<polygon points="439.90,331.21 442.30,331.21 441.10,329.05" fill="#fff" stroke="#9a9a9a" stroke-width="0.45"/>
<polygon points="436.20,386.48 438.60,386.48 437.40,384.32" fill="#fff" stroke="#9a9a9a" stroke-width="0.45"/>
<polygon points="442.10,385.60 444.50,385.60 443.30,383.44" fill="#fff" stroke="#9a9a9a" stroke-width="0.45"/>
<polygon points="466.45,328.15 468.95,328.15 467.70,330.40" fill="#7a14a0" stroke="#7a14a0" stroke-width="0.2"/>
<polygon points="462.85,391.80 465.35,391.80 464.10,394.05" fill="#7a14a0" stroke="#7a14a0" stroke-width="0.2"/>
<polygon points="470.15,393.20 472.65,393.20 471.40,395.45" fill="#7a14a0" stroke="#7a14a0" stroke-width="0.2"/>
<polygon points="490.10,391.98 491.90,391.98 491.00,390.36" fill="#fff" stroke="#9a9a9a" stroke-width="0.45"/>
<polygon points="494.70,389.77 496.50,389.77 495.60,388.15" fill="#fff" stroke="#9a9a9a" stroke-width="0.45"/>
<polygon points="499.10,390.14 500.90,390.14 500.00,388.52" fill="#fff" stroke="#9a9a9a" stroke-width="0.45"/>
<polygon points="521.25,378.50 523.75,378.50 522.50,380.75" fill="#7a14a0" stroke="#7a14a0" stroke-width="0.2"/>
<polygon points="517.75,393.56 520.25,393.56 519.00,395.81" fill="#7a14a0" stroke="#7a14a0" stroke-width="0.2"/>
<polygon points="524.75,393.20 527.25,393.20 526.00,395.45" fill="#7a14a0" stroke="#7a14a0" stroke-width="0.2"/>
<line x1="430.40" y1="323.20" x2="478.60" y2="323.20" stroke="#222" stroke-width="0.8" />
<text x="455.20" y="319.90" font-size="6.2" text-anchor="middle" fill="#1a1a1a" >ns</text>
<line x1="485.00" y1="323.20" x2="533.30" y2="323.20" stroke="#222" stroke-width="0.8" />
<text x="509.30" y="319.90" font-size="6.2" text-anchor="middle" fill="#1a1a1a" >ns</text>
<text x="441.30" y="404.50" font-size="3.85" text-anchor="middle" fill="#1a1a1a" >shCAR</text>
<text x="468.20" y="404.50" font-size="3.85" text-anchor="middle" fill="#1a1a1a" >6MP-treated</text>
<text x="468.20" y="409.00" font-size="3.85" text-anchor="middle" fill="#1a1a1a" >shCAR</text>
<text x="495.60" y="404.50" font-size="3.85" text-anchor="middle" fill="#1a1a1a" >shCAR</text>
<text x="522.80" y="404.50" font-size="3.85" text-anchor="middle" fill="#1a1a1a" >6MP-treated</text>
<text x="522.80" y="409.00" font-size="3.85" text-anchor="middle" fill="#1a1a1a" >shCAR</text>
<line x1="434.60" y1="412.40" x2="473.90" y2="412.40" stroke="#222" stroke-width="0.75" />
<line x1="492.40" y1="412.40" x2="531.00" y2="412.40" stroke="#222" stroke-width="0.75" />
<text x="454.20" y="418.60" font-size="5.8" text-anchor="middle" fill="#1a1a1a" >Blood</text>
<text x="510.80" y="418.60" font-size="5.8" text-anchor="middle" fill="#1a1a1a" >Bone Marrow</text>
</svg>
</body></html>
